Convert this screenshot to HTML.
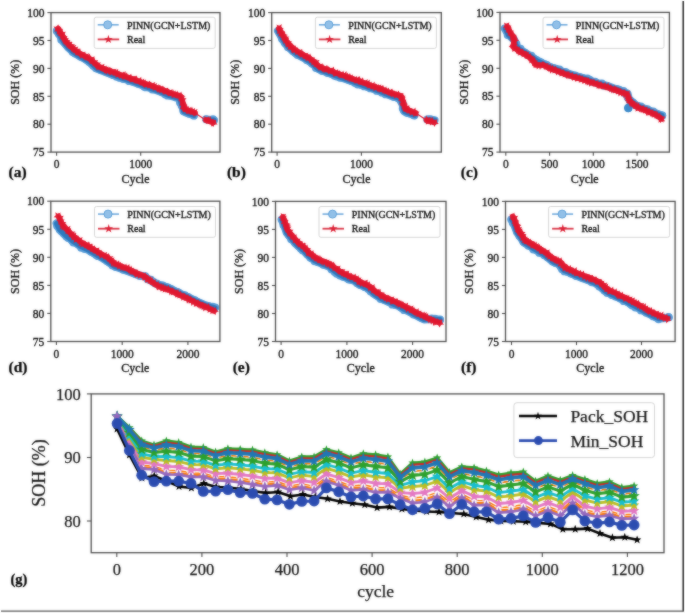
<!DOCTYPE html>
<html><head><meta charset="utf-8"><style>
html,body{margin:0;padding:0;background:#fff;}
svg{display:block;font-family:"Liberation Serif", serif;}
</style></head><body>
<svg width="685" height="613" viewBox="0 0 685 613">
<defs><filter id="soft" x="0" y="0" width="685" height="613" filterUnits="userSpaceOnUse" color-interpolation-filters="sRGB"><feGaussianBlur in="SourceGraphic" stdDeviation="0.8" result="b"/><feComposite in="SourceGraphic" in2="b" operator="arithmetic" k1="0" k2="0.5" k3="0.5" k4="0"/></filter></defs>
<g filter="url(#soft)">
<rect width="685" height="613" fill="#fff"/>
<path d="M57.2,30.9L61.2,37.7L64.5,43.2L68.6,48.1L73.5,52.2L78.4,55.5L84.1,58.7L89.8,62.0L97.8,69.2L109.4,73.6L119.7,77.2L129.9,80.9L140.1,84.5L150.3,88.2L160.5,91.8L169.3,95.5L179.5,98.4L182.2,105.8L183.7,111.6L189.6,113.8L194.0,115.3" fill="none" stroke="#5a9dd8" stroke-width="7.8" stroke-linejoin="round" stroke-linecap="round"/>
<path d="M206.5,119.5L214.0,120.2" fill="none" stroke="#5a9dd8" stroke-width="7.8" stroke-linejoin="round" stroke-linecap="round"/>
<circle cx="56.7" cy="31.0" r="3.9" fill="#5a9dd8"/>
<circle cx="58.6" cy="33.8" r="3.9" fill="#5a9dd8"/>
<circle cx="60.7" cy="35.6" r="3.9" fill="#5a9dd8"/>
<circle cx="61.2" cy="39.8" r="3.9" fill="#5a9dd8"/>
<circle cx="63.3" cy="41.4" r="3.9" fill="#5a9dd8"/>
<circle cx="66.5" cy="44.4" r="3.9" fill="#5a9dd8"/>
<circle cx="68.2" cy="46.9" r="3.9" fill="#5a9dd8"/>
<circle cx="70.2" cy="48.6" r="3.9" fill="#5a9dd8"/>
<circle cx="72.6" cy="51.9" r="3.9" fill="#5a9dd8"/>
<circle cx="75.0" cy="53.6" r="3.9" fill="#5a9dd8"/>
<circle cx="77.9" cy="54.2" r="3.9" fill="#5a9dd8"/>
<circle cx="80.8" cy="56.7" r="3.9" fill="#5a9dd8"/>
<circle cx="82.8" cy="57.3" r="3.9" fill="#5a9dd8"/>
<circle cx="86.6" cy="59.7" r="3.9" fill="#5a9dd8"/>
<circle cx="89.1" cy="62.0" r="3.9" fill="#5a9dd8"/>
<circle cx="91.6" cy="64.0" r="3.9" fill="#5a9dd8"/>
<circle cx="93.4" cy="65.9" r="3.9" fill="#5a9dd8"/>
<circle cx="95.9" cy="68.3" r="3.9" fill="#5a9dd8"/>
<circle cx="99.2" cy="68.7" r="3.9" fill="#5a9dd8"/>
<circle cx="100.8" cy="70.1" r="3.9" fill="#5a9dd8"/>
<circle cx="105.3" cy="71.6" r="3.9" fill="#5a9dd8"/>
<circle cx="107.7" cy="72.5" r="3.9" fill="#5a9dd8"/>
<circle cx="110.5" cy="73.8" r="3.9" fill="#5a9dd8"/>
<circle cx="113.2" cy="75.2" r="3.9" fill="#5a9dd8"/>
<circle cx="116.6" cy="76.8" r="3.9" fill="#5a9dd8"/>
<circle cx="119.8" cy="77.9" r="3.9" fill="#5a9dd8"/>
<circle cx="123.2" cy="79.1" r="3.9" fill="#5a9dd8"/>
<circle cx="125.8" cy="78.7" r="3.9" fill="#5a9dd8"/>
<circle cx="129.2" cy="81.2" r="3.9" fill="#5a9dd8"/>
<circle cx="132.3" cy="81.6" r="3.9" fill="#5a9dd8"/>
<circle cx="135.0" cy="82.0" r="3.9" fill="#5a9dd8"/>
<circle cx="138.2" cy="83.7" r="3.9" fill="#5a9dd8"/>
<circle cx="140.2" cy="83.9" r="3.9" fill="#5a9dd8"/>
<circle cx="144.3" cy="86.7" r="3.9" fill="#5a9dd8"/>
<circle cx="145.9" cy="87.4" r="3.9" fill="#5a9dd8"/>
<circle cx="149.5" cy="87.3" r="3.9" fill="#5a9dd8"/>
<circle cx="152.3" cy="89.5" r="3.9" fill="#5a9dd8"/>
<circle cx="156.3" cy="89.3" r="3.9" fill="#5a9dd8"/>
<circle cx="158.9" cy="90.3" r="3.9" fill="#5a9dd8"/>
<circle cx="162.1" cy="92.0" r="3.9" fill="#5a9dd8"/>
<circle cx="165.3" cy="94.4" r="3.9" fill="#5a9dd8"/>
<circle cx="167.6" cy="95.7" r="3.9" fill="#5a9dd8"/>
<circle cx="170.2" cy="95.1" r="3.9" fill="#5a9dd8"/>
<circle cx="173.8" cy="95.9" r="3.9" fill="#5a9dd8"/>
<circle cx="176.2" cy="97.4" r="3.9" fill="#5a9dd8"/>
<circle cx="179.8" cy="98.1" r="3.9" fill="#5a9dd8"/>
<circle cx="179.9" cy="102.4" r="3.9" fill="#5a9dd8"/>
<circle cx="181.5" cy="105.5" r="3.9" fill="#5a9dd8"/>
<circle cx="183.4" cy="107.6" r="3.9" fill="#5a9dd8"/>
<circle cx="183.4" cy="110.9" r="3.9" fill="#5a9dd8"/>
<circle cx="186.3" cy="112.6" r="3.9" fill="#5a9dd8"/>
<circle cx="189.1" cy="113.8" r="3.9" fill="#5a9dd8"/>
<circle cx="192.8" cy="114.6" r="3.9" fill="#5a9dd8"/>
<circle cx="193.9" cy="115.7" r="3.9" fill="#5a9dd8"/>
<circle cx="206.0" cy="119.1" r="3.9" fill="#5a9dd8"/>
<circle cx="210.5" cy="119.8" r="3.9" fill="#5a9dd8"/>
<circle cx="213.0" cy="119.2" r="3.9" fill="#5a9dd8"/>
<circle cx="213.8" cy="120.3" r="3.9" fill="#5a9dd8"/>
<path d="M57.2,30.9L61.2,37.7L64.5,43.2L68.6,48.1L73.5,52.2L78.4,55.5L84.1,58.7L89.8,62.0L97.8,69.2L109.4,73.6L119.7,77.2L129.9,80.9L140.1,84.5L150.3,88.2L160.5,91.8L169.3,95.5L179.5,98.4L182.2,105.8L183.7,111.6L189.6,113.8L194.0,115.3" fill="none" stroke="#2a7abf" stroke-width="5.2" stroke-linejoin="round" stroke-linecap="round"/>
<path d="M206.5,119.5L214.0,120.2" fill="none" stroke="#2a7abf" stroke-width="5.2" stroke-linejoin="round" stroke-linecap="round"/>
<path d="M58.2,28.5L62.2,35.3L65.5,40.8L69.6,45.7L74.5,49.8L79.4,53.1L85.1,56.3L90.8,59.6L98.8,66.8L110.4,71.2L120.7,74.8L130.9,78.5L141.1,82.1L151.3,85.8L161.5,89.4L170.3,93.1L180.5,96.0L183.2,103.4L184.7,109.2L190.6,111.4L195.0,112.9" fill="none" stroke="#e0162e" stroke-width="5.6" stroke-linejoin="round" stroke-linecap="round"/>
<path d="M206.0,120.2L213.3,122.4" fill="none" stroke="#e0162e" stroke-width="5.6" stroke-linejoin="round" stroke-linecap="round"/>
<path d="M58.2,24.2L59.0,27.2L62.0,28.0L59.3,29.6L59.6,32.7L57.2,30.7L54.3,31.8L55.5,29.0L53.5,26.6L56.6,26.9ZM58.8,26.5L60.1,29.3L63.2,29.4L60.9,31.6L61.7,34.5L59.0,33.0L56.5,34.8L57.1,31.7L54.6,29.8L57.7,29.4ZM62.3,28.6L62.7,31.7L65.7,32.7L62.9,34.0L62.9,37.1L60.7,34.9L57.7,35.8L59.2,33.1L57.4,30.5L60.4,31.1ZM60.4,30.9L62.8,32.8L65.6,31.5L64.6,34.4L66.8,36.6L63.7,36.6L62.2,39.3L61.3,36.3L58.2,35.8L60.8,34.0ZM62.6,34.1L64.6,36.5L67.6,35.9L66.0,38.5L67.5,41.1L64.5,40.4L62.5,42.7L62.3,39.6L59.4,38.4L62.3,37.2ZM64.1,35.8L65.8,38.4L68.9,38.0L67.0,40.4L68.4,43.2L65.5,42.2L63.2,44.4L63.3,41.3L60.5,39.8L63.5,38.9ZM65.8,37.5L67.4,40.2L70.5,39.9L68.5,42.3L69.7,45.2L66.8,44.0L64.5,46.0L64.7,42.9L62.1,41.3L65.1,40.6ZM67.9,39.6L69.5,42.3L72.6,42.0L70.6,44.4L71.7,47.3L68.9,46.0L66.5,48.0L66.8,44.9L64.1,43.3L67.2,42.6ZM71.1,41.1L72.0,44.1L75.1,44.6L72.5,46.4L73.0,49.5L70.5,47.6L67.7,49.0L68.7,46.1L66.5,43.9L69.6,43.9ZM71.2,43.5L73.3,45.8L76.3,45.0L74.7,47.7L76.4,50.3L73.4,49.7L71.4,52.1L71.1,49.0L68.2,47.8L71.0,46.6ZM73.2,45.2L75.4,47.4L78.3,46.5L76.9,49.3L78.7,51.8L75.6,51.3L73.7,53.7L73.3,50.7L70.4,49.7L73.2,48.3ZM74.5,47.5L76.9,49.5L79.7,48.3L78.6,51.2L80.6,53.6L77.5,53.3L75.9,56.0L75.2,53.0L72.1,52.3L74.8,50.6ZM80.4,48.4L80.4,51.5L83.1,52.9L80.2,53.9L79.7,56.9L77.9,54.4L74.8,54.9L76.6,52.4L75.3,49.6L78.2,50.6ZM79.4,50.5L81.6,52.7L84.6,51.7L83.2,54.5L85.0,57.0L81.9,56.5L80.1,59.0L79.6,56.0L76.7,55.0L79.4,53.6ZM85.4,51.6L85.2,54.7L87.8,56.3L84.8,57.1L84.1,60.1L82.5,57.5L79.4,57.7L81.4,55.4L80.2,52.5L83.0,53.7ZM83.9,52.4L86.2,54.4L89.1,53.3L87.9,56.1L89.9,58.5L86.8,58.2L85.1,60.8L84.4,57.8L81.4,57.0L84.1,55.5ZM89.9,53.5L90.0,56.6L92.8,58.0L89.9,59.0L89.5,62.1L87.6,59.6L84.5,60.2L86.3,57.6L84.8,54.9L87.8,55.8ZM89.9,54.7L91.8,57.2L94.9,56.6L93.1,59.1L94.6,61.9L91.6,61.0L89.5,63.3L89.4,60.2L86.6,58.8L89.5,57.8ZM94.7,57.3L94.8,60.4L97.6,61.7L94.7,62.7L94.2,65.8L92.4,63.4L89.3,63.9L91.1,61.4L89.6,58.6L92.6,59.5ZM93.3,58.2L95.2,60.7L98.2,60.1L96.5,62.7L97.9,65.4L94.9,64.5L92.8,66.7L92.7,63.6L89.9,62.3L92.9,61.3ZM96.2,60.1L97.9,62.7L101.0,62.4L99.1,64.8L100.3,67.7L97.4,66.5L95.1,68.6L95.3,65.5L92.6,64.0L95.6,63.2ZM98.1,62.1L99.6,64.8L102.7,64.7L100.5,67.0L101.6,69.9L98.8,68.6L96.3,70.5L96.7,67.4L94.1,65.7L97.2,65.1ZM99.2,63.5L101.8,65.2L104.5,63.7L103.7,66.7L106.0,68.7L102.9,68.9L101.6,71.7L100.5,68.8L97.4,68.5L99.8,66.5ZM106.8,65.4L106.2,68.5L108.6,70.4L105.6,70.8L104.5,73.7L103.2,70.9L100.1,70.8L102.4,68.6L101.5,65.7L104.2,67.2ZM108.3,66.3L108.0,69.4L110.5,71.1L107.5,71.7L106.6,74.7L105.1,72.0L102.0,72.1L104.1,69.8L103.1,66.9L105.9,68.2ZM110.1,66.8L110.1,69.9L112.8,71.3L109.9,72.2L109.3,75.3L107.5,72.8L104.5,73.2L106.3,70.7L105.0,68.0L107.9,68.9ZM110.4,67.2L112.2,69.6L115.3,69.1L113.5,71.7L115.0,74.4L112.0,73.5L109.8,75.7L109.8,72.6L107.0,71.3L109.9,70.2ZM111.4,68.1L113.8,70.0L116.6,68.7L115.6,71.6L117.7,73.9L114.6,73.8L113.1,76.5L112.2,73.5L109.2,72.9L111.7,71.2ZM118.1,68.8L118.2,71.9L121.0,73.2L118.1,74.3L117.6,77.3L115.8,74.9L112.7,75.4L114.5,72.9L113.0,70.1L116.0,71.0ZM119.3,70.4L119.8,73.4L122.8,74.4L120.0,75.8L120.0,78.9L117.8,76.7L114.9,77.7L116.3,74.9L114.4,72.4L117.5,72.9ZM124.1,71.6L123.9,74.7L126.5,76.4L123.5,77.1L122.7,80.1L121.1,77.4L118.0,77.6L120.1,75.3L118.9,72.4L121.8,73.6ZM125.4,71.0L125.7,74.1L128.6,75.2L125.8,76.5L125.6,79.6L123.5,77.3L120.5,78.0L122.1,75.4L120.4,72.7L123.4,73.4ZM127.0,72.2L127.6,75.3L130.5,76.1L127.8,77.6L128.0,80.7L125.7,78.6L122.8,79.7L124.1,76.9L122.1,74.4L125.2,74.8ZM131.4,73.8L131.0,76.9L133.5,78.7L130.5,79.2L129.6,82.2L128.1,79.5L125.0,79.5L127.1,77.3L126.1,74.4L128.9,75.7ZM130.5,74.2L132.4,76.6L135.5,75.9L133.8,78.6L135.4,81.2L132.4,80.5L130.3,82.8L130.1,79.7L127.3,78.5L130.2,77.3ZM136.2,75.4L136.3,78.5L139.2,79.7L136.3,80.8L136.0,83.9L134.0,81.5L131.0,82.2L132.6,79.6L131.1,76.9L134.1,77.7ZM136.7,75.6L137.8,78.5L140.8,78.9L138.4,80.8L139.0,83.9L136.4,82.1L133.7,83.7L134.5,80.7L132.3,78.6L135.4,78.4ZM141.2,76.8L141.4,79.9L144.2,81.1L141.3,82.2L140.9,85.3L139.0,82.9L136.0,83.5L137.7,80.9L136.2,78.2L139.1,79.0ZM144.1,78.6L144.1,81.7L146.9,83.1L143.9,84.1L143.5,87.2L141.6,84.7L138.6,85.1L140.4,82.6L139.0,79.9L141.9,80.8ZM145.5,79.4L145.4,82.5L148.1,84.0L145.1,84.8L144.5,87.9L142.8,85.3L139.7,85.6L141.6,83.2L140.3,80.4L143.3,81.5ZM145.0,79.5L146.9,82.0L150.0,81.4L148.3,83.9L149.8,86.6L146.8,85.8L144.7,88.1L144.6,85.0L141.7,83.7L144.6,82.6ZM149.3,80.5L150.6,83.3L153.7,83.5L151.4,85.6L152.2,88.6L149.5,87.0L146.9,88.7L147.5,85.7L145.1,83.8L148.2,83.4ZM150.0,81.5L152.5,83.3L155.3,82.0L154.3,84.9L156.5,87.1L153.4,87.1L151.9,89.8L151.0,86.9L147.9,86.3L150.5,84.5ZM151.7,82.5L154.2,84.4L157.0,83.1L156.0,86.0L158.1,88.3L155.0,88.2L153.5,90.9L152.6,87.9L149.6,87.3L152.1,85.6ZM155.6,84.4L158.0,86.3L160.8,85.1L159.7,88.0L161.8,90.3L158.7,90.1L157.1,92.8L156.3,89.8L153.3,89.1L155.9,87.4ZM158.6,84.1L160.4,86.6L163.5,86.2L161.6,88.7L163.0,91.4L160.0,90.4L157.8,92.6L157.9,89.5L155.1,88.1L158.1,87.1ZM162.4,85.4L163.3,88.4L166.3,88.9L163.8,90.7L164.2,93.8L161.7,91.9L158.9,93.2L159.9,90.3L157.8,88.0L160.9,88.1ZM163.5,85.9L165.2,88.4L168.3,88.0L166.4,90.5L167.7,93.3L164.8,92.3L162.6,94.4L162.7,91.3L159.9,89.8L162.9,88.9ZM167.7,87.5L168.1,90.6L171.1,91.6L168.3,92.9L168.2,96.0L166.1,93.8L163.1,94.7L164.6,91.9L162.8,89.4L165.8,89.9ZM167.7,88.0L169.9,90.2L172.9,89.3L171.4,92.1L173.2,94.6L170.2,94.1L168.3,96.6L167.9,93.5L164.9,92.5L167.7,91.1ZM173.5,89.5L173.6,92.6L176.5,93.9L173.6,95.0L173.3,98.1L171.3,95.7L168.3,96.3L170.0,93.7L168.4,91.0L171.4,91.8ZM175.2,90.3L176.0,93.3L179.0,94.0L176.4,95.7L176.7,98.8L174.3,96.8L171.4,98.0L172.6,95.1L170.6,92.8L173.6,93.0ZM177.2,90.4L178.4,93.3L181.5,93.5L179.2,95.5L179.9,98.6L177.3,97.0L174.6,98.6L175.3,95.6L173.0,93.6L176.1,93.3ZM181.3,91.4L181.8,94.4L184.7,95.4L182.0,96.8L182.0,99.9L179.8,97.7L176.8,98.7L178.2,95.9L176.4,93.4L179.4,93.9ZM181.4,93.1L182.4,96.1L185.5,96.4L183.1,98.3L183.7,101.4L181.1,99.7L178.4,101.2L179.2,98.2L177.0,96.1L180.1,95.9ZM182.0,95.4L183.5,98.2L186.6,98.2L184.4,100.4L185.4,103.3L182.6,101.9L180.1,103.8L180.6,100.7L178.0,98.9L181.1,98.4ZM185.2,99.7L184.8,102.8L187.4,104.5L184.3,105.1L183.4,108.1L182.0,105.4L178.9,105.4L181.0,103.2L180.0,100.3L182.8,101.6ZM185.2,102.0L185.3,105.1L188.1,106.4L185.2,107.5L184.9,110.6L182.9,108.1L179.9,108.7L181.6,106.2L180.1,103.5L183.1,104.3ZM182.2,104.2L184.5,106.2L187.4,105.1L186.1,108.0L188.1,110.4L185.0,110.1L183.3,112.7L182.7,109.6L179.7,108.9L182.3,107.3ZM188.8,106.0L188.6,109.1L191.2,110.7L188.2,111.5L187.5,114.5L185.9,111.9L182.8,112.1L184.8,109.7L183.6,106.9L186.5,108.0ZM190.5,106.7L190.9,109.7L193.8,110.8L191.0,112.1L190.8,115.2L188.7,112.9L185.7,113.8L187.3,111.1L185.6,108.5L188.6,109.1ZM192.0,106.6L192.9,109.6L195.9,110.2L193.4,111.9L193.7,115.0L191.3,113.1L188.5,114.5L189.5,111.5L187.4,109.3L190.5,109.4ZM194.7,107.8L194.9,110.9L197.8,112.1L194.9,113.3L194.6,116.3L192.6,114.0L189.6,114.6L191.2,112.0L189.7,109.3L192.7,110.1ZM192.3,108.3L194.7,110.3L197.5,109.1L196.4,112.0L198.4,114.3L195.3,114.1L193.7,116.8L192.9,113.8L189.9,113.1L192.5,111.4ZM204.1,116.0L206.6,117.7L209.4,116.3L208.5,119.2L210.7,121.4L207.6,121.5L206.3,124.2L205.3,121.3L202.2,120.9L204.6,119.0ZM210.9,116.3L210.8,119.4L213.5,120.9L210.6,121.8L210.0,124.8L208.3,122.3L205.2,122.7L207.0,120.2L205.7,117.5L208.6,118.5ZM213.7,118.4L213.3,121.4L215.8,123.2L212.7,123.8L211.8,126.7L210.4,124.0L207.3,124.0L209.4,121.8L208.5,118.8L211.2,120.2ZM211.0,119.0L213.6,120.8L216.3,119.4L215.4,122.3L217.6,124.5L214.5,124.5L213.1,127.3L212.1,124.4L209.0,123.9L211.5,122.1Z" fill="#e0162e"/>
<path d="M195.0,112.9L206.0,120.2" fill="none" stroke="#e0172e" stroke-width="1.2"/>
<rect x="51" y="12.6" width="169.0" height="139.5" fill="none" stroke="#4d4d4d" stroke-width="1.3"/>
<line x1="47.4" y1="12.6" x2="51" y2="12.6" stroke="#4d4d4d" stroke-width="1.1"/>
<text x="44.5" y="16.8" font-size="11.5" text-anchor="end" font-weight="normal" fill="#141414" stroke="#141414" stroke-width="0.35" >100</text>
<line x1="47.4" y1="40.5" x2="51" y2="40.5" stroke="#4d4d4d" stroke-width="1.1"/>
<text x="44.5" y="44.7" font-size="11.5" text-anchor="end" font-weight="normal" fill="#141414" stroke="#141414" stroke-width="0.35" >95</text>
<line x1="47.4" y1="68.4" x2="51" y2="68.4" stroke="#4d4d4d" stroke-width="1.1"/>
<text x="44.5" y="72.6" font-size="11.5" text-anchor="end" font-weight="normal" fill="#141414" stroke="#141414" stroke-width="0.35" >90</text>
<line x1="47.4" y1="96.3" x2="51" y2="96.3" stroke="#4d4d4d" stroke-width="1.1"/>
<text x="44.5" y="100.5" font-size="11.5" text-anchor="end" font-weight="normal" fill="#141414" stroke="#141414" stroke-width="0.35" >85</text>
<line x1="47.4" y1="124.2" x2="51" y2="124.2" stroke="#4d4d4d" stroke-width="1.1"/>
<text x="44.5" y="128.4" font-size="11.5" text-anchor="end" font-weight="normal" fill="#141414" stroke="#141414" stroke-width="0.35" >80</text>
<line x1="47.4" y1="152.1" x2="51" y2="152.1" stroke="#4d4d4d" stroke-width="1.1"/>
<text x="44.5" y="156.3" font-size="11.5" text-anchor="end" font-weight="normal" fill="#141414" stroke="#141414" stroke-width="0.35" >75</text>
<line x1="56.6" y1="152.1" x2="56.6" y2="155.7" stroke="#4d4d4d" stroke-width="1.1"/>
<text x="56.6" y="168.1" font-size="11.5" text-anchor="middle" font-weight="normal" fill="#141414" stroke="#141414" stroke-width="0.35" >0</text>
<line x1="140.7" y1="152.1" x2="140.7" y2="155.7" stroke="#4d4d4d" stroke-width="1.1"/>
<text x="140.7" y="168.1" font-size="11.5" text-anchor="middle" font-weight="normal" fill="#141414" stroke="#141414" stroke-width="0.35" >1000</text>
<text x="135.5" y="182.6" font-size="12" text-anchor="middle" font-weight="normal" fill="#141414" stroke="#141414" stroke-width="0.35" >Cycle</text>
<text x="0" y="0" font-size="12" text-anchor="middle" fill="#141414" stroke="#141414" stroke-width="0.35" transform="translate(18.7,82.3) rotate(-90)">SOH (%)</text>
<text x="8.5" y="176.6" font-size="15.5" text-anchor="start" font-weight="bold" fill="#000" stroke="#000" stroke-width="0.25" >(a)</text>
<rect x="94.2" y="17.2" width="121" height="31.2" rx="2" fill="#fff" fill-opacity="0.85" stroke="#d4d4d4" stroke-width="1"/>
<line x1="97.7" y1="24.799999999999997" x2="118.7" y2="24.799999999999997" stroke="#6fa9dc" stroke-width="1.6"/>
<circle cx="107.7" cy="24.799999999999997" r="4" fill="#92c0e8" stroke="#5b9fd8" stroke-width="1"/>
<line x1="97.7" y1="39.4" x2="119.2" y2="39.4" stroke="#d93344" stroke-width="1.8"/>
<path d="M108.4,34.8L109.4,38.0L112.8,38.0L110.1,39.9L111.1,43.1L108.4,41.2L105.7,43.1L106.7,39.9L104.0,38.0L107.4,38.0Z" fill="#dc1f34"/>
<text x="127.0" y="28.8" font-size="10" text-anchor="start" font-weight="normal" fill="#141414" stroke="#141414" stroke-width="0.35" >PINN(GCN+LSTM)</text>
<text x="127.0" y="43.4" font-size="10" text-anchor="start" font-weight="normal" fill="#141414" stroke="#141414" stroke-width="0.35" >Real</text>
<path d="M277.9,30.9L281.9,37.7L285.2,43.2L289.3,48.1L294.2,52.2L299.1,55.5L304.8,58.7L310.5,62.0L318.5,69.2L330.1,73.6L340.4,77.2L350.6,80.9L360.8,84.5L371.0,88.2L381.2,91.8L390.0,95.5L400.2,98.4L402.9,105.8L404.4,111.6L410.3,113.8L414.7,115.3" fill="none" stroke="#5a9dd8" stroke-width="7.8" stroke-linejoin="round" stroke-linecap="round"/>
<path d="M427.2,119.5L434.7,120.2" fill="none" stroke="#5a9dd8" stroke-width="7.8" stroke-linejoin="round" stroke-linecap="round"/>
<circle cx="278.4" cy="30.9" r="3.9" fill="#5a9dd8"/>
<circle cx="279.9" cy="33.0" r="3.9" fill="#5a9dd8"/>
<circle cx="281.6" cy="37.2" r="3.9" fill="#5a9dd8"/>
<circle cx="282.0" cy="38.9" r="3.9" fill="#5a9dd8"/>
<circle cx="284.5" cy="42.5" r="3.9" fill="#5a9dd8"/>
<circle cx="285.8" cy="43.9" r="3.9" fill="#5a9dd8"/>
<circle cx="287.9" cy="47.2" r="3.9" fill="#5a9dd8"/>
<circle cx="291.1" cy="49.0" r="3.9" fill="#5a9dd8"/>
<circle cx="292.8" cy="51.1" r="3.9" fill="#5a9dd8"/>
<circle cx="295.4" cy="53.0" r="3.9" fill="#5a9dd8"/>
<circle cx="297.5" cy="54.9" r="3.9" fill="#5a9dd8"/>
<circle cx="301.9" cy="56.4" r="3.9" fill="#5a9dd8"/>
<circle cx="304.3" cy="57.5" r="3.9" fill="#5a9dd8"/>
<circle cx="306.9" cy="60.2" r="3.9" fill="#5a9dd8"/>
<circle cx="309.7" cy="61.4" r="3.9" fill="#5a9dd8"/>
<circle cx="311.9" cy="63.5" r="3.9" fill="#5a9dd8"/>
<circle cx="315.0" cy="64.8" r="3.9" fill="#5a9dd8"/>
<circle cx="315.9" cy="68.0" r="3.9" fill="#5a9dd8"/>
<circle cx="319.9" cy="69.5" r="3.9" fill="#5a9dd8"/>
<circle cx="322.1" cy="71.0" r="3.9" fill="#5a9dd8"/>
<circle cx="324.6" cy="71.3" r="3.9" fill="#5a9dd8"/>
<circle cx="327.6" cy="73.0" r="3.9" fill="#5a9dd8"/>
<circle cx="330.8" cy="73.5" r="3.9" fill="#5a9dd8"/>
<circle cx="334.5" cy="75.8" r="3.9" fill="#5a9dd8"/>
<circle cx="336.8" cy="76.5" r="3.9" fill="#5a9dd8"/>
<circle cx="340.1" cy="77.8" r="3.9" fill="#5a9dd8"/>
<circle cx="343.4" cy="77.8" r="3.9" fill="#5a9dd8"/>
<circle cx="345.7" cy="78.5" r="3.9" fill="#5a9dd8"/>
<circle cx="349.2" cy="80.2" r="3.9" fill="#5a9dd8"/>
<circle cx="351.7" cy="81.2" r="3.9" fill="#5a9dd8"/>
<circle cx="355.0" cy="83.0" r="3.9" fill="#5a9dd8"/>
<circle cx="357.7" cy="84.5" r="3.9" fill="#5a9dd8"/>
<circle cx="361.3" cy="84.9" r="3.9" fill="#5a9dd8"/>
<circle cx="364.3" cy="86.4" r="3.9" fill="#5a9dd8"/>
<circle cx="367.9" cy="87.0" r="3.9" fill="#5a9dd8"/>
<circle cx="370.3" cy="88.4" r="3.9" fill="#5a9dd8"/>
<circle cx="374.0" cy="88.8" r="3.9" fill="#5a9dd8"/>
<circle cx="376.8" cy="90.9" r="3.9" fill="#5a9dd8"/>
<circle cx="379.3" cy="90.7" r="3.9" fill="#5a9dd8"/>
<circle cx="381.9" cy="92.7" r="3.9" fill="#5a9dd8"/>
<circle cx="385.6" cy="94.4" r="3.9" fill="#5a9dd8"/>
<circle cx="388.9" cy="94.3" r="3.9" fill="#5a9dd8"/>
<circle cx="390.7" cy="95.4" r="3.9" fill="#5a9dd8"/>
<circle cx="393.8" cy="97.1" r="3.9" fill="#5a9dd8"/>
<circle cx="398.1" cy="98.3" r="3.9" fill="#5a9dd8"/>
<circle cx="399.9" cy="99.4" r="3.9" fill="#5a9dd8"/>
<circle cx="401.1" cy="101.6" r="3.9" fill="#5a9dd8"/>
<circle cx="402.9" cy="104.0" r="3.9" fill="#5a9dd8"/>
<circle cx="402.7" cy="108.4" r="3.9" fill="#5a9dd8"/>
<circle cx="403.8" cy="110.6" r="3.9" fill="#5a9dd8"/>
<circle cx="406.8" cy="112.8" r="3.9" fill="#5a9dd8"/>
<circle cx="408.8" cy="113.3" r="3.9" fill="#5a9dd8"/>
<circle cx="412.6" cy="114.6" r="3.9" fill="#5a9dd8"/>
<circle cx="414.2" cy="115.5" r="3.9" fill="#5a9dd8"/>
<circle cx="428.0" cy="119.3" r="3.9" fill="#5a9dd8"/>
<circle cx="430.5" cy="119.1" r="3.9" fill="#5a9dd8"/>
<circle cx="433.2" cy="120.4" r="3.9" fill="#5a9dd8"/>
<circle cx="434.0" cy="120.9" r="3.9" fill="#5a9dd8"/>
<path d="M277.9,30.9L281.9,37.7L285.2,43.2L289.3,48.1L294.2,52.2L299.1,55.5L304.8,58.7L310.5,62.0L318.5,69.2L330.1,73.6L340.4,77.2L350.6,80.9L360.8,84.5L371.0,88.2L381.2,91.8L390.0,95.5L400.2,98.4L402.9,105.8L404.4,111.6L410.3,113.8L414.7,115.3" fill="none" stroke="#2a7abf" stroke-width="5.2" stroke-linejoin="round" stroke-linecap="round"/>
<path d="M427.2,119.5L434.7,120.2" fill="none" stroke="#2a7abf" stroke-width="5.2" stroke-linejoin="round" stroke-linecap="round"/>
<path d="M278.9,28.5L282.9,35.3L286.2,40.8L290.3,45.7L295.2,49.8L300.1,53.1L305.8,56.3L311.5,59.6L319.5,66.8L331.1,71.2L341.4,74.8L351.6,78.5L361.8,82.1L372.0,85.8L382.2,89.4L391.0,93.1L401.2,96.0L403.9,103.4L405.4,109.2L411.3,111.4L415.7,112.9" fill="none" stroke="#e0162e" stroke-width="5.6" stroke-linejoin="round" stroke-linecap="round"/>
<path d="M426.7,120.2L434.0,122.4" fill="none" stroke="#e0162e" stroke-width="5.6" stroke-linejoin="round" stroke-linecap="round"/>
<path d="M281.7,24.1L281.3,27.1L283.9,28.9L280.8,29.4L279.9,32.4L278.4,29.7L275.4,29.7L277.5,27.5L276.5,24.6L279.3,25.9ZM281.5,26.9L281.7,30.0L284.6,31.2L281.7,32.4L281.5,35.5L279.5,33.1L276.5,33.9L278.1,31.2L276.4,28.6L279.5,29.3ZM282.2,29.0L282.8,32.0L285.8,32.8L283.1,34.4L283.3,37.5L281.0,35.4L278.1,36.5L279.3,33.7L277.4,31.2L280.5,31.6ZM284.8,30.9L285.1,33.9L287.9,35.1L285.1,36.3L284.9,39.4L282.8,37.1L279.8,37.8L281.4,35.2L279.8,32.5L282.8,33.2ZM285.2,33.5L286.3,36.5L289.4,36.8L286.9,38.7L287.5,41.8L285.0,40.1L282.2,41.6L283.1,38.6L280.8,36.5L283.9,36.3ZM284.5,35.7L286.1,38.3L289.2,38.0L287.3,40.4L288.5,43.2L285.6,42.1L283.3,44.2L283.5,41.1L280.8,39.5L283.8,38.7ZM288.1,38.0L289.0,41.0L292.1,41.5L289.6,43.3L290.1,46.3L287.6,44.5L284.8,45.9L285.8,43.0L283.6,40.8L286.7,40.8ZM289.4,40.1L290.1,43.1L293.1,43.8L290.5,45.4L290.7,48.5L288.4,46.5L285.5,47.7L286.7,44.8L284.7,42.5L287.8,42.7ZM291.4,42.4L292.0,45.4L295.0,46.3L292.3,47.8L292.5,50.9L290.2,48.8L287.3,49.9L288.5,47.1L286.6,44.7L289.7,45.0ZM290.7,44.5L292.9,46.6L295.8,45.6L294.6,48.4L296.5,50.8L293.4,50.5L291.7,53.0L291.0,50.0L288.1,49.1L290.8,47.6ZM295.4,45.6L296.3,48.6L299.3,49.2L296.7,50.9L297.1,54.0L294.7,52.1L291.9,53.4L292.9,50.5L290.8,48.2L293.9,48.3ZM297.2,47.0L298.6,49.8L301.7,49.9L299.4,52.0L300.3,55.0L297.6,53.5L295.0,55.2L295.6,52.2L293.1,50.3L296.2,49.9ZM297.1,48.4L299.6,50.3L302.4,49.0L301.3,51.9L303.4,54.2L300.4,54.1L298.9,56.8L298.0,53.8L294.9,53.2L297.5,51.5ZM302.5,50.0L303.5,52.9L306.6,53.3L304.1,55.2L304.7,58.3L302.1,56.5L299.4,58.0L300.3,55.0L298.0,52.9L301.1,52.8ZM303.4,50.9L305.3,53.4L308.4,52.7L306.7,55.3L308.2,58.0L305.2,57.2L303.1,59.5L303.0,56.4L300.1,55.1L303.0,54.0ZM304.1,53.5L306.6,55.3L309.4,53.9L308.4,56.8L310.6,59.0L307.5,59.0L306.1,61.8L305.2,58.8L302.1,58.4L304.6,56.5ZM310.4,53.5L310.6,56.6L313.5,57.8L310.6,59.0L310.3,62.1L308.3,59.7L305.3,60.4L307.0,57.8L305.4,55.1L308.4,55.9ZM310.6,54.8L312.1,57.5L315.2,57.4L313.1,59.7L314.2,62.6L311.3,61.3L308.9,63.2L309.3,60.1L306.7,58.4L309.7,57.8ZM312.6,57.2L314.3,59.8L317.4,59.5L315.4,61.9L316.7,64.8L313.8,63.6L311.4,65.7L311.6,62.6L308.9,61.0L311.9,60.2ZM314.6,58.2L316.5,60.6L319.6,60.0L317.9,62.6L319.4,65.3L316.4,64.5L314.3,66.8L314.2,63.7L311.3,62.4L314.3,61.3ZM318.3,60.1L318.5,63.2L321.3,64.4L318.4,65.6L318.1,68.6L316.1,66.2L313.1,66.9L314.8,64.3L313.2,61.6L316.2,62.4ZM318.0,62.1L320.2,64.3L323.2,63.4L321.7,66.1L323.5,68.7L320.4,68.1L318.6,70.6L318.1,67.5L315.2,66.5L318.0,65.1ZM323.4,63.9L323.5,67.0L326.2,68.3L323.3,69.3L322.9,72.4L321.0,69.9L317.9,70.4L319.7,67.9L318.3,65.2L321.2,66.1ZM322.9,64.7L325.1,66.8L328.1,65.8L326.7,68.6L328.6,71.0L325.6,70.6L323.8,73.2L323.2,70.1L320.3,69.3L323.0,67.8ZM326.9,64.7L328.0,67.6L331.1,67.9L328.7,69.9L329.3,72.9L326.7,71.2L324.0,72.7L324.8,69.7L322.5,67.7L325.6,67.5ZM328.2,65.9L330.2,68.2L333.2,67.6L331.6,70.2L333.1,72.8L330.1,72.1L328.1,74.4L327.9,71.3L325.0,70.1L327.9,68.9ZM334.0,66.6L334.1,69.7L336.9,71.1L333.9,72.1L333.5,75.2L331.6,72.7L328.6,73.3L330.3,70.7L328.9,68.0L331.8,68.9ZM334.4,68.6L336.0,71.2L339.1,71.0L337.1,73.4L338.2,76.3L335.3,75.0L333.0,77.0L333.2,73.9L330.6,72.2L333.7,71.6ZM337.9,69.0L338.6,72.0L341.6,72.7L338.9,74.3L339.2,77.4L336.8,75.4L333.9,76.6L335.1,73.7L333.1,71.3L336.2,71.6ZM339.2,70.1L341.0,72.6L344.1,72.1L342.3,74.6L343.7,77.3L340.8,76.4L338.6,78.6L338.6,75.5L335.8,74.1L338.7,73.1ZM343.2,70.6L344.0,73.6L347.1,74.2L344.5,75.9L344.8,79.0L342.4,77.1L339.6,78.3L340.7,75.4L338.6,73.2L341.7,73.3ZM346.4,71.0L346.7,74.1L349.5,75.3L346.6,76.5L346.4,79.6L344.4,77.2L341.3,77.9L343.0,75.3L341.4,72.6L344.4,73.4ZM347.6,72.4L348.7,75.3L351.8,75.6L349.4,77.6L350.0,80.6L347.4,78.9L344.7,80.5L345.5,77.5L343.2,75.4L346.3,75.2ZM349.9,72.9L351.0,75.8L354.0,76.2L351.6,78.1L352.2,81.1L349.6,79.4L346.9,81.0L347.8,78.0L345.5,75.9L348.6,75.7ZM352.4,74.3L353.1,77.3L356.1,78.1L353.5,79.7L353.6,82.8L351.3,80.7L348.4,81.9L349.7,79.0L347.7,76.6L350.8,76.9ZM357.1,75.9L356.7,79.0L359.2,80.8L356.1,81.3L355.1,84.2L353.7,81.5L350.6,81.5L352.8,79.3L351.9,76.3L354.6,77.7ZM359.5,75.8L359.6,78.9L362.5,80.2L359.5,81.3L359.2,84.4L357.3,81.9L354.2,82.5L355.9,80.0L354.4,77.3L357.4,78.1ZM359.4,76.4L361.0,79.0L364.1,78.7L362.1,81.1L363.3,84.0L360.5,82.8L358.1,84.9L358.3,81.8L355.7,80.2L358.7,79.4ZM362.3,77.3L363.4,80.2L366.5,80.6L364.0,82.5L364.6,85.5L362.0,83.8L359.3,85.3L360.2,82.3L357.9,80.2L361.0,80.1ZM367.6,79.0L367.4,82.1L370.1,83.6L367.1,84.4L366.5,87.4L364.8,84.9L361.7,85.2L363.6,82.8L362.4,79.9L365.3,81.0ZM369.7,79.6L369.6,82.7L372.3,84.2L369.3,85.1L368.7,88.1L367.0,85.5L363.9,85.9L365.8,83.4L364.5,80.6L367.4,81.7ZM371.4,81.4L371.8,84.4L374.7,85.5L372.0,86.8L371.9,89.9L369.7,87.7L366.8,88.6L368.2,85.8L366.5,83.3L369.5,83.8ZM374.6,81.6L374.7,84.7L377.5,86.1L374.6,87.1L374.1,90.2L372.3,87.7L369.2,88.3L371.0,85.7L369.5,83.0L372.5,83.9ZM375.5,82.9L376.9,85.7L380.0,85.7L377.8,87.9L378.7,90.9L376.0,89.5L373.4,91.3L373.9,88.2L371.4,86.4L374.5,85.9ZM376.1,83.8L378.4,85.8L381.3,84.6L380.1,87.5L382.1,89.9L379.0,89.6L377.4,92.2L376.7,89.2L373.7,88.5L376.3,86.9ZM378.1,83.9L380.2,86.2L383.2,85.3L381.7,88.0L383.4,90.6L380.4,90.0L378.5,92.5L378.1,89.4L375.2,88.3L378.0,87.0ZM383.4,85.3L383.9,88.3L386.8,89.3L384.1,90.7L384.1,93.8L381.9,91.6L378.9,92.6L380.3,89.8L378.5,87.3L381.6,87.8ZM386.2,86.2L386.8,89.2L389.8,90.0L387.1,91.6L387.3,94.7L385.0,92.6L382.1,93.7L383.4,90.9L381.4,88.5L384.5,88.8ZM388.9,87.4L389.2,90.5L392.0,91.7L389.2,92.9L388.9,96.0L386.9,93.6L383.9,94.4L385.5,91.7L383.9,89.1L386.9,89.8ZM392.2,88.4L392.0,91.4L394.6,93.1L391.6,93.8L390.8,96.8L389.2,94.2L386.1,94.4L388.2,92.0L387.0,89.1L389.8,90.4ZM392.5,89.0L394.1,91.6L397.2,91.4L395.2,93.8L396.3,96.6L393.5,95.4L391.1,97.4L391.4,94.4L388.7,92.7L391.7,92.0ZM394.0,90.2L396.1,92.6L399.1,91.8L397.5,94.5L399.2,97.1L396.2,96.4L394.2,98.8L393.9,95.7L391.0,94.6L393.8,93.3ZM398.9,90.5L399.0,93.5L401.9,94.8L399.0,95.9L398.6,99.0L396.7,96.6L393.6,97.2L395.3,94.6L393.8,92.0L396.8,92.8ZM398.5,91.6L400.7,93.8L403.6,93.0L402.2,95.7L403.9,98.2L400.9,97.7L399.0,100.1L398.6,97.1L395.7,96.0L398.4,94.7ZM401.0,93.1L402.5,95.8L405.6,95.7L403.5,97.9L404.6,100.8L401.8,99.5L399.3,101.5L399.7,98.4L397.1,96.6L400.1,96.0ZM400.4,95.9L402.7,97.9L405.6,96.7L404.4,99.6L406.4,101.9L403.3,101.7L401.7,104.3L401.0,101.3L397.9,100.6L400.6,98.9ZM401.0,99.2L403.5,101.0L406.3,99.7L405.3,102.6L407.4,104.9L404.3,104.8L402.9,107.5L402.0,104.6L398.9,104.0L401.5,102.2ZM403.3,101.1L404.8,103.8L407.9,103.7L405.8,106.0L406.8,108.9L404.0,107.6L401.6,109.5L402.0,106.4L399.4,104.7L402.5,104.1ZM404.9,103.2L406.4,105.9L409.5,105.8L407.4,108.1L408.5,111.0L405.7,109.7L403.2,111.6L403.6,108.5L401.0,106.8L404.1,106.2ZM409.3,105.3L408.8,108.4L411.3,110.2L408.2,110.7L407.2,113.6L405.8,110.9L402.7,110.8L404.9,108.7L404.0,105.7L406.8,107.1ZM409.0,105.7L410.3,108.5L413.4,108.7L411.1,110.8L411.9,113.7L409.2,112.2L406.6,113.9L407.3,110.9L404.9,108.9L407.9,108.6ZM410.8,107.4L412.5,110.0L415.6,109.7L413.7,112.1L414.9,114.9L412.0,113.8L409.7,115.9L409.9,112.8L407.2,111.3L410.2,110.5ZM415.4,107.6L415.7,110.7L418.6,111.7L415.8,113.0L415.7,116.1L413.6,113.9L410.6,114.7L412.1,112.0L410.4,109.4L413.4,110.0ZM415.2,108.8L416.5,111.6L419.6,111.7L417.3,113.8L418.2,116.8L415.5,115.3L412.9,117.1L413.5,114.0L411.1,112.1L414.1,111.7ZM426.0,115.6L428.0,118.0L431.0,117.3L429.3,119.9L430.9,122.6L427.9,121.9L425.9,124.2L425.7,121.1L422.8,119.9L425.7,118.7ZM429.7,117.0L430.4,120.0L433.4,120.7L430.8,122.3L431.0,125.4L428.6,123.4L425.8,124.6L427.0,121.7L424.9,119.4L428.0,119.6ZM432.6,116.8L433.2,119.8L436.1,120.8L433.4,122.2L433.4,125.3L431.2,123.2L428.3,124.2L429.6,121.4L427.8,118.9L430.8,119.3ZM432.1,118.8L434.7,120.5L437.4,119.0L436.6,122.0L438.9,124.1L435.8,124.2L434.5,127.0L433.4,124.1L430.3,123.8L432.8,121.8Z" fill="#e0162e"/>
<path d="M415.7,112.9L426.7,120.2" fill="none" stroke="#e0172e" stroke-width="1.2"/>
<rect x="271.7" y="12.6" width="169.6" height="139.5" fill="none" stroke="#4d4d4d" stroke-width="1.3"/>
<line x1="268.1" y1="12.6" x2="271.7" y2="12.6" stroke="#4d4d4d" stroke-width="1.1"/>
<text x="265.2" y="16.8" font-size="11.5" text-anchor="end" font-weight="normal" fill="#141414" stroke="#141414" stroke-width="0.35" >100</text>
<line x1="268.1" y1="40.5" x2="271.7" y2="40.5" stroke="#4d4d4d" stroke-width="1.1"/>
<text x="265.2" y="44.7" font-size="11.5" text-anchor="end" font-weight="normal" fill="#141414" stroke="#141414" stroke-width="0.35" >95</text>
<line x1="268.1" y1="68.4" x2="271.7" y2="68.4" stroke="#4d4d4d" stroke-width="1.1"/>
<text x="265.2" y="72.6" font-size="11.5" text-anchor="end" font-weight="normal" fill="#141414" stroke="#141414" stroke-width="0.35" >90</text>
<line x1="268.1" y1="96.3" x2="271.7" y2="96.3" stroke="#4d4d4d" stroke-width="1.1"/>
<text x="265.2" y="100.5" font-size="11.5" text-anchor="end" font-weight="normal" fill="#141414" stroke="#141414" stroke-width="0.35" >85</text>
<line x1="268.1" y1="124.2" x2="271.7" y2="124.2" stroke="#4d4d4d" stroke-width="1.1"/>
<text x="265.2" y="128.4" font-size="11.5" text-anchor="end" font-weight="normal" fill="#141414" stroke="#141414" stroke-width="0.35" >80</text>
<line x1="268.1" y1="152.1" x2="271.7" y2="152.1" stroke="#4d4d4d" stroke-width="1.1"/>
<text x="265.2" y="156.3" font-size="11.5" text-anchor="end" font-weight="normal" fill="#141414" stroke="#141414" stroke-width="0.35" >75</text>
<line x1="277.1" y1="152.1" x2="277.1" y2="155.7" stroke="#4d4d4d" stroke-width="1.1"/>
<text x="277.1" y="168.1" font-size="11.5" text-anchor="middle" font-weight="normal" fill="#141414" stroke="#141414" stroke-width="0.35" >0</text>
<line x1="361.4" y1="152.1" x2="361.4" y2="155.7" stroke="#4d4d4d" stroke-width="1.1"/>
<text x="361.4" y="168.1" font-size="11.5" text-anchor="middle" font-weight="normal" fill="#141414" stroke="#141414" stroke-width="0.35" >1000</text>
<text x="356.5" y="182.6" font-size="12" text-anchor="middle" font-weight="normal" fill="#141414" stroke="#141414" stroke-width="0.35" >Cycle</text>
<text x="0" y="0" font-size="12" text-anchor="middle" fill="#141414" stroke="#141414" stroke-width="0.35" transform="translate(239.4,82.3) rotate(-90)">SOH (%)</text>
<text x="226.9" y="176.6" font-size="15.5" text-anchor="start" font-weight="bold" fill="#000" stroke="#000" stroke-width="0.25" >(b)</text>
<rect x="315.4" y="17.2" width="121" height="31.2" rx="2" fill="#fff" fill-opacity="0.85" stroke="#d4d4d4" stroke-width="1"/>
<line x1="318.9" y1="24.799999999999997" x2="339.9" y2="24.799999999999997" stroke="#6fa9dc" stroke-width="1.6"/>
<circle cx="328.9" cy="24.799999999999997" r="4" fill="#92c0e8" stroke="#5b9fd8" stroke-width="1"/>
<line x1="318.9" y1="39.4" x2="340.4" y2="39.4" stroke="#d93344" stroke-width="1.8"/>
<path d="M329.6,34.8L330.6,38.0L334.0,38.0L331.3,39.9L332.3,43.1L329.6,41.2L326.9,43.1L327.9,39.9L325.2,38.0L328.6,38.0Z" fill="#dc1f34"/>
<text x="348.2" y="28.8" font-size="10" text-anchor="start" font-weight="normal" fill="#141414" stroke="#141414" stroke-width="0.35" >PINN(GCN+LSTM)</text>
<text x="348.2" y="43.4" font-size="10" text-anchor="start" font-weight="normal" fill="#141414" stroke="#141414" stroke-width="0.35" >Real</text>
<path d="M505.5,29.0L508.5,35.0L514.5,40.5L516.0,45.5L519.0,49.0L526.0,53.2L532.5,57.5L538.0,61.5L544.0,64.0L550.0,67.0L558.0,70.0L566.0,72.8L573.5,75.3L584.5,78.5L595.5,82.5L607.0,85.7L618.0,89.8L627.5,93.3L629.0,99.0L636.0,105.2L645.5,109.0L655.0,113.0L662.0,115.5" fill="none" stroke="#5a9dd8" stroke-width="7.8" stroke-linejoin="round" stroke-linecap="round"/>
<circle cx="504.7" cy="28.3" r="3.9" fill="#5a9dd8"/>
<circle cx="506.3" cy="31.0" r="3.9" fill="#5a9dd8"/>
<circle cx="507.6" cy="35.0" r="3.9" fill="#5a9dd8"/>
<circle cx="511.4" cy="36.4" r="3.9" fill="#5a9dd8"/>
<circle cx="513.8" cy="39.1" r="3.9" fill="#5a9dd8"/>
<circle cx="515.4" cy="42.4" r="3.9" fill="#5a9dd8"/>
<circle cx="516.5" cy="43.8" r="3.9" fill="#5a9dd8"/>
<circle cx="517.2" cy="47.5" r="3.9" fill="#5a9dd8"/>
<circle cx="520.6" cy="48.7" r="3.9" fill="#5a9dd8"/>
<circle cx="522.2" cy="51.8" r="3.9" fill="#5a9dd8"/>
<circle cx="524.6" cy="52.6" r="3.9" fill="#5a9dd8"/>
<circle cx="527.7" cy="54.8" r="3.9" fill="#5a9dd8"/>
<circle cx="531.4" cy="55.7" r="3.9" fill="#5a9dd8"/>
<circle cx="533.7" cy="58.5" r="3.9" fill="#5a9dd8"/>
<circle cx="536.5" cy="60.0" r="3.9" fill="#5a9dd8"/>
<circle cx="539.3" cy="61.5" r="3.9" fill="#5a9dd8"/>
<circle cx="541.3" cy="62.5" r="3.9" fill="#5a9dd8"/>
<circle cx="544.9" cy="64.2" r="3.9" fill="#5a9dd8"/>
<circle cx="546.9" cy="65.0" r="3.9" fill="#5a9dd8"/>
<circle cx="550.5" cy="67.2" r="3.9" fill="#5a9dd8"/>
<circle cx="553.5" cy="68.0" r="3.9" fill="#5a9dd8"/>
<circle cx="556.1" cy="68.7" r="3.9" fill="#5a9dd8"/>
<circle cx="559.5" cy="69.5" r="3.9" fill="#5a9dd8"/>
<circle cx="562.1" cy="71.9" r="3.9" fill="#5a9dd8"/>
<circle cx="565.5" cy="71.8" r="3.9" fill="#5a9dd8"/>
<circle cx="567.7" cy="74.2" r="3.9" fill="#5a9dd8"/>
<circle cx="571.5" cy="75.2" r="3.9" fill="#5a9dd8"/>
<circle cx="575.0" cy="75.4" r="3.9" fill="#5a9dd8"/>
<circle cx="578.1" cy="76.8" r="3.9" fill="#5a9dd8"/>
<circle cx="580.1" cy="77.1" r="3.9" fill="#5a9dd8"/>
<circle cx="582.7" cy="78.0" r="3.9" fill="#5a9dd8"/>
<circle cx="587.4" cy="78.5" r="3.9" fill="#5a9dd8"/>
<circle cx="589.7" cy="79.6" r="3.9" fill="#5a9dd8"/>
<circle cx="591.8" cy="81.7" r="3.9" fill="#5a9dd8"/>
<circle cx="595.1" cy="81.7" r="3.9" fill="#5a9dd8"/>
<circle cx="598.0" cy="83.6" r="3.9" fill="#5a9dd8"/>
<circle cx="601.9" cy="83.4" r="3.9" fill="#5a9dd8"/>
<circle cx="604.3" cy="85.9" r="3.9" fill="#5a9dd8"/>
<circle cx="607.4" cy="86.1" r="3.9" fill="#5a9dd8"/>
<circle cx="610.7" cy="87.6" r="3.9" fill="#5a9dd8"/>
<circle cx="614.1" cy="88.8" r="3.9" fill="#5a9dd8"/>
<circle cx="616.9" cy="88.8" r="3.9" fill="#5a9dd8"/>
<circle cx="619.3" cy="89.7" r="3.9" fill="#5a9dd8"/>
<circle cx="623.5" cy="90.9" r="3.9" fill="#5a9dd8"/>
<circle cx="625.0" cy="93.5" r="3.9" fill="#5a9dd8"/>
<circle cx="627.3" cy="95.4" r="3.9" fill="#5a9dd8"/>
<circle cx="627.9" cy="97.8" r="3.9" fill="#5a9dd8"/>
<circle cx="630.0" cy="100.9" r="3.9" fill="#5a9dd8"/>
<circle cx="633.1" cy="102.7" r="3.9" fill="#5a9dd8"/>
<circle cx="635.7" cy="105.2" r="3.9" fill="#5a9dd8"/>
<circle cx="637.8" cy="106.2" r="3.9" fill="#5a9dd8"/>
<circle cx="640.9" cy="106.5" r="3.9" fill="#5a9dd8"/>
<circle cx="644.6" cy="108.6" r="3.9" fill="#5a9dd8"/>
<circle cx="647.5" cy="109.1" r="3.9" fill="#5a9dd8"/>
<circle cx="650.0" cy="110.8" r="3.9" fill="#5a9dd8"/>
<circle cx="653.3" cy="111.3" r="3.9" fill="#5a9dd8"/>
<circle cx="655.6" cy="113.3" r="3.9" fill="#5a9dd8"/>
<circle cx="658.1" cy="114.5" r="3.9" fill="#5a9dd8"/>
<circle cx="662.3" cy="115.3" r="3.9" fill="#5a9dd8"/>
<circle cx="662.3" cy="115.7" r="3.9" fill="#5a9dd8"/>
<path d="M505.5,29.0L508.5,35.0L514.5,40.5L516.0,45.5L519.0,49.0L526.0,53.2L532.5,57.5L538.0,61.5L544.0,64.0L550.0,67.0L558.0,70.0L566.0,72.8L573.5,75.3L584.5,78.5L595.5,82.5L607.0,85.7L618.0,89.8L627.5,93.3L629.0,99.0L636.0,105.2L645.5,109.0L655.0,113.0L662.0,115.5" fill="none" stroke="#2a7abf" stroke-width="5.2" stroke-linejoin="round" stroke-linecap="round"/>
<circle cx="628.3" cy="108.0" r="3.9" fill="#3d8bcb" stroke="#2f80c4" stroke-width="0.9"/>
<path d="M507.2,26.2L510.2,32.3L514.3,38.4L513.3,46.6L518.4,50.7L525.5,54.8L531.7,58.9L535.8,65.0L542.9,65.0L549.0,68.1L557.2,71.1L565.4,74.2L572.8,76.7L584.1,79.9L595.3,83.9L606.6,87.1L617.8,91.1L627.4,94.3L629.0,100.0L635.5,106.4L645.1,110.4L654.7,114.4L661.2,118.4" fill="none" stroke="#e0162e" stroke-width="5.6" stroke-linejoin="round" stroke-linecap="round"/>
<path d="M509.3,22.3L508.7,25.3L511.1,27.2L508.0,27.6L507.0,30.5L505.7,27.7L502.6,27.5L504.9,25.4L504.0,22.4L506.7,24.0ZM506.0,24.6L508.4,26.5L511.3,25.3L510.2,28.2L512.2,30.5L509.1,30.3L507.6,33.0L506.8,30.0L503.7,29.4L506.3,27.7ZM511.4,26.7L511.0,29.7L513.6,31.5L510.6,32.1L509.7,35.0L508.2,32.3L505.1,32.4L507.2,30.2L506.2,27.3L509.0,28.6ZM513.7,30.2L513.1,33.2L515.6,35.1L512.5,35.5L511.4,38.4L510.1,35.6L507.0,35.5L509.3,33.4L508.4,30.4L511.2,31.9ZM512.8,31.7L513.8,34.6L516.9,35.0L514.5,36.9L515.1,40.0L512.5,38.2L509.8,39.7L510.6,36.8L508.4,34.7L511.5,34.5ZM515.9,34.5L515.6,37.6L518.3,39.2L515.2,39.9L514.5,42.9L512.9,40.3L509.8,40.5L511.8,38.1L510.7,35.3L513.5,36.5ZM516.1,36.2L516.3,39.2L519.2,40.5L516.3,41.6L516.0,44.7L514.0,42.3L511.0,43.0L512.7,40.4L511.1,37.7L514.1,38.5ZM515.8,39.9L515.4,43.0L518.0,44.7L515.0,45.3L514.2,48.3L512.6,45.6L509.5,45.7L511.6,43.4L510.5,40.5L513.3,41.8ZM511.4,42.2L513.6,44.4L516.6,43.5L515.1,46.3L516.9,48.8L513.9,48.3L512.0,50.8L511.5,47.7L508.6,46.7L511.4,45.3ZM513.1,43.7L515.0,46.2L518.0,45.7L516.2,48.2L517.7,51.0L514.7,50.1L512.5,52.3L512.5,49.2L509.7,47.8L512.7,46.8ZM514.5,45.8L517.1,47.7L519.8,46.2L518.9,49.2L521.1,51.4L518.0,51.4L516.6,54.2L515.6,51.2L512.5,50.7L515.0,48.9ZM519.0,46.3L520.4,49.0L523.5,49.0L521.4,51.2L522.3,54.2L519.6,52.8L517.0,54.6L517.5,51.5L515.0,49.7L518.1,49.2ZM522.5,48.5L522.8,51.5L525.7,52.7L522.8,53.9L522.6,57.0L520.6,54.7L517.6,55.5L519.1,52.8L517.5,50.2L520.5,50.8ZM522.4,48.8L524.2,51.3L527.3,50.8L525.4,53.4L526.9,56.1L523.9,55.2L521.7,57.4L521.7,54.3L518.9,52.9L521.9,51.9ZM524.1,50.5L526.3,52.6L529.3,51.6L527.9,54.4L529.8,56.8L526.7,56.4L525.0,59.0L524.4,55.9L521.4,55.0L524.2,53.5ZM531.1,53.1L530.5,56.2L533.0,58.1L529.9,58.5L528.9,61.4L527.6,58.6L524.5,58.6L526.7,56.4L525.8,53.4L528.5,54.9ZM530.5,54.2L532.1,56.9L535.2,56.6L533.2,59.0L534.4,61.9L531.5,60.7L529.2,62.7L529.4,59.6L526.8,57.9L529.8,57.2ZM531.8,55.2L533.1,58.0L536.2,58.2L533.9,60.3L534.8,63.2L532.0,61.8L529.5,63.5L530.1,60.4L527.6,58.5L530.7,58.1ZM533.2,57.9L534.9,60.5L538.0,60.2L536.0,62.6L537.2,65.4L534.3,64.3L532.0,66.3L532.2,63.2L529.5,61.6L532.5,60.9ZM535.7,59.7L537.1,62.5L540.2,62.6L537.9,64.7L538.7,67.7L536.0,66.2L533.5,67.9L534.0,64.9L531.6,63.0L534.7,62.6ZM537.3,61.1L539.2,63.6L542.2,63.1L540.4,65.6L541.9,68.3L538.9,67.4L536.7,69.6L536.7,66.5L533.9,65.1L536.9,64.1ZM537.7,61.7L540.3,63.4L543.0,61.9L542.2,64.9L544.4,67.0L541.3,67.1L540.0,69.9L539.0,67.0L535.9,66.6L538.3,64.7ZM542.9,60.7L544.0,63.6L547.0,64.0L544.6,65.9L545.2,69.0L542.6,67.2L539.9,68.7L540.8,65.8L538.5,63.6L541.6,63.5ZM543.6,61.5L545.7,63.8L548.7,63.0L547.2,65.7L548.9,68.3L545.9,67.7L544.0,70.1L543.6,67.0L540.7,65.9L543.5,64.6ZM550.9,63.8L550.3,66.8L552.8,68.7L549.7,69.1L548.7,72.1L547.3,69.3L544.2,69.2L546.5,67.0L545.6,64.1L548.3,65.5ZM548.5,65.5L551.1,67.3L553.8,65.9L552.9,68.8L555.1,71.0L552.0,71.0L550.6,73.8L549.6,70.9L546.6,70.4L549.0,68.6ZM552.3,64.4L553.7,67.2L556.8,67.2L554.6,69.4L555.6,72.3L552.8,70.9L550.3,72.7L550.8,69.7L548.2,67.9L551.3,67.4ZM555.6,65.4L556.6,68.3L559.7,68.7L557.3,70.6L557.8,73.7L555.3,71.9L552.5,73.4L553.4,70.4L551.2,68.3L554.3,68.2ZM556.2,66.9L558.2,69.3L561.2,68.6L559.6,71.2L561.2,73.9L558.2,73.1L556.1,75.5L555.9,72.4L553.1,71.1L555.9,70.0ZM559.8,68.0L561.8,70.4L564.8,69.7L563.1,72.3L564.6,75.0L561.7,74.2L559.6,76.5L559.4,73.4L556.6,72.2L559.5,71.1ZM563.2,68.8L564.0,71.8L567.0,72.5L564.3,74.2L564.6,77.3L562.2,75.3L559.4,76.5L560.5,73.6L558.5,71.2L561.6,71.5ZM567.6,70.7L567.7,73.8L570.4,75.1L567.5,76.2L567.1,79.2L565.2,76.8L562.2,77.3L563.9,74.8L562.5,72.0L565.4,72.9ZM569.3,70.4L569.5,73.5L572.4,74.6L569.6,75.8L569.3,78.9L567.3,76.6L564.3,77.3L565.9,74.7L564.3,72.0L567.3,72.7ZM573.0,71.9L573.0,75.0L575.7,76.4L572.8,77.4L572.3,80.4L570.4,77.9L567.4,78.4L569.2,75.9L567.8,73.1L570.8,74.1ZM571.7,72.4L573.9,74.6L576.9,73.6L575.5,76.4L577.3,78.9L574.2,78.4L572.4,80.9L571.9,77.9L569.0,76.9L571.7,75.5ZM577.4,73.8L577.1,76.9L579.8,78.5L576.7,79.2L576.0,82.3L574.4,79.6L571.3,79.8L573.3,77.5L572.1,74.6L575.0,75.8ZM580.0,73.9L580.6,76.9L583.6,77.8L580.9,79.3L581.0,82.4L578.8,80.3L575.8,81.3L577.1,78.5L575.2,76.1L578.3,76.5ZM582.3,75.0L583.2,78.0L586.2,78.7L583.6,80.4L584.0,83.5L581.5,81.5L578.7,82.8L579.8,79.9L577.7,77.6L580.8,77.7ZM581.9,75.7L584.1,77.9L587.1,76.9L585.7,79.7L587.5,82.2L584.4,81.7L582.6,84.2L582.1,81.2L579.2,80.2L581.9,78.8ZM588.4,77.2L587.8,80.3L590.2,82.2L587.1,82.5L586.1,85.5L584.8,82.6L581.7,82.5L583.9,80.4L583.1,77.4L585.8,78.9ZM588.1,77.0L589.8,79.7L592.9,79.4L590.9,81.8L592.2,84.6L589.3,83.5L587.0,85.5L587.2,82.4L584.5,80.9L587.5,80.1ZM591.1,78.4L592.4,81.2L595.5,81.3L593.3,83.5L594.2,86.4L591.5,85.0L588.9,86.7L589.5,83.7L587.0,81.8L590.1,81.4ZM593.6,78.5L595.4,81.1L598.5,80.6L596.6,83.1L598.0,85.9L595.0,84.9L592.8,87.1L592.9,84.0L590.1,82.5L593.1,81.6ZM598.4,80.0L598.3,83.1L601.0,84.6L598.1,85.5L597.5,88.5L595.7,86.0L592.7,86.4L594.5,83.9L593.2,81.1L596.1,82.1ZM600.2,81.1L601.0,84.1L604.0,84.8L601.4,86.5L601.7,89.6L599.3,87.6L596.5,88.8L597.6,85.9L595.5,83.6L598.6,83.8ZM601.3,81.3L602.4,84.3L605.4,84.7L603.0,86.6L603.5,89.6L600.9,87.8L598.2,89.3L599.1,86.3L596.9,84.2L600.0,84.1ZM605.4,81.8L605.9,84.9L608.8,85.9L606.0,87.2L606.0,90.3L603.8,88.1L600.8,89.0L602.3,86.3L600.5,83.7L603.6,84.3ZM608.4,82.2L609.0,85.3L612.0,86.2L609.3,87.7L609.3,90.8L607.1,88.6L604.2,89.7L605.5,86.9L603.6,84.4L606.7,84.8ZM611.3,84.1L611.1,87.2L613.7,88.9L610.7,89.6L610.0,92.6L608.4,89.9L605.3,90.2L607.3,87.8L606.1,84.9L609.0,86.1ZM611.0,85.0L613.2,87.3L616.1,86.4L614.7,89.1L616.4,91.7L613.4,91.1L611.5,93.6L611.1,90.5L608.1,89.5L610.9,88.1ZM614.5,85.0L616.1,87.7L619.2,87.5L617.1,89.8L618.3,92.7L615.4,91.5L613.0,93.5L613.3,90.4L610.7,88.7L613.7,88.0ZM616.3,86.3L618.2,88.7L621.3,88.1L619.6,90.7L621.1,93.4L618.1,92.5L616.0,94.8L615.9,91.7L613.0,90.4L616.0,89.3ZM619.3,87.9L621.1,90.5L624.1,90.0L622.3,92.5L623.6,95.3L620.7,94.3L618.5,96.5L618.5,93.4L615.8,91.9L618.8,91.0ZM620.1,88.2L622.4,90.3L625.3,89.2L624.1,92.0L626.0,94.4L622.9,94.1L621.2,96.7L620.6,93.7L617.6,92.8L620.3,91.3ZM622.2,90.2L624.7,92.1L627.5,90.8L626.4,93.7L628.5,96.0L625.4,95.9L623.9,98.6L623.0,95.6L620.0,94.9L622.6,93.2ZM624.8,89.9L627.2,91.8L630.0,90.6L628.9,93.5L631.0,95.8L627.9,95.6L626.4,98.3L625.6,95.3L622.5,94.7L625.1,93.0ZM629.9,93.0L629.9,96.1L632.6,97.6L629.7,98.5L629.1,101.6L627.3,99.0L624.3,99.5L626.1,97.0L624.8,94.2L627.7,95.2ZM626.5,96.1L629.1,97.8L631.8,96.3L631.0,99.3L633.3,101.4L630.2,101.5L628.9,104.4L627.8,101.5L624.7,101.1L627.1,99.2ZM628.0,98.2L630.4,100.1L633.2,98.8L632.2,101.7L634.3,104.0L631.2,103.9L629.7,106.6L628.8,103.6L625.8,103.0L628.3,101.3ZM630.9,99.0L632.8,101.4L635.8,100.8L634.1,103.4L635.6,106.1L632.7,105.3L630.6,107.6L630.4,104.5L627.6,103.2L630.5,102.1ZM633.0,100.4L635.0,102.7L638.0,102.0L636.4,104.6L638.1,107.3L635.0,106.6L633.0,108.9L632.8,105.8L629.9,104.6L632.8,103.4ZM639.2,102.3L639.0,105.4L641.6,107.1L638.5,107.8L637.8,110.8L636.2,108.1L633.1,108.3L635.1,106.0L634.0,103.1L636.9,104.3ZM639.5,104.1L640.0,107.2L643.0,108.1L640.3,109.6L640.4,112.7L638.1,110.5L635.2,111.6L636.5,108.8L634.6,106.3L637.7,106.7ZM639.4,104.5L641.9,106.4L644.7,105.0L643.7,107.9L645.8,110.2L642.7,110.1L641.3,112.9L640.3,109.9L637.3,109.4L639.8,107.6ZM642.7,105.3L644.8,107.5L647.8,106.6L646.4,109.4L648.1,111.9L645.1,111.4L643.2,113.8L642.8,110.8L639.8,109.7L642.6,108.4ZM644.6,107.6L647.1,109.5L649.9,108.1L648.9,111.0L651.1,113.3L648.0,113.2L646.5,116.0L645.6,113.0L642.5,112.5L645.1,110.7ZM649.0,107.6L650.6,110.3L653.6,110.1L651.6,112.4L652.7,115.3L649.9,114.1L647.5,116.0L647.8,112.9L645.2,111.3L648.2,110.6ZM653.4,109.1L652.8,112.2L655.2,114.1L652.2,114.5L651.1,117.4L649.8,114.6L646.7,114.5L648.9,112.3L648.1,109.4L650.8,110.9ZM651.8,109.5L654.0,111.6L657.0,110.5L655.6,113.3L657.5,115.8L654.5,115.4L652.7,118.0L652.1,114.9L649.2,114.1L651.9,112.6ZM657.9,111.2L657.6,114.3L660.2,116.0L657.2,116.6L656.4,119.6L654.8,117.0L651.7,117.1L653.8,114.8L652.7,111.9L655.5,113.2ZM660.3,112.5L659.9,115.6L662.4,117.3L659.4,117.9L658.5,120.8L657.0,118.1L653.9,118.2L656.0,115.9L655.0,113.0L657.8,114.4ZM660.2,114.6L662.2,117.0L665.3,116.3L663.6,118.9L665.2,121.6L662.2,120.8L660.2,123.2L659.9,120.1L657.1,118.8L660.0,117.7ZM660.9,114.5L662.2,117.4L665.3,117.6L662.9,119.6L663.7,122.6L661.0,121.1L658.4,122.7L659.1,119.7L656.7,117.7L659.8,117.4Z" fill="#e0162e"/>
<rect x="500" y="12.4" width="169.4" height="139.7" fill="none" stroke="#4d4d4d" stroke-width="1.3"/>
<line x1="496.4" y1="12.4" x2="500" y2="12.4" stroke="#4d4d4d" stroke-width="1.1"/>
<text x="493.5" y="16.6" font-size="11.5" text-anchor="end" font-weight="normal" fill="#141414" stroke="#141414" stroke-width="0.35" >100</text>
<line x1="496.4" y1="40.3" x2="500" y2="40.3" stroke="#4d4d4d" stroke-width="1.1"/>
<text x="493.5" y="44.5" font-size="11.5" text-anchor="end" font-weight="normal" fill="#141414" stroke="#141414" stroke-width="0.35" >95</text>
<line x1="496.4" y1="68.3" x2="500" y2="68.3" stroke="#4d4d4d" stroke-width="1.1"/>
<text x="493.5" y="72.5" font-size="11.5" text-anchor="end" font-weight="normal" fill="#141414" stroke="#141414" stroke-width="0.35" >90</text>
<line x1="496.4" y1="96.2" x2="500" y2="96.2" stroke="#4d4d4d" stroke-width="1.1"/>
<text x="493.5" y="100.4" font-size="11.5" text-anchor="end" font-weight="normal" fill="#141414" stroke="#141414" stroke-width="0.35" >85</text>
<line x1="496.4" y1="124.2" x2="500" y2="124.2" stroke="#4d4d4d" stroke-width="1.1"/>
<text x="493.5" y="128.4" font-size="11.5" text-anchor="end" font-weight="normal" fill="#141414" stroke="#141414" stroke-width="0.35" >80</text>
<line x1="496.4" y1="152.1" x2="500" y2="152.1" stroke="#4d4d4d" stroke-width="1.1"/>
<text x="493.5" y="156.3" font-size="11.5" text-anchor="end" font-weight="normal" fill="#141414" stroke="#141414" stroke-width="0.35" >75</text>
<line x1="505.8" y1="152.1" x2="505.8" y2="155.7" stroke="#4d4d4d" stroke-width="1.1"/>
<text x="505.8" y="168.1" font-size="11.5" text-anchor="middle" font-weight="normal" fill="#141414" stroke="#141414" stroke-width="0.35" >0</text>
<line x1="549.6" y1="152.1" x2="549.6" y2="155.7" stroke="#4d4d4d" stroke-width="1.1"/>
<text x="549.6" y="168.1" font-size="11.5" text-anchor="middle" font-weight="normal" fill="#141414" stroke="#141414" stroke-width="0.35" >500</text>
<line x1="593.3" y1="152.1" x2="593.3" y2="155.7" stroke="#4d4d4d" stroke-width="1.1"/>
<text x="593.3" y="168.1" font-size="11.5" text-anchor="middle" font-weight="normal" fill="#141414" stroke="#141414" stroke-width="0.35" >1000</text>
<line x1="637.1" y1="152.1" x2="637.1" y2="155.7" stroke="#4d4d4d" stroke-width="1.1"/>
<text x="637.1" y="168.1" font-size="11.5" text-anchor="middle" font-weight="normal" fill="#141414" stroke="#141414" stroke-width="0.35" >1500</text>
<text x="584.7" y="182.6" font-size="12" text-anchor="middle" font-weight="normal" fill="#141414" stroke="#141414" stroke-width="0.35" >Cycle</text>
<text x="0" y="0" font-size="12" text-anchor="middle" fill="#141414" stroke="#141414" stroke-width="0.35" transform="translate(467.7,82.2) rotate(-90)">SOH (%)</text>
<text x="460.8" y="176.6" font-size="15.5" text-anchor="start" font-weight="bold" fill="#000" stroke="#000" stroke-width="0.25" >(c)</text>
<rect x="543" y="17.2" width="121" height="31.2" rx="2" fill="#fff" fill-opacity="0.85" stroke="#d4d4d4" stroke-width="1"/>
<line x1="546.5" y1="24.799999999999997" x2="567.5" y2="24.799999999999997" stroke="#6fa9dc" stroke-width="1.6"/>
<circle cx="556.5" cy="24.799999999999997" r="4" fill="#92c0e8" stroke="#5b9fd8" stroke-width="1"/>
<line x1="546.5" y1="39.4" x2="568" y2="39.4" stroke="#d93344" stroke-width="1.8"/>
<path d="M557.2,34.8L558.2,38.0L561.6,38.0L558.9,39.9L559.9,43.1L557.2,41.2L554.5,43.1L555.5,39.9L552.8,38.0L556.2,38.0Z" fill="#dc1f34"/>
<text x="575.8" y="28.8" font-size="10" text-anchor="start" font-weight="normal" fill="#141414" stroke="#141414" stroke-width="0.35" >PINN(GCN+LSTM)</text>
<text x="575.8" y="43.4" font-size="10" text-anchor="start" font-weight="normal" fill="#141414" stroke="#141414" stroke-width="0.35" >Real</text>
<path d="M56.5,223.5L59.5,229.5L65.0,235.0L72.0,240.5L81.0,246.5L89.0,250.5L97.0,255.0L106.0,260.5L115.0,266.5L126.0,270.5L136.6,274.5L144.5,276.5L155.0,283.5L162.0,285.5L170.0,288.5L179.0,293.0L188.0,297.0L197.0,301.5L205.0,305.0L215.0,308.0" fill="none" stroke="#5a9dd8" stroke-width="7.8" stroke-linejoin="round" stroke-linecap="round"/>
<circle cx="56.9" cy="223.2" r="3.9" fill="#5a9dd8"/>
<circle cx="57.1" cy="226.1" r="3.9" fill="#5a9dd8"/>
<circle cx="59.8" cy="229.7" r="3.9" fill="#5a9dd8"/>
<circle cx="61.7" cy="231.5" r="3.9" fill="#5a9dd8"/>
<circle cx="63.9" cy="233.7" r="3.9" fill="#5a9dd8"/>
<circle cx="66.3" cy="236.5" r="3.9" fill="#5a9dd8"/>
<circle cx="68.2" cy="238.1" r="3.9" fill="#5a9dd8"/>
<circle cx="72.0" cy="240.5" r="3.9" fill="#5a9dd8"/>
<circle cx="73.3" cy="242.6" r="3.9" fill="#5a9dd8"/>
<circle cx="77.1" cy="242.9" r="3.9" fill="#5a9dd8"/>
<circle cx="78.7" cy="244.7" r="3.9" fill="#5a9dd8"/>
<circle cx="81.1" cy="247.8" r="3.9" fill="#5a9dd8"/>
<circle cx="84.6" cy="249.0" r="3.9" fill="#5a9dd8"/>
<circle cx="86.9" cy="248.9" r="3.9" fill="#5a9dd8"/>
<circle cx="91.1" cy="251.8" r="3.9" fill="#5a9dd8"/>
<circle cx="94.1" cy="253.2" r="3.9" fill="#5a9dd8"/>
<circle cx="96.1" cy="254.9" r="3.9" fill="#5a9dd8"/>
<circle cx="98.0" cy="256.2" r="3.9" fill="#5a9dd8"/>
<circle cx="101.4" cy="257.1" r="3.9" fill="#5a9dd8"/>
<circle cx="104.4" cy="259.1" r="3.9" fill="#5a9dd8"/>
<circle cx="106.9" cy="260.9" r="3.9" fill="#5a9dd8"/>
<circle cx="109.3" cy="262.6" r="3.9" fill="#5a9dd8"/>
<circle cx="112.4" cy="265.5" r="3.9" fill="#5a9dd8"/>
<circle cx="115.7" cy="267.1" r="3.9" fill="#5a9dd8"/>
<circle cx="118.5" cy="267.2" r="3.9" fill="#5a9dd8"/>
<circle cx="121.8" cy="268.2" r="3.9" fill="#5a9dd8"/>
<circle cx="123.3" cy="269.8" r="3.9" fill="#5a9dd8"/>
<circle cx="127.4" cy="270.6" r="3.9" fill="#5a9dd8"/>
<circle cx="130.2" cy="271.6" r="3.9" fill="#5a9dd8"/>
<circle cx="133.8" cy="273.0" r="3.9" fill="#5a9dd8"/>
<circle cx="135.9" cy="274.3" r="3.9" fill="#5a9dd8"/>
<circle cx="139.7" cy="276.0" r="3.9" fill="#5a9dd8"/>
<circle cx="142.2" cy="275.8" r="3.9" fill="#5a9dd8"/>
<circle cx="145.3" cy="276.1" r="3.9" fill="#5a9dd8"/>
<circle cx="147.6" cy="279.3" r="3.9" fill="#5a9dd8"/>
<circle cx="150.9" cy="279.7" r="3.9" fill="#5a9dd8"/>
<circle cx="153.7" cy="282.0" r="3.9" fill="#5a9dd8"/>
<circle cx="156.7" cy="283.5" r="3.9" fill="#5a9dd8"/>
<circle cx="158.4" cy="284.7" r="3.9" fill="#5a9dd8"/>
<circle cx="162.7" cy="285.4" r="3.9" fill="#5a9dd8"/>
<circle cx="165.7" cy="287.0" r="3.9" fill="#5a9dd8"/>
<circle cx="167.8" cy="287.4" r="3.9" fill="#5a9dd8"/>
<circle cx="171.0" cy="288.8" r="3.9" fill="#5a9dd8"/>
<circle cx="173.6" cy="290.7" r="3.9" fill="#5a9dd8"/>
<circle cx="177.4" cy="292.0" r="3.9" fill="#5a9dd8"/>
<circle cx="178.9" cy="292.7" r="3.9" fill="#5a9dd8"/>
<circle cx="182.3" cy="294.8" r="3.9" fill="#5a9dd8"/>
<circle cx="184.8" cy="295.1" r="3.9" fill="#5a9dd8"/>
<circle cx="188.0" cy="296.8" r="3.9" fill="#5a9dd8"/>
<circle cx="190.3" cy="298.7" r="3.9" fill="#5a9dd8"/>
<circle cx="194.8" cy="300.1" r="3.9" fill="#5a9dd8"/>
<circle cx="197.3" cy="302.0" r="3.9" fill="#5a9dd8"/>
<circle cx="200.5" cy="303.5" r="3.9" fill="#5a9dd8"/>
<circle cx="202.7" cy="304.4" r="3.9" fill="#5a9dd8"/>
<circle cx="205.1" cy="305.9" r="3.9" fill="#5a9dd8"/>
<circle cx="208.6" cy="306.1" r="3.9" fill="#5a9dd8"/>
<circle cx="212.6" cy="306.7" r="3.9" fill="#5a9dd8"/>
<circle cx="214.4" cy="308.6" r="3.9" fill="#5a9dd8"/>
<circle cx="215.2" cy="307.3" r="3.9" fill="#5a9dd8"/>
<path d="M56.5,223.5L59.5,229.5L65.0,235.0L72.0,240.5L81.0,246.5L89.0,250.5L97.0,255.0L106.0,260.5L115.0,266.5L126.0,270.5L136.6,274.5L144.5,276.5L155.0,283.5L162.0,285.5L170.0,288.5L179.0,293.0L188.0,297.0L197.0,301.5L205.0,305.0L215.0,308.0" fill="none" stroke="#2a7abf" stroke-width="5.2" stroke-linejoin="round" stroke-linecap="round"/>
<path d="M58.5,216.2L61.8,223.4L67.1,230.0L73.7,236.5L81.5,242.4L89.4,247.0L97.3,251.6L106.5,256.9L115.7,264.1L126.2,268.1L136.6,273.0L144.5,276.3L155.0,284.2L161.5,287.5L169.4,290.1L178.6,294.7L187.8,298.6L197.0,303.2L204.9,306.5L214.1,311.1" fill="none" stroke="#e0162e" stroke-width="5.6" stroke-linejoin="round" stroke-linecap="round"/>
<path d="M55.3,212.3L57.9,214.0L60.6,212.5L59.8,215.4L62.1,217.5L59.0,217.7L57.7,220.5L56.6,217.6L53.5,217.2L55.9,215.3ZM58.9,213.9L60.8,216.3L63.8,215.7L62.1,218.3L63.6,221.0L60.6,220.2L58.5,222.4L58.4,219.3L55.6,218.0L58.5,217.0ZM60.2,216.6L61.6,219.4L64.7,219.4L62.6,221.6L63.5,224.5L60.8,223.1L58.3,225.0L58.7,221.9L56.2,220.1L59.3,219.6ZM61.7,219.3L63.2,222.0L66.3,222.1L64.1,224.2L65.0,227.2L62.2,225.8L59.7,227.6L60.2,224.5L57.7,222.7L60.8,222.2ZM64.1,221.9L64.6,225.0L67.5,225.9L64.8,227.4L64.8,230.5L62.6,228.3L59.6,229.3L61.0,226.5L59.2,224.0L62.3,224.5ZM66.1,223.4L66.3,226.5L69.2,227.6L66.4,228.8L66.1,231.9L64.1,229.6L61.1,230.3L62.7,227.7L61.0,225.1L64.1,225.7ZM65.2,225.5L67.8,227.2L70.5,225.7L69.6,228.7L71.9,230.8L68.8,230.9L67.5,233.7L66.4,230.8L63.3,230.5L65.8,228.5ZM70.9,227.7L70.7,230.7L73.3,232.4L70.3,233.1L69.6,236.1L67.9,233.5L64.9,233.7L66.9,231.3L65.7,228.5L68.6,229.7ZM70.8,228.9L72.3,231.7L75.4,231.6L73.3,233.9L74.3,236.8L71.5,235.4L69.0,237.3L69.4,234.2L66.9,232.5L69.9,231.9ZM71.3,231.9L73.4,234.1L76.4,233.3L74.9,236.0L76.6,238.6L73.6,238.0L71.7,240.4L71.3,237.4L68.4,236.3L71.2,235.0ZM75.4,232.3L76.1,235.3L79.1,236.1L76.4,237.7L76.6,240.8L74.3,238.7L71.4,239.9L72.6,237.0L70.6,234.6L73.7,234.9ZM76.4,235.1L77.5,237.9L80.6,238.3L78.2,240.2L78.8,243.3L76.2,241.6L73.5,243.1L74.3,240.1L72.0,238.0L75.1,237.9ZM77.8,235.7L79.8,238.1L82.8,237.3L81.2,240.0L82.8,242.6L79.8,241.9L77.8,244.3L77.6,241.2L74.7,240.0L77.5,238.8ZM81.4,238.2L82.5,241.1L85.5,241.5L83.1,243.4L83.7,246.5L81.1,244.7L78.4,246.2L79.2,243.2L77.0,241.1L80.1,241.0ZM84.1,239.9L84.7,242.9L87.7,243.7L85.0,245.3L85.1,248.4L82.9,246.3L80.0,247.3L81.2,244.5L79.3,242.1L82.4,242.4ZM84.8,240.2L86.7,242.7L89.7,242.2L87.9,244.7L89.4,247.4L86.4,246.5L84.2,248.7L84.2,245.6L81.4,244.2L84.4,243.2ZM88.9,241.3L90.0,244.2L93.1,244.6L90.7,246.5L91.3,249.5L88.7,247.8L86.0,249.3L86.8,246.3L84.6,244.2L87.6,244.1ZM92.1,243.2L92.4,246.3L95.2,247.5L92.3,248.7L92.1,251.8L90.1,249.4L87.1,250.1L88.7,247.4L87.1,244.8L90.1,245.5ZM94.7,245.2L95.1,248.3L98.0,249.4L95.1,250.7L95.0,253.8L92.9,251.5L89.9,252.3L91.4,249.6L89.7,247.0L92.8,247.6ZM94.4,245.3L95.9,248.0L99.0,248.0L96.8,250.2L97.7,253.2L95.0,251.8L92.5,253.6L92.9,250.5L90.4,248.7L93.5,248.2ZM99.2,247.3L99.1,250.4L101.7,251.9L98.8,252.7L98.1,255.7L96.4,253.1L93.3,253.5L95.3,251.0L94.0,248.2L96.9,249.3ZM101.7,249.7L101.3,252.7L103.9,254.5L100.8,255.1L100.0,258.0L98.5,255.3L95.4,255.4L97.5,253.1L96.5,250.2L99.3,251.5ZM101.1,250.6L102.7,253.2L105.8,253.1L103.7,255.4L104.8,258.3L101.9,257.0L99.5,259.0L99.9,255.9L97.3,254.2L100.3,253.5ZM101.8,251.5L104.3,253.3L107.1,251.9L106.1,254.9L108.3,257.0L105.2,257.1L103.8,259.8L102.9,256.9L99.8,256.4L102.3,254.6ZM108.7,252.9L108.6,256.0L111.3,257.5L108.4,258.4L107.8,261.4L106.0,258.9L103.0,259.3L104.9,256.8L103.5,254.0L106.5,255.0ZM108.9,253.8L110.5,256.5L113.5,256.3L111.4,258.6L112.5,261.5L109.7,260.2L107.3,262.2L107.6,259.1L105.0,257.4L108.1,256.7ZM109.6,255.8L111.6,258.2L114.6,257.5L113.0,260.1L114.6,262.8L111.6,262.0L109.5,264.3L109.3,261.2L106.5,260.0L109.3,258.9ZM112.1,258.0L113.8,260.6L116.9,260.3L114.9,262.7L116.2,265.5L113.3,264.4L111.0,266.5L111.1,263.4L108.5,261.9L111.4,261.1ZM114.5,259.0L115.9,261.7L119.0,261.8L116.8,263.9L117.7,266.9L115.0,265.5L112.4,267.3L113.0,264.2L110.5,262.4L113.5,261.9ZM119.0,260.2L119.5,263.2L122.4,264.2L119.7,265.6L119.6,268.7L117.4,266.5L114.5,267.5L115.9,264.7L114.1,262.2L117.2,262.7ZM120.6,261.7L121.4,264.6L124.4,265.3L121.8,267.0L122.1,270.1L119.7,268.1L116.9,269.4L118.0,266.5L115.9,264.2L119.0,264.3ZM121.9,262.7L123.4,265.4L126.5,265.3L124.4,267.6L125.5,270.5L122.7,269.2L120.3,271.1L120.6,268.1L118.0,266.4L121.0,265.7ZM126.2,263.5L126.9,266.5L129.9,267.2L127.3,268.8L127.5,271.9L125.2,269.9L122.3,271.1L123.5,268.3L121.4,265.9L124.5,266.1ZM129.3,264.0L129.5,267.1L132.3,268.4L129.4,269.5L129.1,272.6L127.1,270.2L124.1,270.8L125.8,268.2L124.2,265.5L127.2,266.3ZM131.2,265.5L132.2,268.5L135.2,269.0L132.7,270.8L133.1,273.9L130.6,272.0L127.8,273.4L128.8,270.5L126.7,268.2L129.8,268.3ZM133.4,267.4L134.0,270.4L136.9,271.3L134.2,272.8L134.2,275.9L132.0,273.7L129.1,274.7L130.4,271.9L128.6,269.4L131.6,269.9ZM137.3,269.0L136.7,272.1L139.2,274.0L136.1,274.4L135.0,277.3L133.7,274.5L130.6,274.4L132.9,272.2L132.0,269.3L134.7,270.8ZM137.4,269.6L138.6,272.5L141.7,272.7L139.4,274.7L140.2,277.7L137.5,276.2L134.9,277.8L135.5,274.8L133.1,272.8L136.2,272.5ZM138.8,270.4L140.6,273.0L143.6,272.6L141.7,275.0L143.0,277.9L140.1,276.8L137.8,278.9L137.9,275.8L135.2,274.2L138.2,273.4ZM140.9,271.6L143.3,273.6L146.2,272.5L145.0,275.3L147.0,277.7L143.9,277.4L142.3,280.1L141.5,277.1L138.5,276.3L141.2,274.7ZM145.0,272.7L146.2,275.5L149.3,275.7L147.0,277.8L147.8,280.8L145.1,279.2L142.5,280.9L143.2,277.9L140.8,275.9L143.9,275.6ZM147.0,274.4L148.4,277.1L151.4,277.2L149.2,279.4L150.1,282.3L147.4,280.9L144.9,282.7L145.4,279.6L142.9,277.7L146.0,277.3ZM151.1,275.9L151.1,279.0L153.8,280.4L150.9,281.4L150.4,284.5L148.6,282.0L145.5,282.4L147.3,279.9L145.9,277.2L148.9,278.1ZM152.5,276.7L152.7,279.8L155.6,281.0L152.8,282.2L152.5,285.3L150.5,282.9L147.5,283.7L149.1,281.0L147.5,278.4L150.5,279.1ZM155.8,278.9L155.6,282.0L158.2,283.6L155.2,284.4L154.5,287.4L152.8,284.7L149.8,285.0L151.8,282.6L150.6,279.8L153.4,280.9ZM159.0,281.0L158.4,284.0L160.8,285.9L157.7,286.3L156.7,289.2L155.4,286.4L152.3,286.3L154.5,284.2L153.7,281.2L156.4,282.7ZM157.7,281.9L159.6,284.4L162.6,283.8L160.8,286.4L162.3,289.1L159.3,288.2L157.2,290.4L157.1,287.3L154.3,286.0L157.3,285.0ZM161.3,283.0L161.7,286.1L164.6,287.2L161.7,288.5L161.6,291.6L159.5,289.3L156.5,290.1L158.0,287.4L156.3,284.8L159.4,285.5ZM163.4,283.6L164.4,286.5L167.4,287.0L164.9,288.8L165.4,291.9L162.9,290.1L160.1,291.5L161.1,288.5L158.9,286.3L162.0,286.3ZM165.8,284.7L166.8,287.7L169.9,288.1L167.4,290.0L167.9,293.0L165.3,291.2L162.6,292.6L163.5,289.7L161.3,287.5L164.4,287.5ZM168.5,284.7L169.5,287.7L172.6,288.1L170.1,290.0L170.6,293.0L168.1,291.2L165.4,292.7L166.3,289.7L164.1,287.6L167.2,287.5ZM168.9,287.0L171.1,289.2L174.0,288.2L172.6,291.0L174.5,293.5L171.4,293.0L169.6,295.5L169.1,292.5L166.1,291.5L168.9,290.1ZM172.6,287.1L174.1,289.9L177.2,289.8L175.1,292.0L176.2,294.9L173.4,293.6L170.9,295.5L171.3,292.5L168.7,290.7L171.8,290.1ZM173.5,288.8L176.0,290.7L178.8,289.3L177.8,292.3L179.9,294.5L176.8,294.4L175.4,297.2L174.5,294.2L171.4,293.7L174.0,291.9ZM178.1,289.5L179.3,292.4L182.4,292.7L180.0,294.7L180.7,297.7L178.1,296.1L175.4,297.7L176.2,294.7L173.8,292.6L176.9,292.4ZM180.3,290.5L181.4,293.4L184.5,293.8L182.0,295.7L182.6,298.7L180.0,297.0L177.3,298.5L178.2,295.5L175.9,293.4L179.0,293.3ZM183.8,292.6L184.9,295.5L188.0,295.8L185.6,297.8L186.2,300.8L183.6,299.1L181.0,300.7L181.7,297.7L179.4,295.6L182.5,295.5ZM184.2,292.7L186.1,295.1L189.2,294.6L187.4,297.1L188.9,299.9L186.0,299.0L183.8,301.3L183.7,298.2L180.9,296.8L183.8,295.8ZM185.8,295.3L188.1,297.3L191.0,296.2L189.8,299.0L191.8,301.4L188.7,301.2L187.0,303.8L186.3,300.8L183.3,300.0L186.0,298.4ZM190.7,295.4L192.1,298.2L195.2,298.2L193.1,300.4L194.0,303.3L191.2,301.9L188.7,303.7L189.2,300.7L186.7,298.8L189.8,298.4ZM190.9,297.6L193.0,299.8L196.0,298.9L194.6,301.7L196.3,304.2L193.3,303.7L191.4,306.1L191.0,303.1L188.0,302.1L190.8,300.7ZM193.8,298.1L195.9,300.4L198.9,299.5L197.4,302.3L199.1,304.8L196.1,304.3L194.2,306.7L193.8,303.6L190.9,302.6L193.7,301.2ZM198.9,300.0L199.0,303.0L201.8,304.3L198.9,305.4L198.6,308.5L196.6,306.1L193.6,306.7L195.3,304.1L193.8,301.4L196.8,302.2ZM198.5,301.1L200.8,303.1L203.7,301.9L202.5,304.8L204.6,307.1L201.5,306.9L199.9,309.6L199.1,306.6L196.1,305.9L198.7,304.2ZM201.5,301.7L203.6,304.0L206.6,303.2L205.0,305.9L206.7,308.5L203.6,307.9L201.7,310.2L201.4,307.1L198.5,306.0L201.3,304.8ZM204.2,302.9L206.0,305.5L209.0,305.1L207.1,307.5L208.5,310.3L205.5,309.3L203.3,311.4L203.4,308.3L200.7,306.8L203.6,306.0ZM208.9,303.0L209.5,306.0L212.4,306.9L209.7,308.4L209.8,311.5L207.6,309.4L204.7,310.4L206.0,307.6L204.1,305.2L207.1,305.5ZM209.0,304.6L210.6,307.3L213.7,307.0L211.7,309.4L212.9,312.3L210.0,311.1L207.6,313.1L207.9,310.0L205.3,308.3L208.3,307.6ZM213.0,306.1L214.1,309.0L217.2,309.2L214.9,311.2L215.6,314.3L212.9,312.6L210.3,314.2L211.0,311.2L208.7,309.2L211.8,309.0ZM216.0,306.8L216.1,309.9L218.9,311.2L215.9,312.3L215.5,315.3L213.6,312.9L210.6,313.5L212.3,310.9L210.9,308.2L213.8,309.0Z" fill="#e0162e"/>
<rect x="50.8" y="201.2" width="169.1" height="140.3" fill="none" stroke="#4d4d4d" stroke-width="1.3"/>
<line x1="47.2" y1="201.2" x2="50.8" y2="201.2" stroke="#4d4d4d" stroke-width="1.1"/>
<text x="44.3" y="205.4" font-size="11.5" text-anchor="end" font-weight="normal" fill="#141414" stroke="#141414" stroke-width="0.35" >100</text>
<line x1="47.2" y1="229.3" x2="50.8" y2="229.3" stroke="#4d4d4d" stroke-width="1.1"/>
<text x="44.3" y="233.5" font-size="11.5" text-anchor="end" font-weight="normal" fill="#141414" stroke="#141414" stroke-width="0.35" >95</text>
<line x1="47.2" y1="257.3" x2="50.8" y2="257.3" stroke="#4d4d4d" stroke-width="1.1"/>
<text x="44.3" y="261.5" font-size="11.5" text-anchor="end" font-weight="normal" fill="#141414" stroke="#141414" stroke-width="0.35" >90</text>
<line x1="47.2" y1="285.4" x2="50.8" y2="285.4" stroke="#4d4d4d" stroke-width="1.1"/>
<text x="44.3" y="289.6" font-size="11.5" text-anchor="end" font-weight="normal" fill="#141414" stroke="#141414" stroke-width="0.35" >85</text>
<line x1="47.2" y1="313.4" x2="50.8" y2="313.4" stroke="#4d4d4d" stroke-width="1.1"/>
<text x="44.3" y="317.6" font-size="11.5" text-anchor="end" font-weight="normal" fill="#141414" stroke="#141414" stroke-width="0.35" >80</text>
<line x1="47.2" y1="341.5" x2="50.8" y2="341.5" stroke="#4d4d4d" stroke-width="1.1"/>
<text x="44.3" y="345.7" font-size="11.5" text-anchor="end" font-weight="normal" fill="#141414" stroke="#141414" stroke-width="0.35" >75</text>
<line x1="56.4" y1="341.5" x2="56.4" y2="345.1" stroke="#4d4d4d" stroke-width="1.1"/>
<text x="56.4" y="357.5" font-size="11.5" text-anchor="middle" font-weight="normal" fill="#141414" stroke="#141414" stroke-width="0.35" >0</text>
<line x1="122.2" y1="341.5" x2="122.2" y2="345.1" stroke="#4d4d4d" stroke-width="1.1"/>
<text x="122.2" y="357.5" font-size="11.5" text-anchor="middle" font-weight="normal" fill="#141414" stroke="#141414" stroke-width="0.35" >1000</text>
<line x1="187.9" y1="341.5" x2="187.9" y2="345.1" stroke="#4d4d4d" stroke-width="1.1"/>
<text x="187.9" y="357.5" font-size="11.5" text-anchor="middle" font-weight="normal" fill="#141414" stroke="#141414" stroke-width="0.35" >2000</text>
<text x="135.3" y="372.0" font-size="12" text-anchor="middle" font-weight="normal" fill="#141414" stroke="#141414" stroke-width="0.35" >Cycle</text>
<text x="0" y="0" font-size="12" text-anchor="middle" fill="#141414" stroke="#141414" stroke-width="0.35" transform="translate(18.5,271.4) rotate(-90)">SOH (%)</text>
<text x="8.5" y="372.2" font-size="15.5" text-anchor="start" font-weight="bold" fill="#000" stroke="#000" stroke-width="0.25" >(d)</text>
<rect x="94.5" y="206.5" width="121" height="30.8" rx="2" fill="#fff" fill-opacity="0.85" stroke="#d4d4d4" stroke-width="1"/>
<line x1="98.0" y1="214.1" x2="119.0" y2="214.1" stroke="#6fa9dc" stroke-width="1.6"/>
<circle cx="108.0" cy="214.1" r="4" fill="#92c0e8" stroke="#5b9fd8" stroke-width="1"/>
<line x1="98.0" y1="228.7" x2="119.5" y2="228.7" stroke="#d93344" stroke-width="1.8"/>
<path d="M108.7,224.1L109.7,227.3L113.1,227.3L110.4,229.2L111.4,232.4L108.7,230.5L106.0,232.4L107.0,229.2L104.3,227.3L107.7,227.3Z" fill="#dc1f34"/>
<text x="127.3" y="217.5" font-size="10" text-anchor="start" font-weight="normal" fill="#141414" stroke="#141414" stroke-width="0.35" >PINN(GCN+LSTM)</text>
<text x="127.3" y="232.1" font-size="10" text-anchor="start" font-weight="normal" fill="#141414" stroke="#141414" stroke-width="0.35" >Real</text>
<path d="M281.9,219.5L284.4,226.1L286.6,232.7L291.9,239.2L297.8,245.8L300.3,247.7L304.0,250.9L309.0,256.2L314.0,260.1L319.0,262.7L324.0,264.5L329.0,266.7L334.0,270.6L339.0,274.4L344.0,277.0L349.0,279.2L354.0,280.9L357.0,282.7L359.0,284.5L364.0,286.6L369.0,289.1L374.0,294.0L379.0,297.2L384.0,300.2L389.0,302.0L394.0,304.3L399.0,306.5L404.0,309.2L409.0,311.7L414.0,314.4L419.0,317.0L424.0,319.5L433.0,319.0L437.5,319.5L440.0,319.5" fill="none" stroke="#5a9dd8" stroke-width="7.8" stroke-linejoin="round" stroke-linecap="round"/>
<circle cx="281.5" cy="219.6" r="3.9" fill="#5a9dd8"/>
<circle cx="283.2" cy="222.3" r="3.9" fill="#5a9dd8"/>
<circle cx="283.4" cy="224.9" r="3.9" fill="#5a9dd8"/>
<circle cx="285.5" cy="228.0" r="3.9" fill="#5a9dd8"/>
<circle cx="286.7" cy="231.6" r="3.9" fill="#5a9dd8"/>
<circle cx="288.7" cy="234.9" r="3.9" fill="#5a9dd8"/>
<circle cx="290.3" cy="236.5" r="3.9" fill="#5a9dd8"/>
<circle cx="291.1" cy="239.3" r="3.9" fill="#5a9dd8"/>
<circle cx="294.5" cy="242.3" r="3.9" fill="#5a9dd8"/>
<circle cx="295.6" cy="243.4" r="3.9" fill="#5a9dd8"/>
<circle cx="299.3" cy="246.7" r="3.9" fill="#5a9dd8"/>
<circle cx="300.9" cy="248.7" r="3.9" fill="#5a9dd8"/>
<circle cx="302.7" cy="250.4" r="3.9" fill="#5a9dd8"/>
<circle cx="305.9" cy="252.8" r="3.9" fill="#5a9dd8"/>
<circle cx="307.2" cy="254.3" r="3.9" fill="#5a9dd8"/>
<circle cx="310.4" cy="257.8" r="3.9" fill="#5a9dd8"/>
<circle cx="312.0" cy="258.2" r="3.9" fill="#5a9dd8"/>
<circle cx="314.6" cy="261.3" r="3.9" fill="#5a9dd8"/>
<circle cx="318.0" cy="262.2" r="3.9" fill="#5a9dd8"/>
<circle cx="322.0" cy="263.7" r="3.9" fill="#5a9dd8"/>
<circle cx="323.7" cy="264.9" r="3.9" fill="#5a9dd8"/>
<circle cx="326.2" cy="265.5" r="3.9" fill="#5a9dd8"/>
<circle cx="330.2" cy="266.8" r="3.9" fill="#5a9dd8"/>
<circle cx="331.5" cy="269.4" r="3.9" fill="#5a9dd8"/>
<circle cx="334.6" cy="272.1" r="3.9" fill="#5a9dd8"/>
<circle cx="336.7" cy="273.8" r="3.9" fill="#5a9dd8"/>
<circle cx="339.9" cy="275.5" r="3.9" fill="#5a9dd8"/>
<circle cx="342.9" cy="276.8" r="3.9" fill="#5a9dd8"/>
<circle cx="345.5" cy="277.3" r="3.9" fill="#5a9dd8"/>
<circle cx="348.7" cy="279.6" r="3.9" fill="#5a9dd8"/>
<circle cx="351.5" cy="279.7" r="3.9" fill="#5a9dd8"/>
<circle cx="354.6" cy="280.6" r="3.9" fill="#5a9dd8"/>
<circle cx="357.1" cy="283.2" r="3.9" fill="#5a9dd8"/>
<circle cx="360.1" cy="285.1" r="3.9" fill="#5a9dd8"/>
<circle cx="362.6" cy="285.3" r="3.9" fill="#5a9dd8"/>
<circle cx="365.0" cy="287.2" r="3.9" fill="#5a9dd8"/>
<circle cx="368.2" cy="289.1" r="3.9" fill="#5a9dd8"/>
<circle cx="370.6" cy="291.6" r="3.9" fill="#5a9dd8"/>
<circle cx="373.5" cy="293.6" r="3.9" fill="#5a9dd8"/>
<circle cx="376.3" cy="295.3" r="3.9" fill="#5a9dd8"/>
<circle cx="378.5" cy="296.6" r="3.9" fill="#5a9dd8"/>
<circle cx="380.6" cy="299.1" r="3.9" fill="#5a9dd8"/>
<circle cx="384.1" cy="299.5" r="3.9" fill="#5a9dd8"/>
<circle cx="387.9" cy="301.5" r="3.9" fill="#5a9dd8"/>
<circle cx="390.3" cy="302.4" r="3.9" fill="#5a9dd8"/>
<circle cx="392.3" cy="304.7" r="3.9" fill="#5a9dd8"/>
<circle cx="395.3" cy="304.9" r="3.9" fill="#5a9dd8"/>
<circle cx="399.7" cy="305.7" r="3.9" fill="#5a9dd8"/>
<circle cx="401.7" cy="307.9" r="3.9" fill="#5a9dd8"/>
<circle cx="404.0" cy="310.2" r="3.9" fill="#5a9dd8"/>
<circle cx="407.2" cy="310.0" r="3.9" fill="#5a9dd8"/>
<circle cx="410.1" cy="311.4" r="3.9" fill="#5a9dd8"/>
<circle cx="413.4" cy="314.5" r="3.9" fill="#5a9dd8"/>
<circle cx="416.6" cy="314.5" r="3.9" fill="#5a9dd8"/>
<circle cx="419.0" cy="316.5" r="3.9" fill="#5a9dd8"/>
<circle cx="421.5" cy="317.9" r="3.9" fill="#5a9dd8"/>
<circle cx="424.1" cy="318.8" r="3.9" fill="#5a9dd8"/>
<circle cx="427.9" cy="318.6" r="3.9" fill="#5a9dd8"/>
<circle cx="431.7" cy="318.3" r="3.9" fill="#5a9dd8"/>
<circle cx="434.9" cy="318.6" r="3.9" fill="#5a9dd8"/>
<circle cx="436.5" cy="319.9" r="3.9" fill="#5a9dd8"/>
<circle cx="440.1" cy="320.0" r="3.9" fill="#5a9dd8"/>
<path d="M281.9,219.5L284.4,226.1L286.6,232.7L291.9,239.2L297.8,245.8L300.3,247.7L304.0,250.9L309.0,256.2L314.0,260.1L319.0,262.7L324.0,264.5L329.0,266.7L334.0,270.6L339.0,274.4L344.0,277.0L349.0,279.2L354.0,280.9L357.0,282.7L359.0,284.5L364.0,286.6L369.0,289.1L374.0,294.0L379.0,297.2L384.0,300.2L389.0,302.0L394.0,304.3L399.0,306.5L404.0,309.2L409.0,311.7L414.0,314.4L419.0,317.0L424.0,319.5L433.0,319.0L437.5,319.5L440.0,319.5" fill="none" stroke="#2a7abf" stroke-width="5.2" stroke-linejoin="round" stroke-linecap="round"/>
<path d="M282.9,216.8L285.4,223.4L287.6,230.0L292.9,236.5L298.8,243.1L301.3,245.0L305.0,248.2L310.0,253.5L315.0,257.4L320.0,260.0L325.0,261.8L330.0,264.0L335.0,267.9L340.0,271.7L345.0,274.3L350.0,276.5L355.0,278.2L358.0,280.0L360.0,281.8L365.0,283.9L370.0,286.4L375.0,291.3L380.0,294.5L385.0,297.5L390.0,299.3L395.0,301.6L400.0,303.8L405.0,306.5L410.0,309.0L415.0,311.7L420.0,314.3L425.0,316.8L430.0,319.2L435.0,321.2L439.5,322.7" fill="none" stroke="#e0162e" stroke-width="5.6" stroke-linejoin="round" stroke-linecap="round"/>
<path d="M280.8,213.0L283.2,215.0L286.0,213.7L284.9,216.6L287.0,218.9L283.9,218.8L282.3,221.4L281.5,218.5L278.5,217.8L281.1,216.1ZM286.5,215.5L286.0,218.6L288.5,220.4L285.4,220.9L284.4,223.8L283.0,221.1L279.9,221.0L282.1,218.9L281.2,215.9L284.0,217.3ZM285.1,216.8L285.6,219.9L288.6,220.8L285.9,222.3L285.9,225.4L283.7,223.2L280.8,224.2L282.1,221.5L280.2,219.0L283.3,219.4ZM287.5,219.9L287.9,223.0L290.8,224.0L288.0,225.4L288.0,228.5L285.8,226.2L282.9,227.1L284.3,224.4L282.5,221.9L285.6,222.4ZM286.5,222.3L287.8,225.1L290.9,225.2L288.6,227.3L289.5,230.3L286.8,228.8L284.2,230.5L284.8,227.5L282.3,225.6L285.4,225.2ZM286.5,224.5L288.4,227.0L291.4,226.5L289.6,229.0L291.0,231.8L288.0,230.8L285.8,233.0L285.9,229.9L283.1,228.5L286.0,227.5ZM289.2,226.9L290.5,229.7L293.5,229.8L291.3,231.9L292.1,234.9L289.4,233.4L286.8,235.1L287.4,232.0L285.0,230.1L288.1,229.8ZM291.2,229.2L291.8,232.2L294.8,233.0L292.1,234.5L292.3,237.6L290.0,235.6L287.1,236.7L288.3,233.9L286.4,231.5L289.5,231.8ZM292.6,232.0L293.9,234.8L297.0,235.0L294.7,237.1L295.5,240.1L292.8,238.5L290.2,240.2L290.8,237.2L288.4,235.2L291.5,234.9ZM291.5,233.8L293.9,235.7L296.7,234.3L295.7,237.3L297.9,239.5L294.8,239.4L293.3,242.2L292.4,239.2L289.4,238.6L291.9,236.9ZM296.2,235.6L297.0,238.6L300.0,239.2L297.4,240.9L297.7,244.0L295.3,242.1L292.5,243.3L293.6,240.4L291.5,238.1L294.6,238.3ZM295.3,237.5L297.7,239.5L300.5,238.3L299.4,241.2L301.4,243.5L298.3,243.3L296.7,245.9L296.0,242.9L293.0,242.2L295.6,240.6ZM298.0,239.5L299.9,241.9L303.0,241.2L301.3,243.8L302.8,246.5L299.8,245.7L297.8,248.0L297.6,245.0L294.8,243.7L297.6,242.6ZM301.5,241.1L303.2,243.7L306.3,243.4L304.4,245.8L305.7,248.6L302.8,247.5L300.5,249.6L300.6,246.5L297.9,245.0L300.9,244.2ZM305.0,242.3L305.4,245.3L308.3,246.4L305.5,247.7L305.3,250.8L303.2,248.5L300.2,249.4L301.8,246.7L300.0,244.1L303.1,244.7ZM307.4,244.6L307.8,247.6L310.7,248.7L307.9,250.0L307.8,253.1L305.6,250.8L302.7,251.7L304.2,249.0L302.4,246.4L305.5,247.0ZM305.9,246.4L308.0,248.7L311.0,248.0L309.4,250.6L311.0,253.3L308.0,252.6L306.0,255.0L305.7,251.9L302.9,250.7L305.7,249.5ZM309.9,248.7L310.6,251.7L313.6,252.5L310.9,254.1L311.1,257.2L308.8,255.2L305.9,256.3L307.1,253.4L305.1,251.1L308.2,251.3ZM313.3,249.9L313.6,253.0L316.4,254.2L313.5,255.4L313.3,258.5L311.3,256.1L308.3,256.8L309.9,254.2L308.3,251.5L311.3,252.3ZM313.7,251.7L314.9,254.6L318.0,254.9L315.6,256.9L316.3,259.9L313.7,258.3L311.0,259.9L311.8,256.9L309.4,254.8L312.5,254.6ZM315.3,253.0L316.8,255.7L319.9,255.6L317.9,257.9L319.0,260.8L316.1,259.5L313.7,261.4L314.0,258.3L311.4,256.6L314.5,256.0ZM320.7,255.5L320.4,258.6L323.0,260.3L320.0,260.9L319.1,263.9L317.6,261.2L314.5,261.4L316.6,259.1L315.5,256.2L318.3,257.4ZM322.0,256.6L322.1,259.7L324.9,261.0L322.0,262.1L321.6,265.2L319.7,262.7L316.6,263.3L318.3,260.7L316.9,258.0L319.8,258.9ZM321.7,257.8L324.0,259.9L326.9,258.8L325.6,261.6L327.6,264.1L324.5,263.7L322.8,266.3L322.2,263.3L319.2,262.4L321.9,260.9ZM324.3,258.7L326.6,260.7L329.5,259.6L328.3,262.5L330.2,264.8L327.1,264.6L325.5,267.2L324.8,264.1L321.8,263.4L324.5,261.8ZM327.4,259.5L329.2,262.0L332.3,261.5L330.5,264.0L331.9,266.8L329.0,265.9L326.8,268.1L326.7,265.0L324.0,263.6L326.9,262.6ZM330.8,260.6L332.2,263.4L335.3,263.4L333.2,265.6L334.1,268.5L331.3,267.1L328.8,268.9L329.3,265.9L326.8,264.1L329.9,263.6ZM334.1,261.6L334.1,264.7L336.8,266.2L333.9,267.1L333.4,270.2L331.5,267.7L328.5,268.1L330.3,265.6L328.9,262.9L331.9,263.8ZM334.5,263.1L335.9,265.9L339.0,265.9L336.8,268.1L337.7,271.1L335.0,269.6L332.4,271.4L333.0,268.4L330.5,266.5L333.5,266.0ZM335.2,265.4L337.8,267.1L340.5,265.6L339.7,268.6L341.9,270.8L338.8,270.8L337.5,273.6L336.4,270.7L333.4,270.3L335.8,268.4ZM339.3,266.4L340.8,269.1L343.9,268.9L341.9,271.2L343.0,274.1L340.2,272.9L337.8,274.8L338.1,271.8L335.4,270.1L338.5,269.4ZM340.1,268.2L342.5,270.2L345.3,268.9L344.2,271.8L346.3,274.1L343.2,274.0L341.6,276.7L340.8,273.7L337.8,273.0L340.4,271.3ZM343.0,269.1L345.1,271.5L348.1,270.7L346.5,273.4L348.2,276.0L345.2,275.3L343.2,277.7L342.9,274.6L340.0,273.5L342.8,272.2ZM349.1,270.5L348.8,273.6L351.4,275.3L348.4,276.0L347.7,279.0L346.1,276.3L343.0,276.5L345.0,274.2L343.9,271.3L346.7,272.5ZM347.1,271.5L349.2,273.8L352.2,273.0L350.7,275.7L352.3,278.3L349.3,277.6L347.4,280.0L347.0,277.0L344.1,275.8L347.0,274.6ZM350.9,272.6L352.4,275.3L355.5,275.2L353.4,277.4L354.5,280.3L351.7,279.1L349.3,281.0L349.6,277.9L347.0,276.2L350.1,275.6ZM355.7,273.4L355.7,276.5L358.4,278.0L355.5,278.9L354.9,281.9L353.1,279.4L350.1,279.9L351.9,277.4L350.6,274.6L353.5,275.6ZM358.6,275.2L358.7,278.3L361.4,279.7L358.5,280.7L358.0,283.7L356.2,281.2L353.1,281.7L354.9,279.2L353.5,276.5L356.5,277.4ZM356.4,276.0L358.5,278.2L361.5,277.4L360.0,280.1L361.7,282.7L358.7,282.1L356.8,284.5L356.4,281.4L353.5,280.4L356.3,279.0ZM362.3,278.8L362.1,281.9L364.7,283.5L361.6,284.2L360.9,287.2L359.3,284.5L356.2,284.7L358.2,282.4L357.1,279.5L360.0,280.8ZM361.8,279.2L364.1,281.2L367.0,280.1L365.8,282.9L367.8,285.3L364.7,285.0L363.0,287.7L362.3,284.6L359.3,283.9L362.0,282.3ZM367.7,279.6L367.4,282.7L370.0,284.4L367.0,285.1L366.2,288.1L364.6,285.4L361.5,285.6L363.6,283.3L362.4,280.4L365.3,281.6ZM370.1,281.3L369.6,284.3L372.2,286.1L369.1,286.7L368.2,289.6L366.7,286.9L363.6,286.9L365.8,284.7L364.8,281.8L367.6,283.1ZM369.0,283.0L370.8,285.5L373.8,285.1L372.0,287.6L373.4,290.3L370.4,289.4L368.2,291.5L368.3,288.4L365.5,287.0L368.5,286.1ZM374.6,284.1L374.4,287.2L377.0,288.9L374.0,289.6L373.2,292.6L371.6,289.9L368.5,290.2L370.6,287.8L369.4,284.9L372.3,286.1ZM375.0,285.9L375.6,289.0L378.6,289.8L375.9,291.3L376.1,294.4L373.7,292.4L370.9,293.5L372.1,290.6L370.2,288.2L373.3,288.5ZM374.6,287.8L376.9,289.9L379.8,288.7L378.5,291.6L380.5,294.0L377.4,293.7L375.7,296.3L375.1,293.3L372.1,292.5L374.8,290.9ZM380.7,288.9L380.6,292.0L383.2,293.6L380.3,294.4L379.6,297.4L377.9,294.8L374.8,295.1L376.8,292.7L375.5,289.9L378.4,291.0ZM379.8,290.2L381.6,292.8L384.7,292.4L382.8,294.8L384.1,297.6L381.2,296.6L378.9,298.7L379.0,295.6L376.3,294.1L379.3,293.3ZM383.0,291.7L384.0,294.6L387.1,295.0L384.6,296.9L385.2,300.0L382.6,298.2L379.9,299.7L380.8,296.7L378.5,294.6L381.6,294.5ZM384.4,293.1L386.3,295.6L389.3,295.1L387.6,297.6L389.0,300.4L386.0,299.5L383.9,301.7L383.8,298.6L381.0,297.2L384.0,296.2ZM387.8,294.6L389.2,297.3L392.3,297.3L390.2,299.5L391.1,302.5L388.3,301.1L385.8,302.9L386.3,299.8L383.8,298.0L386.9,297.5ZM389.1,295.6L391.4,297.6L394.3,296.5L393.1,299.3L395.1,301.7L392.0,301.4L390.3,304.0L389.6,301.0L386.6,300.2L389.3,298.7ZM392.6,296.7L393.9,299.6L397.0,299.7L394.6,301.8L395.4,304.8L392.8,303.3L390.2,304.9L390.8,301.9L388.4,300.0L391.5,299.6ZM397.3,297.8L397.2,300.9L399.9,302.4L397.0,303.2L396.4,306.3L394.6,303.8L391.6,304.2L393.4,301.7L392.1,298.9L395.0,299.9ZM397.2,298.3L398.8,301.0L401.9,300.7L399.9,303.1L401.1,305.9L398.2,304.8L395.9,306.8L396.1,303.7L393.5,302.1L396.5,301.3ZM399.8,299.7L401.0,302.5L404.1,302.7L401.8,304.7L402.6,307.7L399.9,306.2L397.3,307.9L398.0,304.8L395.5,302.9L398.6,302.6ZM402.8,300.8L404.1,303.6L407.1,303.8L404.9,305.9L405.7,308.9L403.0,307.3L400.4,309.0L401.0,306.0L398.6,304.1L401.7,303.7ZM408.1,302.4L407.5,305.5L410.0,307.4L406.9,307.8L405.8,310.7L404.5,307.9L401.4,307.8L403.7,305.7L402.8,302.7L405.5,304.2ZM405.5,304.2L407.7,306.4L410.6,305.5L409.2,308.2L411.0,310.7L407.9,310.2L406.1,312.7L405.6,309.7L402.7,308.7L405.5,307.3ZM408.4,304.8L410.8,306.7L413.6,305.4L412.5,308.3L414.6,310.6L411.5,310.5L410.0,313.2L409.2,310.2L406.1,309.6L408.7,307.9ZM414.4,306.7L414.3,309.8L417.0,311.3L414.1,312.2L413.5,315.2L411.7,312.7L408.7,313.1L410.5,310.6L409.2,307.8L412.1,308.8ZM413.1,308.4L415.6,310.3L418.4,308.9L417.4,311.9L419.5,314.1L416.4,314.0L415.0,316.8L414.1,313.8L411.0,313.3L413.6,311.5ZM418.5,308.0L418.7,311.1L421.6,312.3L418.8,313.5L418.5,316.6L416.5,314.3L413.5,315.0L415.1,312.4L413.4,309.7L416.5,310.4ZM421.2,310.3L421.3,313.3L424.1,314.7L421.2,315.7L420.8,318.8L418.9,316.4L415.9,317.0L417.6,314.4L416.1,311.7L419.1,312.5ZM424.7,311.5L424.6,314.6L427.2,316.2L424.2,317.0L423.6,320.0L421.9,317.4L418.8,317.7L420.8,315.3L419.5,312.5L422.4,313.6ZM426.6,311.9L426.4,315.0L429.0,316.7L426.0,317.4L425.3,320.4L423.7,317.8L420.6,318.0L422.6,315.7L421.4,312.8L424.2,314.0ZM428.1,313.0L428.1,316.1L430.8,317.5L427.9,318.5L427.4,321.5L425.6,319.0L422.5,319.5L424.3,317.0L422.9,314.2L425.9,315.2ZM426.6,315.3L429.2,317.1L431.9,315.7L431.0,318.6L433.2,320.8L430.1,320.8L428.8,323.6L427.8,320.7L424.7,320.2L427.2,318.4ZM429.1,316.4L431.6,318.2L434.4,316.8L433.4,319.8L435.6,321.9L432.5,322.0L431.1,324.7L430.1,321.8L427.1,321.3L429.6,319.5ZM432.9,317.3L434.9,319.6L437.9,318.8L436.4,321.5L438.1,324.1L435.1,323.5L433.1,325.9L432.8,322.8L429.9,321.7L432.7,320.4ZM437.8,317.7L438.6,320.7L441.6,321.4L439.0,323.1L439.3,326.2L436.9,324.2L434.1,325.4L435.2,322.5L433.2,320.2L436.3,320.4ZM437.4,319.2L439.9,320.9L442.6,319.5L441.8,322.4L444.1,324.6L441.0,324.7L439.6,327.5L438.6,324.5L435.5,324.2L437.9,322.3ZM441.5,318.9L441.0,322.0L443.4,323.9L440.4,324.3L439.4,327.2L438.0,324.5L434.9,324.4L437.1,322.3L436.2,319.3L438.9,320.7Z" fill="#e0162e"/>
<rect x="275.5" y="201.4" width="170.5" height="140.1" fill="none" stroke="#4d4d4d" stroke-width="1.3"/>
<line x1="271.9" y1="201.4" x2="275.5" y2="201.4" stroke="#4d4d4d" stroke-width="1.1"/>
<text x="269.0" y="205.6" font-size="11.5" text-anchor="end" font-weight="normal" fill="#141414" stroke="#141414" stroke-width="0.35" >100</text>
<line x1="271.9" y1="229.4" x2="275.5" y2="229.4" stroke="#4d4d4d" stroke-width="1.1"/>
<text x="269.0" y="233.6" font-size="11.5" text-anchor="end" font-weight="normal" fill="#141414" stroke="#141414" stroke-width="0.35" >95</text>
<line x1="271.9" y1="257.4" x2="275.5" y2="257.4" stroke="#4d4d4d" stroke-width="1.1"/>
<text x="269.0" y="261.6" font-size="11.5" text-anchor="end" font-weight="normal" fill="#141414" stroke="#141414" stroke-width="0.35" >90</text>
<line x1="271.9" y1="285.5" x2="275.5" y2="285.5" stroke="#4d4d4d" stroke-width="1.1"/>
<text x="269.0" y="289.7" font-size="11.5" text-anchor="end" font-weight="normal" fill="#141414" stroke="#141414" stroke-width="0.35" >85</text>
<line x1="271.9" y1="313.5" x2="275.5" y2="313.5" stroke="#4d4d4d" stroke-width="1.1"/>
<text x="269.0" y="317.7" font-size="11.5" text-anchor="end" font-weight="normal" fill="#141414" stroke="#141414" stroke-width="0.35" >80</text>
<line x1="271.9" y1="341.5" x2="275.5" y2="341.5" stroke="#4d4d4d" stroke-width="1.1"/>
<text x="269.0" y="345.7" font-size="11.5" text-anchor="end" font-weight="normal" fill="#141414" stroke="#141414" stroke-width="0.35" >75</text>
<line x1="281.1" y1="341.5" x2="281.1" y2="345.1" stroke="#4d4d4d" stroke-width="1.1"/>
<text x="281.1" y="357.5" font-size="11.5" text-anchor="middle" font-weight="normal" fill="#141414" stroke="#141414" stroke-width="0.35" >0</text>
<line x1="346.9" y1="341.5" x2="346.9" y2="345.1" stroke="#4d4d4d" stroke-width="1.1"/>
<text x="346.9" y="357.5" font-size="11.5" text-anchor="middle" font-weight="normal" fill="#141414" stroke="#141414" stroke-width="0.35" >1000</text>
<line x1="412.6" y1="341.5" x2="412.6" y2="345.1" stroke="#4d4d4d" stroke-width="1.1"/>
<text x="412.6" y="357.5" font-size="11.5" text-anchor="middle" font-weight="normal" fill="#141414" stroke="#141414" stroke-width="0.35" >2000</text>
<text x="360.8" y="372.0" font-size="12" text-anchor="middle" font-weight="normal" fill="#141414" stroke="#141414" stroke-width="0.35" >Cycle</text>
<text x="0" y="0" font-size="12" text-anchor="middle" fill="#141414" stroke="#141414" stroke-width="0.35" transform="translate(243.2,271.4) rotate(-90)">SOH (%)</text>
<text x="232.7" y="372.2" font-size="15.5" text-anchor="start" font-weight="bold" fill="#000" stroke="#000" stroke-width="0.25" >(e)</text>
<rect x="319" y="206.5" width="121" height="30.8" rx="2" fill="#fff" fill-opacity="0.85" stroke="#d4d4d4" stroke-width="1"/>
<line x1="322.5" y1="214.1" x2="343.5" y2="214.1" stroke="#6fa9dc" stroke-width="1.6"/>
<circle cx="332.5" cy="214.1" r="4" fill="#92c0e8" stroke="#5b9fd8" stroke-width="1"/>
<line x1="322.5" y1="228.7" x2="344" y2="228.7" stroke="#d93344" stroke-width="1.8"/>
<path d="M333.2,224.1L334.2,227.3L337.6,227.3L334.9,229.2L335.9,232.4L333.2,230.5L330.5,232.4L331.5,229.2L328.8,227.3L332.2,227.3Z" fill="#dc1f34"/>
<text x="351.8" y="217.5" font-size="10" text-anchor="start" font-weight="normal" fill="#141414" stroke="#141414" stroke-width="0.35" >PINN(GCN+LSTM)</text>
<text x="351.8" y="232.1" font-size="10" text-anchor="start" font-weight="normal" fill="#141414" stroke="#141414" stroke-width="0.35" >Real</text>
<path d="M511.7,219.3L513.7,222.8L515.3,227.8L517.2,232.8L520.8,237.8L524.2,242.8L529.0,245.5L534.0,248.8L539.0,251.8L544.0,254.7L549.0,258.7L554.0,262.4L559.0,264.2L561.5,267.3L564.0,270.4L569.0,272.3L574.0,274.8L579.0,276.8L584.0,278.8L589.0,280.6L594.0,282.8L599.0,285.0L602.0,288.1L604.0,290.3L609.0,293.3L614.0,295.6L619.0,298.1L624.0,300.3L629.0,303.2L634.0,305.6L639.0,308.4L644.0,311.2L649.0,314.1L654.0,316.5L659.0,318.7L666.0,318.0L668.5,317.5" fill="none" stroke="#5a9dd8" stroke-width="7.8" stroke-linejoin="round" stroke-linecap="round"/>
<circle cx="511.2" cy="219.5" r="3.9" fill="#5a9dd8"/>
<circle cx="512.6" cy="222.7" r="3.9" fill="#5a9dd8"/>
<circle cx="514.3" cy="225.1" r="3.9" fill="#5a9dd8"/>
<circle cx="515.7" cy="227.4" r="3.9" fill="#5a9dd8"/>
<circle cx="517.0" cy="231.6" r="3.9" fill="#5a9dd8"/>
<circle cx="518.6" cy="233.5" r="3.9" fill="#5a9dd8"/>
<circle cx="519.4" cy="235.9" r="3.9" fill="#5a9dd8"/>
<circle cx="522.4" cy="239.0" r="3.9" fill="#5a9dd8"/>
<circle cx="523.3" cy="241.8" r="3.9" fill="#5a9dd8"/>
<circle cx="526.3" cy="243.4" r="3.9" fill="#5a9dd8"/>
<circle cx="528.4" cy="245.8" r="3.9" fill="#5a9dd8"/>
<circle cx="531.9" cy="246.7" r="3.9" fill="#5a9dd8"/>
<circle cx="533.3" cy="249.6" r="3.9" fill="#5a9dd8"/>
<circle cx="537.2" cy="250.6" r="3.9" fill="#5a9dd8"/>
<circle cx="539.4" cy="252.9" r="3.9" fill="#5a9dd8"/>
<circle cx="542.2" cy="253.2" r="3.9" fill="#5a9dd8"/>
<circle cx="544.3" cy="255.2" r="3.9" fill="#5a9dd8"/>
<circle cx="547.7" cy="257.2" r="3.9" fill="#5a9dd8"/>
<circle cx="550.8" cy="259.7" r="3.9" fill="#5a9dd8"/>
<circle cx="552.5" cy="261.6" r="3.9" fill="#5a9dd8"/>
<circle cx="555.5" cy="263.1" r="3.9" fill="#5a9dd8"/>
<circle cx="558.3" cy="264.0" r="3.9" fill="#5a9dd8"/>
<circle cx="560.6" cy="266.8" r="3.9" fill="#5a9dd8"/>
<circle cx="562.0" cy="269.2" r="3.9" fill="#5a9dd8"/>
<circle cx="564.5" cy="271.4" r="3.9" fill="#5a9dd8"/>
<circle cx="567.1" cy="271.8" r="3.9" fill="#5a9dd8"/>
<circle cx="570.7" cy="273.6" r="3.9" fill="#5a9dd8"/>
<circle cx="573.1" cy="274.2" r="3.9" fill="#5a9dd8"/>
<circle cx="576.0" cy="276.0" r="3.9" fill="#5a9dd8"/>
<circle cx="579.7" cy="276.1" r="3.9" fill="#5a9dd8"/>
<circle cx="582.0" cy="277.7" r="3.9" fill="#5a9dd8"/>
<circle cx="586.4" cy="279.3" r="3.9" fill="#5a9dd8"/>
<circle cx="588.7" cy="280.1" r="3.9" fill="#5a9dd8"/>
<circle cx="591.8" cy="282.3" r="3.9" fill="#5a9dd8"/>
<circle cx="594.7" cy="282.1" r="3.9" fill="#5a9dd8"/>
<circle cx="597.2" cy="284.3" r="3.9" fill="#5a9dd8"/>
<circle cx="599.2" cy="286.5" r="3.9" fill="#5a9dd8"/>
<circle cx="601.9" cy="287.9" r="3.9" fill="#5a9dd8"/>
<circle cx="604.7" cy="290.7" r="3.9" fill="#5a9dd8"/>
<circle cx="607.2" cy="292.9" r="3.9" fill="#5a9dd8"/>
<circle cx="610.0" cy="293.5" r="3.9" fill="#5a9dd8"/>
<circle cx="612.1" cy="295.2" r="3.9" fill="#5a9dd8"/>
<circle cx="615.5" cy="296.6" r="3.9" fill="#5a9dd8"/>
<circle cx="618.4" cy="297.0" r="3.9" fill="#5a9dd8"/>
<circle cx="620.7" cy="298.6" r="3.9" fill="#5a9dd8"/>
<circle cx="623.7" cy="301.2" r="3.9" fill="#5a9dd8"/>
<circle cx="627.4" cy="301.7" r="3.9" fill="#5a9dd8"/>
<circle cx="630.4" cy="303.9" r="3.9" fill="#5a9dd8"/>
<circle cx="632.1" cy="305.5" r="3.9" fill="#5a9dd8"/>
<circle cx="635.3" cy="307.5" r="3.9" fill="#5a9dd8"/>
<circle cx="637.9" cy="307.8" r="3.9" fill="#5a9dd8"/>
<circle cx="640.9" cy="310.4" r="3.9" fill="#5a9dd8"/>
<circle cx="644.7" cy="311.4" r="3.9" fill="#5a9dd8"/>
<circle cx="646.3" cy="312.7" r="3.9" fill="#5a9dd8"/>
<circle cx="650.0" cy="313.6" r="3.9" fill="#5a9dd8"/>
<circle cx="653.3" cy="316.4" r="3.9" fill="#5a9dd8"/>
<circle cx="656.3" cy="317.5" r="3.9" fill="#5a9dd8"/>
<circle cx="658.6" cy="319.3" r="3.9" fill="#5a9dd8"/>
<circle cx="661.1" cy="318.1" r="3.9" fill="#5a9dd8"/>
<circle cx="664.0" cy="317.6" r="3.9" fill="#5a9dd8"/>
<circle cx="668.4" cy="316.9" r="3.9" fill="#5a9dd8"/>
<circle cx="668.9" cy="317.3" r="3.9" fill="#5a9dd8"/>
<path d="M511.7,219.3L513.7,222.8L515.3,227.8L517.2,232.8L520.8,237.8L524.2,242.8L529.0,245.5L534.0,248.8L539.0,251.8L544.0,254.7L549.0,258.7L554.0,262.4L559.0,264.2L561.5,267.3L564.0,270.4L569.0,272.3L574.0,274.8L579.0,276.8L584.0,278.8L589.0,280.6L594.0,282.8L599.0,285.0L602.0,288.1L604.0,290.3L609.0,293.3L614.0,295.6L619.0,298.1L624.0,300.3L629.0,303.2L634.0,305.6L639.0,308.4L644.0,311.2L649.0,314.1L654.0,316.5L659.0,318.7L666.0,318.0L668.5,317.5" fill="none" stroke="#2a7abf" stroke-width="5.2" stroke-linejoin="round" stroke-linecap="round"/>
<path d="M512.7,216.5L514.7,220.0L516.3,225.0L518.2,230.0L521.8,235.0L525.2,240.0L530.0,242.7L535.0,246.0L540.0,249.0L545.0,251.9L550.0,255.9L555.0,259.6L560.0,261.4L562.5,264.5L565.0,267.6L570.0,269.5L575.0,272.0L580.0,274.0L585.0,276.0L590.0,277.8L595.0,280.0L600.0,282.2L603.0,285.3L605.0,287.5L610.0,290.5L615.0,292.8L620.0,295.3L625.0,297.5L630.0,300.4L635.0,302.8L640.0,305.6L645.0,308.4L650.0,311.3L655.0,313.7L660.0,315.9L665.0,317.9L667.5,318.6" fill="none" stroke="#e0162e" stroke-width="5.6" stroke-linejoin="round" stroke-linecap="round"/>
<path d="M514.2,212.5L514.8,215.5L517.7,216.5L515.0,217.9L515.0,221.0L512.8,218.8L509.8,219.8L511.2,217.0L509.4,214.6L512.4,215.0ZM513.3,213.9L515.2,216.3L518.2,215.7L516.5,218.3L518.1,221.0L515.1,220.1L513.0,222.4L512.8,219.3L510.0,218.1L512.9,217.0ZM515.8,216.8L516.4,219.8L519.4,220.7L516.7,222.2L516.8,225.3L514.5,223.2L511.6,224.2L512.9,221.4L511.0,219.0L514.1,219.4ZM518.7,220.3L518.3,223.4L520.9,225.1L517.8,225.7L517.0,228.7L515.5,226.0L512.4,226.1L514.5,223.8L513.4,220.9L516.2,222.2ZM517.2,221.7L518.3,224.6L521.4,224.9L519.0,226.9L519.7,229.9L517.1,228.2L514.4,229.8L515.2,226.8L512.8,224.8L515.9,224.6ZM517.4,224.9L519.1,227.6L522.2,227.3L520.1,229.7L521.3,232.6L518.5,231.4L516.1,233.4L516.3,230.3L513.7,228.7L516.7,228.0ZM517.5,227.2L519.5,229.5L522.5,228.7L520.9,231.4L522.6,234.0L519.6,233.4L517.6,235.7L517.3,232.6L514.4,231.5L517.3,230.3ZM522.0,228.3L522.7,231.4L525.7,232.2L523.0,233.7L523.2,236.8L520.9,234.8L518.0,235.9L519.2,233.0L517.3,230.6L520.4,230.9ZM522.6,230.8L523.6,233.7L526.6,234.2L524.1,236.0L524.6,239.1L522.1,237.3L519.3,238.6L520.3,235.7L518.1,233.5L521.2,233.5ZM525.7,234.5L525.5,237.6L528.2,239.2L525.2,240.0L524.5,243.0L522.8,240.4L519.7,240.6L521.7,238.3L520.5,235.4L523.4,236.6ZM527.5,236.6L527.3,239.7L529.9,241.3L526.9,242.0L526.2,245.0L524.6,242.4L521.5,242.7L523.5,240.3L522.2,237.5L525.1,238.6ZM529.0,237.7L529.0,240.8L531.7,242.2L528.8,243.2L528.2,246.2L526.4,243.7L523.4,244.2L525.2,241.7L523.8,238.9L526.8,239.9ZM530.2,238.6L531.7,241.3L534.8,241.2L532.7,243.5L533.8,246.4L531.0,245.1L528.6,247.0L528.9,244.0L526.3,242.3L529.3,241.6ZM530.4,240.2L532.5,242.5L535.4,241.7L533.9,244.4L535.6,247.0L532.6,246.3L530.6,248.8L530.3,245.7L527.4,244.6L530.2,243.3ZM536.6,241.6L536.6,244.7L539.4,246.2L536.5,247.1L536.0,250.2L534.1,247.7L531.1,248.2L532.9,245.7L531.5,242.9L534.4,243.8ZM538.8,242.9L538.5,245.9L541.1,247.6L538.1,248.3L537.3,251.3L535.7,248.6L532.6,248.8L534.7,246.5L533.5,243.6L536.4,244.8ZM539.7,243.8L540.7,246.8L543.8,247.3L541.3,249.1L541.8,252.2L539.3,250.4L536.5,251.8L537.4,248.8L535.2,246.6L538.3,246.6ZM541.5,245.6L542.6,248.5L545.7,248.8L543.3,250.7L544.0,253.8L541.4,252.1L538.7,253.7L539.5,250.7L537.2,248.6L540.3,248.4ZM545.5,247.9L545.3,251.0L548.0,252.6L545.0,253.3L544.3,256.3L542.6,253.7L539.5,254.0L541.5,251.6L540.3,248.7L543.2,249.9ZM544.8,248.2L546.9,250.5L549.9,249.6L548.4,252.3L550.2,254.9L547.1,254.3L545.3,256.8L544.8,253.7L541.9,252.7L544.7,251.3ZM549.3,250.5L550.0,253.5L553.0,254.3L550.3,255.8L550.4,258.9L548.1,256.9L545.2,258.0L546.5,255.1L544.5,252.7L547.6,253.1ZM550.0,251.9L551.1,254.8L554.2,255.1L551.8,257.1L552.4,260.1L549.8,258.4L547.1,260.0L547.9,257.0L545.6,254.9L548.7,254.7ZM552.0,253.3L553.4,256.1L556.5,256.2L554.2,258.3L555.1,261.3L552.4,259.9L549.9,261.6L550.4,258.6L547.9,256.7L551.0,256.3ZM557.3,255.9L556.7,259.0L559.2,260.9L556.1,261.3L555.1,264.2L553.7,261.4L550.6,261.3L552.9,259.1L552.0,256.2L554.7,257.7ZM558.8,256.6L558.4,259.7L560.9,261.4L557.9,262.0L557.0,264.9L555.5,262.2L552.4,262.2L554.6,260.0L553.6,257.1L556.4,258.4ZM561.7,257.3L561.6,260.4L564.3,261.9L561.4,262.7L560.8,265.8L559.0,263.2L556.0,263.6L557.8,261.2L556.5,258.4L559.4,259.4ZM561.5,259.2L562.2,262.2L565.2,262.9L562.6,264.5L562.9,267.6L560.5,265.6L557.6,266.8L558.8,263.9L556.8,261.6L559.9,261.8ZM563.9,260.6L564.7,263.6L567.7,264.3L565.1,265.9L565.4,269.0L563.0,267.0L560.1,268.3L561.3,265.4L559.2,263.1L562.3,263.2ZM563.0,263.1L565.0,265.5L568.0,264.9L566.3,267.5L567.9,270.2L564.9,269.4L562.8,271.7L562.7,268.6L559.8,267.3L562.7,266.2ZM567.7,264.4L569.0,267.2L572.1,267.4L569.8,269.5L570.7,272.4L568.0,270.9L565.4,272.6L566.0,269.6L563.6,267.6L566.7,267.3ZM570.3,264.8L571.4,267.7L574.5,268.0L572.1,269.9L572.7,273.0L570.1,271.3L567.4,272.8L568.2,269.8L565.9,267.8L569.0,267.6ZM573.2,266.8L573.4,269.9L576.3,271.1L573.4,272.3L573.1,275.4L571.1,273.0L568.1,273.8L569.7,271.1L568.1,268.5L571.1,269.2ZM576.7,267.1L576.7,270.2L579.5,271.6L576.6,272.5L576.1,275.6L574.3,273.1L571.2,273.6L573.0,271.1L571.6,268.4L574.5,269.3ZM576.4,268.5L577.6,271.3L580.7,271.5L578.4,273.5L579.2,276.6L576.5,275.0L573.9,276.6L574.5,273.6L572.2,271.6L575.2,271.3ZM581.1,269.7L580.8,272.8L583.5,274.4L580.5,275.2L579.8,278.2L578.1,275.6L575.0,275.8L577.0,273.4L575.8,270.6L578.7,271.8ZM584.0,270.4L584.0,273.5L586.8,274.9L583.9,275.9L583.5,279.0L581.6,276.5L578.5,277.0L580.3,274.5L578.9,271.7L581.8,272.6ZM583.9,272.0L585.5,274.7L588.5,274.5L586.5,276.8L587.5,279.7L584.7,278.4L582.3,280.4L582.6,277.3L580.1,275.6L583.1,274.9ZM584.4,273.5L586.8,275.4L589.7,274.1L588.6,277.1L590.7,279.3L587.6,279.2L586.1,281.9L585.2,278.9L582.2,278.4L584.8,276.6ZM587.4,274.1L589.7,276.1L592.6,274.9L591.4,277.8L593.4,280.2L590.3,279.9L588.7,282.5L588.0,279.5L584.9,278.7L587.6,277.2ZM592.8,274.8L593.6,277.8L596.7,278.4L594.1,280.1L594.5,283.2L592.1,281.3L589.3,282.6L590.3,279.7L588.2,277.4L591.3,277.5ZM596.2,276.1L596.2,279.2L599.0,280.6L596.0,281.5L595.5,284.6L593.7,282.1L590.6,282.6L592.5,280.1L591.1,277.3L594.0,278.3ZM596.3,276.7L598.1,279.3L601.2,278.9L599.3,281.3L600.6,284.1L597.7,283.1L595.5,285.2L595.5,282.1L592.8,280.7L595.8,279.8ZM601.9,278.9L601.4,282.0L603.9,283.9L600.8,284.3L599.8,287.2L598.4,284.4L595.3,284.4L597.5,282.2L596.6,279.3L599.4,280.7ZM599.4,279.2L601.5,281.5L604.5,280.7L602.9,283.4L604.6,286.0L601.6,285.3L599.6,287.7L599.3,284.6L596.4,283.5L599.2,282.3ZM602.1,281.2L604.3,283.4L607.3,282.5L605.9,285.2L607.7,287.7L604.7,287.3L602.8,289.8L602.3,286.7L599.4,285.8L602.1,284.3ZM608.2,283.5L607.6,286.5L610.1,288.4L607.0,288.8L606.0,291.7L604.6,289.0L601.5,288.9L603.8,286.7L602.9,283.8L605.6,285.2ZM609.3,285.5L609.3,288.6L612.1,290.0L609.2,291.0L608.7,294.0L606.9,291.5L603.8,292.0L605.6,289.5L604.2,286.8L607.1,287.7ZM609.1,286.4L610.6,289.1L613.7,289.1L611.6,291.3L612.6,294.2L609.8,292.9L607.3,294.8L607.7,291.7L605.2,289.9L608.2,289.4ZM613.1,286.6L613.6,289.7L616.5,290.7L613.8,292.1L613.7,295.2L611.6,293.0L608.6,293.9L610.0,291.1L608.2,288.6L611.3,289.1ZM616.7,288.3L616.7,291.4L619.5,292.9L616.5,293.8L616.0,296.9L614.2,294.3L611.1,294.8L613.0,292.3L611.6,289.5L614.5,290.5ZM614.7,289.9L617.2,291.9L620.0,290.6L618.9,293.5L620.9,295.8L617.8,295.7L616.3,298.3L615.5,295.3L612.5,294.7L615.1,293.0ZM619.5,291.2L620.7,294.1L623.8,294.3L621.4,296.3L622.2,299.3L619.5,297.7L616.9,299.3L617.6,296.3L615.2,294.3L618.3,294.1ZM622.5,291.5L623.2,294.5L626.2,295.3L623.5,296.8L623.7,299.9L621.4,297.9L618.5,299.0L619.7,296.2L617.7,293.8L620.8,294.1ZM622.1,294.0L624.6,295.9L627.3,294.5L626.3,297.5L628.5,299.7L625.4,299.6L623.9,302.4L623.0,299.4L620.0,298.8L622.5,297.1ZM629.2,294.7L629.3,297.8L632.0,299.2L629.1,300.1L628.6,303.2L626.8,300.7L623.7,301.2L625.5,298.7L624.1,295.9L627.0,296.9ZM627.4,295.3L629.6,297.5L632.6,296.5L631.2,299.3L633.0,301.8L629.9,301.3L628.1,303.8L627.6,300.7L624.7,299.8L627.4,298.4ZM629.9,296.6L632.3,298.6L635.1,297.4L633.9,300.3L635.9,302.6L632.8,302.4L631.2,305.0L630.5,302.0L627.5,301.3L630.1,299.7ZM636.5,298.8L636.3,301.9L639.1,303.4L636.1,304.3L635.5,307.3L633.7,304.8L630.7,305.2L632.6,302.7L631.3,299.9L634.2,301.0ZM639.0,299.7L638.8,302.8L641.5,304.4L638.5,305.2L637.8,308.2L636.2,305.6L633.1,305.9L635.0,303.5L633.8,300.6L636.7,301.8ZM638.8,300.6L640.2,303.3L643.3,303.3L641.2,305.5L642.2,308.5L639.4,307.1L636.9,308.9L637.3,305.9L634.8,304.1L637.9,303.6ZM639.3,301.4L641.3,303.8L644.3,303.1L642.6,305.8L644.2,308.4L641.2,307.7L639.2,310.0L639.0,306.9L636.1,305.7L639.0,304.5ZM646.0,303.3L645.5,306.4L647.9,308.2L644.9,308.7L643.9,311.6L642.5,308.8L639.4,308.8L641.6,306.6L640.7,303.6L643.5,305.1ZM648.1,305.3L647.9,308.4L650.5,310.0L647.5,310.7L646.8,313.8L645.2,311.1L642.1,311.4L644.1,309.0L642.9,306.1L645.8,307.3ZM650.3,307.0L649.8,310.1L652.3,311.9L649.3,312.4L648.3,315.4L646.9,312.6L643.8,312.6L646.0,310.4L645.0,307.4L647.8,308.8ZM651.9,306.9L652.1,310.0L654.9,311.3L651.9,312.4L651.6,315.4L649.6,313.0L646.6,313.6L648.3,311.0L646.8,308.3L649.8,309.2ZM653.2,308.7L654.7,311.5L657.8,311.4L655.6,313.6L656.7,316.5L653.9,315.2L651.4,317.1L651.8,314.0L649.3,312.3L652.3,311.7ZM654.3,309.1L656.3,311.5L659.3,310.7L657.7,313.4L659.4,316.0L656.3,315.3L654.3,317.7L654.1,314.6L651.2,313.4L654.1,312.2ZM655.8,311.4L658.2,313.4L661.0,312.1L659.9,315.0L662.0,317.3L658.9,317.2L657.3,319.8L656.5,316.8L653.5,316.2L656.1,314.5ZM663.5,311.6L663.0,314.7L665.5,316.6L662.4,317.0L661.4,319.9L660.0,317.2L656.9,317.1L659.1,314.9L658.2,312.0L661.0,313.4ZM664.3,313.4L664.4,316.5L667.1,317.9L664.2,318.9L663.7,321.9L661.9,319.4L658.8,319.9L660.6,317.4L659.2,314.7L662.2,315.6ZM667.2,313.6L667.7,316.7L670.7,317.7L667.9,319.1L667.9,322.2L665.7,320.0L662.8,320.9L664.2,318.2L662.4,315.6L665.4,316.1ZM665.2,315.1L667.5,317.1L670.4,315.9L669.2,318.8L671.2,321.1L668.1,320.9L666.5,323.5L665.8,320.5L662.8,319.8L665.4,318.1Z" fill="#e0162e"/>
<rect x="505.5" y="201.4" width="169.6" height="140.1" fill="none" stroke="#4d4d4d" stroke-width="1.3"/>
<line x1="501.9" y1="201.4" x2="505.5" y2="201.4" stroke="#4d4d4d" stroke-width="1.1"/>
<text x="499.0" y="205.6" font-size="11.5" text-anchor="end" font-weight="normal" fill="#141414" stroke="#141414" stroke-width="0.35" >100</text>
<line x1="501.9" y1="229.4" x2="505.5" y2="229.4" stroke="#4d4d4d" stroke-width="1.1"/>
<text x="499.0" y="233.6" font-size="11.5" text-anchor="end" font-weight="normal" fill="#141414" stroke="#141414" stroke-width="0.35" >95</text>
<line x1="501.9" y1="257.4" x2="505.5" y2="257.4" stroke="#4d4d4d" stroke-width="1.1"/>
<text x="499.0" y="261.6" font-size="11.5" text-anchor="end" font-weight="normal" fill="#141414" stroke="#141414" stroke-width="0.35" >90</text>
<line x1="501.9" y1="285.5" x2="505.5" y2="285.5" stroke="#4d4d4d" stroke-width="1.1"/>
<text x="499.0" y="289.7" font-size="11.5" text-anchor="end" font-weight="normal" fill="#141414" stroke="#141414" stroke-width="0.35" >85</text>
<line x1="501.9" y1="313.5" x2="505.5" y2="313.5" stroke="#4d4d4d" stroke-width="1.1"/>
<text x="499.0" y="317.7" font-size="11.5" text-anchor="end" font-weight="normal" fill="#141414" stroke="#141414" stroke-width="0.35" >80</text>
<line x1="501.9" y1="341.5" x2="505.5" y2="341.5" stroke="#4d4d4d" stroke-width="1.1"/>
<text x="499.0" y="345.7" font-size="11.5" text-anchor="end" font-weight="normal" fill="#141414" stroke="#141414" stroke-width="0.35" >75</text>
<line x1="511.5" y1="341.5" x2="511.5" y2="345.1" stroke="#4d4d4d" stroke-width="1.1"/>
<text x="511.5" y="357.5" font-size="11.5" text-anchor="middle" font-weight="normal" fill="#141414" stroke="#141414" stroke-width="0.35" >0</text>
<line x1="576.5" y1="341.5" x2="576.5" y2="345.1" stroke="#4d4d4d" stroke-width="1.1"/>
<text x="576.5" y="357.5" font-size="11.5" text-anchor="middle" font-weight="normal" fill="#141414" stroke="#141414" stroke-width="0.35" >1000</text>
<line x1="641.5" y1="341.5" x2="641.5" y2="345.1" stroke="#4d4d4d" stroke-width="1.1"/>
<text x="641.5" y="357.5" font-size="11.5" text-anchor="middle" font-weight="normal" fill="#141414" stroke="#141414" stroke-width="0.35" >2000</text>
<text x="590.3" y="372.0" font-size="12" text-anchor="middle" font-weight="normal" fill="#141414" stroke="#141414" stroke-width="0.35" >Cycle</text>
<text x="0" y="0" font-size="12" text-anchor="middle" fill="#141414" stroke="#141414" stroke-width="0.35" transform="translate(473.2,271.4) rotate(-90)">SOH (%)</text>
<text x="461.0" y="372.2" font-size="15.5" text-anchor="start" font-weight="bold" fill="#000" stroke="#000" stroke-width="0.25" >(f)</text>
<rect x="548.6" y="206.5" width="121" height="30.8" rx="2" fill="#fff" fill-opacity="0.85" stroke="#d4d4d4" stroke-width="1"/>
<line x1="552.1" y1="214.1" x2="573.1" y2="214.1" stroke="#6fa9dc" stroke-width="1.6"/>
<circle cx="562.1" cy="214.1" r="4" fill="#92c0e8" stroke="#5b9fd8" stroke-width="1"/>
<line x1="552.1" y1="228.7" x2="573.6" y2="228.7" stroke="#d93344" stroke-width="1.8"/>
<path d="M562.8,224.1L563.8,227.3L567.2,227.3L564.5,229.2L565.5,232.4L562.8,230.5L560.1,232.4L561.1,229.2L558.4,227.3L561.8,227.3Z" fill="#dc1f34"/>
<text x="581.4" y="217.5" font-size="10" text-anchor="start" font-weight="normal" fill="#141414" stroke="#141414" stroke-width="0.35" >PINN(GCN+LSTM)</text>
<text x="581.4" y="232.1" font-size="10" text-anchor="start" font-weight="normal" fill="#141414" stroke="#141414" stroke-width="0.35" >Real</text>
<path d="M117.1,416.9L129.4,443.0L141.7,467.0L154.0,468.0L166.3,472.5L178.7,472.8L191.0,475.1L203.3,475.2L215.6,478.8L227.9,479.1L240.2,480.5L252.5,482.4L264.8,484.5L277.1,483.7L289.4,488.1L301.8,486.1L314.1,488.5L326.4,479.5L338.7,483.3L351.0,488.4L363.3,487.4L375.6,490.1L387.9,490.3L400.2,496.8L412.5,500.9L424.9,499.5L437.2,495.1L449.5,504.5L461.8,496.1L474.1,503.1L486.4,503.2L498.7,510.3L511.0,509.6L523.3,507.1L535.6,513.8L548.0,508.9L560.3,513.6L572.6,501.7L584.9,512.4L597.2,514.8L609.5,513.4L621.8,517.0L634.1,516.5" fill="none" stroke="#ff7f0e" stroke-width="2.2" stroke-linejoin="round"/>
<path d="M117.1,416.9L129.4,441.9L141.7,465.1L154.0,466.3L166.3,470.1L178.7,470.5L191.0,473.0L203.3,473.2L215.6,476.8L227.9,476.8L240.2,478.2L252.5,480.0L264.8,482.1L277.1,481.5L289.4,486.0L301.8,483.9L314.1,486.1L326.4,477.3L338.7,481.1L351.0,486.2L363.3,484.8L375.6,487.5L387.9,487.8L400.2,495.1L412.5,498.0L424.9,496.7L437.2,492.3L449.5,502.1L461.8,493.9L474.1,500.4L486.4,500.8L498.7,507.7L511.0,506.8L523.3,504.5L535.6,511.4L548.0,506.4L560.3,511.1L572.6,499.8L584.9,509.9L597.2,512.5L609.5,511.0L621.8,514.8L634.1,514.3" fill="none" stroke="#ff7f0e" stroke-width="1.4" stroke-linejoin="round"/>
<path d="M117.1,416.2L129.4,431.1L141.7,446.7L154.0,450.1L166.3,447.9L178.7,449.2L191.0,453.3L203.3,453.7L215.6,458.0L227.9,455.5L240.2,456.3L252.5,457.2L264.8,459.8L277.1,461.2L289.4,467.0L301.8,463.4L314.1,463.9L326.4,456.3L338.7,459.5L351.0,464.6L363.3,461.2L375.6,462.6L387.9,464.3L400.2,479.2L412.5,471.4L424.9,470.3L437.2,466.1L449.5,479.6L461.8,473.4L474.1,475.7L486.4,478.1L498.7,482.9L511.0,481.1L523.3,479.8L535.6,488.4L548.0,483.4L560.3,487.6L572.6,481.4L584.9,486.8L597.2,490.5L609.5,488.9L621.8,494.1L634.1,492.7" fill="none" stroke="#ff7f0e" stroke-width="1.6" stroke-linejoin="round"/>
<path d="M129.4,436.9L130.7,440.1L134.2,440.3L131.5,442.6L132.3,445.9L129.4,444.1L126.5,445.9L127.3,442.6L124.7,440.3L128.1,440.1ZM141.7,460.1L143.0,463.3L146.5,463.5L143.9,465.8L144.7,469.1L141.7,467.3L138.8,469.1L139.6,465.8L137.0,463.5L140.4,463.3ZM154.0,461.3L155.4,464.5L158.8,464.8L156.2,467.0L157.0,470.3L154.0,468.6L151.1,470.3L151.9,467.0L149.3,464.8L152.7,464.5ZM166.3,465.1L167.7,468.3L171.1,468.6L168.5,470.8L169.3,474.2L166.3,472.4L163.4,474.2L164.2,470.8L161.6,468.6L165.0,468.3ZM178.7,465.5L180.0,468.7L183.4,469.0L180.8,471.2L181.6,474.5L178.7,472.8L175.7,474.5L176.5,471.2L173.9,469.0L177.3,468.7ZM191.0,468.0L192.3,471.2L195.7,471.5L193.1,473.7L193.9,477.1L191.0,475.3L188.0,477.1L188.8,473.7L186.2,471.5L189.6,471.2ZM203.3,468.2L204.6,471.3L208.0,471.6L205.4,473.9L206.2,477.2L203.3,475.4L200.3,477.2L201.1,473.9L198.5,471.6L201.9,471.3ZM215.6,471.8L216.9,475.0L220.3,475.2L217.7,477.5L218.5,480.8L215.6,479.0L212.6,480.8L213.4,477.5L210.8,475.2L214.3,475.0ZM227.9,471.8L229.2,475.0L232.6,475.3L230.0,477.5L230.8,480.8L227.9,479.1L225.0,480.8L225.8,477.5L223.1,475.3L226.6,475.0ZM240.2,473.2L241.5,476.4L245.0,476.6L242.3,478.9L243.1,482.2L240.2,480.4L237.3,482.2L238.1,478.9L235.4,476.6L238.9,476.4ZM252.5,475.0L253.8,478.2L257.3,478.5L254.6,480.7L255.4,484.0L252.5,482.3L249.6,484.0L250.4,480.7L247.8,478.5L251.2,478.2ZM264.8,477.1L266.1,480.3L269.6,480.6L267.0,482.8L267.8,486.2L264.8,484.4L261.9,486.2L262.7,482.8L260.1,480.6L263.5,480.3ZM277.1,476.5L278.5,479.7L281.9,480.0L279.3,482.2L280.1,485.5L277.1,483.7L274.2,485.5L275.0,482.2L272.4,480.0L275.8,479.7ZM289.4,481.0L290.8,484.2L294.2,484.5L291.6,486.7L292.4,490.1L289.4,488.3L286.5,490.1L287.3,486.7L284.7,484.5L288.1,484.2ZM301.8,478.9L303.1,482.1L306.5,482.4L303.9,484.6L304.7,488.0L301.8,486.2L298.8,488.0L299.6,484.6L297.0,482.4L300.4,482.1ZM314.1,481.1L315.4,484.3L318.8,484.6L316.2,486.8L317.0,490.2L314.1,488.4L311.1,490.2L311.9,486.8L309.3,484.6L312.7,484.3ZM326.4,472.3L327.7,475.4L331.1,475.7L328.5,478.0L329.3,481.3L326.4,479.5L323.4,481.3L324.2,478.0L321.6,475.7L325.0,475.4ZM338.7,476.1L340.0,479.2L343.4,479.5L340.8,481.8L341.6,485.1L338.7,483.3L335.7,485.1L336.5,481.8L333.9,479.5L337.4,479.2ZM351.0,481.2L352.3,484.3L355.7,484.6L353.1,486.9L353.9,490.2L351.0,488.4L348.1,490.2L348.9,486.9L346.2,484.6L349.7,484.3ZM363.3,479.8L364.6,483.0L368.1,483.3L365.4,485.5L366.2,488.9L363.3,487.1L360.4,488.9L361.2,485.5L358.5,483.3L362.0,483.0ZM375.6,482.5L376.9,485.7L380.4,486.0L377.7,488.2L378.5,491.5L375.6,489.7L372.7,491.5L373.5,488.2L370.9,486.0L374.3,485.7ZM387.9,482.8L389.2,486.0L392.7,486.2L390.1,488.5L390.9,491.8L387.9,490.0L385.0,491.8L385.8,488.5L383.2,486.2L386.6,486.0ZM400.2,490.1L401.6,493.3L405.0,493.5L402.4,495.8L403.2,499.1L400.2,497.3L397.3,499.1L398.1,495.8L395.5,493.5L398.9,493.3ZM412.5,493.0L413.9,496.2L417.3,496.5L414.7,498.7L415.5,502.1L412.5,500.3L409.6,502.1L410.4,498.7L407.8,496.5L411.2,496.2ZM424.9,491.7L426.2,494.9L429.6,495.2L427.0,497.4L427.8,500.7L424.9,498.9L421.9,500.7L422.7,497.4L420.1,495.2L423.5,494.9ZM437.2,487.3L438.5,490.5L441.9,490.8L439.3,493.0L440.1,496.4L437.2,494.6L434.2,496.4L435.0,493.0L432.4,490.8L435.8,490.5ZM449.5,497.1L450.8,500.3L454.2,500.5L451.6,502.8L452.4,506.1L449.5,504.3L446.5,506.1L447.3,502.8L444.7,500.5L448.1,500.3ZM461.8,488.9L463.1,492.1L466.5,492.4L463.9,494.6L464.7,498.0L461.8,496.2L458.8,498.0L459.6,494.6L457.0,492.4L460.5,492.1ZM474.1,495.4L475.4,498.6L478.8,498.9L476.2,501.1L477.0,504.5L474.1,502.7L471.2,504.5L472.0,501.1L469.3,498.9L472.8,498.6ZM486.4,495.8L487.7,499.0L491.2,499.3L488.5,501.5L489.3,504.9L486.4,503.1L483.5,504.9L484.3,501.5L481.6,499.3L485.1,499.0ZM498.7,502.7L500.0,505.9L503.5,506.2L500.8,508.4L501.6,511.8L498.7,510.0L495.8,511.8L496.6,508.4L494.0,506.2L497.4,505.9ZM511.0,501.8L512.3,505.0L515.8,505.3L513.2,507.5L514.0,510.9L511.0,509.1L508.1,510.9L508.9,507.5L506.3,505.3L509.7,505.0ZM523.3,499.5L524.7,502.7L528.1,503.0L525.5,505.2L526.3,508.6L523.3,506.8L520.4,508.6L521.2,505.2L518.6,503.0L522.0,502.7ZM535.6,506.4L537.0,509.6L540.4,509.8L537.8,512.1L538.6,515.4L535.6,513.6L532.7,515.4L533.5,512.1L530.9,509.8L534.3,509.6ZM548.0,501.4L549.3,504.6L552.7,504.9L550.1,507.1L550.9,510.5L548.0,508.7L545.0,510.5L545.8,507.1L543.2,504.9L546.6,504.6ZM560.3,506.1L561.6,509.3L565.0,509.5L562.4,511.8L563.2,515.1L560.3,513.3L557.3,515.1L558.1,511.8L555.5,509.5L558.9,509.3ZM572.6,494.8L573.9,498.0L577.3,498.2L574.7,500.5L575.5,503.8L572.6,502.0L569.6,503.8L570.4,500.5L567.8,498.2L571.2,498.0ZM584.9,504.9L586.2,508.1L589.6,508.4L587.0,510.6L587.8,514.0L584.9,512.2L581.9,514.0L582.7,510.6L580.1,508.4L583.6,508.1ZM597.2,507.5L598.5,510.7L601.9,510.9L599.3,513.2L600.1,516.5L597.2,514.7L594.3,516.5L595.1,513.2L592.4,510.9L595.9,510.7ZM609.5,506.0L610.8,509.2L614.3,509.5L611.6,511.7L612.4,515.1L609.5,513.3L606.6,515.1L607.4,511.7L604.7,509.5L608.2,509.2ZM621.8,509.8L623.1,513.0L626.6,513.3L623.9,515.5L624.7,518.9L621.8,517.1L618.9,518.9L619.7,515.5L617.1,513.3L620.5,513.0ZM634.1,509.3L635.4,512.4L638.9,512.7L636.3,515.0L637.1,518.3L634.1,516.5L631.2,518.3L632.0,515.0L629.4,512.7L632.8,512.4Z" fill="#fff" stroke="#e6e6e6" stroke-width="0.6"/>
<path d="M129.4,426.1L130.7,429.3L134.2,429.6L131.5,431.8L132.3,435.2L129.4,433.4L126.5,435.2L127.3,431.8L124.7,429.6L128.1,429.3ZM141.7,441.7L143.0,444.8L146.5,445.1L143.9,447.4L144.7,450.7L141.7,448.9L138.8,450.7L139.6,447.4L137.0,445.1L140.4,444.8ZM154.0,445.1L155.4,448.2L158.8,448.5L156.2,450.8L157.0,454.1L154.0,452.3L151.1,454.1L151.9,450.8L149.3,448.5L152.7,448.2ZM166.3,442.9L167.7,446.1L171.1,446.3L168.5,448.6L169.3,451.9L166.3,450.1L163.4,451.9L164.2,448.6L161.6,446.3L165.0,446.1ZM178.7,444.2L180.0,447.4L183.4,447.6L180.8,449.9L181.6,453.2L178.7,451.4L175.7,453.2L176.5,449.9L173.9,447.6L177.3,447.4ZM191.0,448.3L192.3,451.5L195.7,451.7L193.1,454.0L193.9,457.3L191.0,455.5L188.0,457.3L188.8,454.0L186.2,451.7L189.6,451.5ZM203.3,448.7L204.6,451.9L208.0,452.1L205.4,454.4L206.2,457.7L203.3,455.9L200.3,457.7L201.1,454.4L198.5,452.1L201.9,451.9ZM215.6,453.0L216.9,456.2L220.3,456.4L217.7,458.7L218.5,462.0L215.6,460.2L212.6,462.0L213.4,458.7L210.8,456.4L214.3,456.2ZM227.9,450.5L229.2,453.7L232.6,453.9L230.0,456.2L230.8,459.5L227.9,457.7L225.0,459.5L225.8,456.2L223.1,453.9L226.6,453.7ZM240.2,451.3L241.5,454.5L245.0,454.7L242.3,457.0L243.1,460.3L240.2,458.5L237.3,460.3L238.1,457.0L235.4,454.7L238.9,454.5ZM252.5,452.2L253.8,455.3L257.3,455.6L254.6,457.9L255.4,461.2L252.5,459.4L249.6,461.2L250.4,457.9L247.8,455.6L251.2,455.3ZM264.8,454.8L266.1,458.0L269.6,458.3L267.0,460.5L267.8,463.8L264.8,462.0L261.9,463.8L262.7,460.5L260.1,458.3L263.5,458.0ZM277.1,456.2L278.5,459.3L281.9,459.6L279.3,461.9L280.1,465.2L277.1,463.4L274.2,465.2L275.0,461.9L272.4,459.6L275.8,459.3ZM289.4,462.0L290.8,465.1L294.2,465.4L291.6,467.7L292.4,471.0L289.4,469.2L286.5,471.0L287.3,467.7L284.7,465.4L288.1,465.1ZM301.8,458.4L303.1,461.5L306.5,461.8L303.9,464.0L304.7,467.4L301.8,465.6L298.8,467.4L299.6,464.0L297.0,461.8L300.4,461.5ZM314.1,458.9L315.4,462.1L318.8,462.3L316.2,464.6L317.0,467.9L314.1,466.1L311.1,467.9L311.9,464.6L309.3,462.3L312.7,462.1ZM326.4,451.3L327.7,454.5L331.1,454.7L328.5,457.0L329.3,460.3L326.4,458.5L323.4,460.3L324.2,457.0L321.6,454.7L325.0,454.5ZM338.7,454.5L340.0,457.7L343.4,458.0L340.8,460.2L341.6,463.6L338.7,461.8L335.7,463.6L336.5,460.2L333.9,458.0L337.4,457.7ZM351.0,459.6L352.3,462.8L355.7,463.1L353.1,465.3L353.9,468.7L351.0,466.9L348.1,468.7L348.9,465.3L346.2,463.1L349.7,462.8ZM363.3,456.2L364.6,459.4L368.1,459.7L365.4,461.9L366.2,465.3L363.3,463.5L360.4,465.3L361.2,461.9L358.5,459.7L362.0,459.4ZM375.6,457.6L376.9,460.8L380.4,461.1L377.7,463.3L378.5,466.7L375.6,464.9L372.7,466.7L373.5,463.3L370.9,461.1L374.3,460.8ZM387.9,459.3L389.2,462.5L392.7,462.7L390.1,465.0L390.9,468.3L387.9,466.5L385.0,468.3L385.8,465.0L383.2,462.7L386.6,462.5ZM400.2,474.2L401.6,477.4L405.0,477.7L402.4,479.9L403.2,483.3L400.2,481.5L397.3,483.3L398.1,479.9L395.5,477.7L398.9,477.4ZM412.5,466.4L413.9,469.6L417.3,469.8L414.7,472.1L415.5,475.4L412.5,473.6L409.6,475.4L410.4,472.1L407.8,469.8L411.2,469.6ZM424.9,465.3L426.2,468.5L429.6,468.8L427.0,471.0L427.8,474.3L424.9,472.5L421.9,474.3L422.7,471.0L420.1,468.8L423.5,468.5ZM437.2,461.1L438.5,464.3L441.9,464.6L439.3,466.8L440.1,470.2L437.2,468.4L434.2,470.2L435.0,466.8L432.4,464.6L435.8,464.3ZM449.5,474.6L450.8,477.8L454.2,478.1L451.6,480.3L452.4,483.7L449.5,481.9L446.5,483.7L447.3,480.3L444.7,478.1L448.1,477.8ZM461.8,468.4L463.1,471.5L466.5,471.8L463.9,474.0L464.7,477.4L461.8,475.6L458.8,477.4L459.6,474.0L457.0,471.8L460.5,471.5ZM474.1,470.7L475.4,473.9L478.8,474.1L476.2,476.4L477.0,479.7L474.1,477.9L471.2,479.7L472.0,476.4L469.3,474.1L472.8,473.9ZM486.4,473.1L487.7,476.3L491.2,476.6L488.5,478.8L489.3,482.2L486.4,480.4L483.5,482.2L484.3,478.8L481.6,476.6L485.1,476.3ZM498.7,477.9L500.0,481.1L503.5,481.4L500.8,483.6L501.6,486.9L498.7,485.1L495.8,486.9L496.6,483.6L494.0,481.4L497.4,481.1ZM511.0,476.1L512.3,479.3L515.8,479.5L513.2,481.8L514.0,485.1L511.0,483.3L508.1,485.1L508.9,481.8L506.3,479.5L509.7,479.3ZM523.3,474.8L524.7,478.0L528.1,478.2L525.5,480.5L526.3,483.8L523.3,482.0L520.4,483.8L521.2,480.5L518.6,478.2L522.0,478.0ZM535.6,483.4L537.0,486.6L540.4,486.9L537.8,489.1L538.6,492.5L535.6,490.7L532.7,492.5L533.5,489.1L530.9,486.9L534.3,486.6ZM548.0,478.4L549.3,481.5L552.7,481.8L550.1,484.0L550.9,487.4L548.0,485.6L545.0,487.4L545.8,484.0L543.2,481.8L546.6,481.5ZM560.3,482.6L561.6,485.8L565.0,486.0L562.4,488.3L563.2,491.6L560.3,489.8L557.3,491.6L558.1,488.3L555.5,486.0L558.9,485.8ZM572.6,476.4L573.9,479.5L577.3,479.8L574.7,482.1L575.5,485.4L572.6,483.6L569.6,485.4L570.4,482.1L567.8,479.8L571.2,479.5ZM584.9,481.8L586.2,485.0L589.6,485.2L587.0,487.5L587.8,490.8L584.9,489.0L581.9,490.8L582.7,487.5L580.1,485.2L583.6,485.0ZM597.2,485.5L598.5,488.7L601.9,488.9L599.3,491.2L600.1,494.5L597.2,492.7L594.3,494.5L595.1,491.2L592.4,488.9L595.9,488.7ZM609.5,483.9L610.8,487.0L614.3,487.3L611.6,489.6L612.4,492.9L609.5,491.1L606.6,492.9L607.4,489.6L604.7,487.3L608.2,487.0ZM621.8,489.1L623.1,492.3L626.6,492.5L623.9,494.8L624.7,498.1L621.8,496.3L618.9,498.1L619.7,494.8L617.1,492.5L620.5,492.3ZM634.1,487.7L635.4,490.9L638.9,491.2L636.3,493.4L637.1,496.8L634.1,495.0L631.2,496.8L632.0,493.4L629.4,491.2L632.8,490.9Z" fill="#fff" stroke="#e6e6e6" stroke-width="0.6"/>
<path d="M117.1,417.0L129.4,444.0L141.7,468.7L154.0,469.5L166.3,474.5L178.7,474.7L191.0,476.9L203.3,477.0L215.6,480.5L227.9,481.0L240.2,482.5L252.5,484.5L264.8,486.5L277.1,485.5L289.4,489.8L301.8,488.0L314.1,490.5L326.4,481.4L338.7,485.3L351.0,490.4L363.3,489.5L375.6,492.4L387.9,492.4L400.2,498.2L412.5,503.3L424.9,501.9L437.2,497.5L449.5,506.5L461.8,498.0L474.1,505.3L486.4,505.3L498.7,512.6L511.0,511.9L523.3,509.4L535.6,515.9L548.0,511.0L560.3,515.7L572.6,503.4L584.9,514.5L597.2,516.8L609.5,515.4L621.8,518.9L634.1,518.5" fill="none" stroke="#9467bd" stroke-width="2.6" stroke-linejoin="round"/>
<path d="M117.1,411.6L118.4,415.2L122.2,415.3L119.3,417.7L120.3,421.4L117.1,419.3L113.9,421.4L114.9,417.7L112.0,415.3L115.8,415.2ZM129.4,438.6L130.7,442.2L134.5,442.3L131.6,444.7L132.6,448.4L129.4,446.3L126.2,448.4L127.3,444.7L124.3,442.3L128.1,442.2ZM141.7,463.3L143.1,466.9L146.9,467.0L143.9,469.4L144.9,473.1L141.7,471.0L138.5,473.1L139.6,469.4L136.6,467.0L140.4,466.9ZM154.0,464.1L155.4,467.7L159.2,467.8L156.2,470.2L157.2,473.9L154.0,471.8L150.9,473.9L151.9,470.2L148.9,467.8L152.7,467.7ZM166.3,469.1L167.7,472.7L171.5,472.8L168.5,475.2L169.5,478.9L166.3,476.8L163.2,478.9L164.2,475.2L161.2,472.8L165.0,472.7ZM178.7,469.3L180.0,472.9L183.8,473.0L180.8,475.4L181.8,479.1L178.7,477.0L175.5,479.1L176.5,475.4L173.5,473.0L177.3,472.9ZM191.0,471.5L192.3,475.1L196.1,475.2L193.1,477.6L194.1,481.3L191.0,479.2L187.8,481.3L188.8,477.6L185.8,475.2L189.6,475.1ZM203.3,471.6L204.6,475.2L208.4,475.3L205.4,477.7L206.4,481.4L203.3,479.3L200.1,481.4L201.1,477.7L198.1,475.3L201.9,475.2ZM215.6,475.1L216.9,478.7L220.7,478.8L217.7,481.2L218.8,484.9L215.6,482.8L212.4,484.9L213.4,481.2L210.4,478.8L214.2,478.7ZM227.9,475.6L229.2,479.2L233.0,479.3L230.0,481.7L231.1,485.4L227.9,483.3L224.7,485.4L225.7,481.7L222.8,479.3L226.6,479.2ZM240.2,477.1L241.5,480.7L245.3,480.8L242.4,483.2L243.4,486.9L240.2,484.8L237.0,486.9L238.0,483.2L235.1,480.8L238.9,480.7ZM252.5,479.1L253.8,482.7L257.6,482.8L254.7,485.2L255.7,488.9L252.5,486.8L249.3,488.9L250.4,485.2L247.4,482.8L251.2,482.7ZM264.8,481.1L266.2,484.7L270.0,484.8L267.0,487.2L268.0,490.9L264.8,488.8L261.6,490.9L262.7,487.2L259.7,484.8L263.5,484.7ZM277.1,480.1L278.5,483.7L282.3,483.8L279.3,486.2L280.3,489.9L277.1,487.8L274.0,489.9L275.0,486.2L272.0,483.8L275.8,483.7ZM289.4,484.4L290.8,488.0L294.6,488.1L291.6,490.5L292.6,494.2L289.4,492.1L286.3,494.2L287.3,490.5L284.3,488.1L288.1,488.0ZM301.8,482.6L303.1,486.2L306.9,486.3L303.9,488.7L304.9,492.4L301.8,490.3L298.6,492.4L299.6,488.7L296.6,486.3L300.4,486.2ZM314.1,485.1L315.4,488.7L319.2,488.8L316.2,491.2L317.2,494.9L314.1,492.8L310.9,494.9L311.9,491.2L308.9,488.8L312.7,488.7ZM326.4,476.0L327.7,479.6L331.5,479.7L328.5,482.1L329.5,485.8L326.4,483.7L323.2,485.8L324.2,482.1L321.2,479.7L325.0,479.6ZM338.7,479.9L340.0,483.5L343.8,483.6L340.8,486.0L341.9,489.7L338.7,487.6L335.5,489.7L336.5,486.0L333.5,483.6L337.3,483.5ZM351.0,485.0L352.3,488.6L356.1,488.7L353.1,491.1L354.2,494.8L351.0,492.7L347.8,494.8L348.8,491.1L345.9,488.7L349.7,488.6ZM363.3,484.1L364.6,487.7L368.4,487.8L365.5,490.2L366.5,493.9L363.3,491.8L360.1,493.9L361.1,490.2L358.2,487.8L362.0,487.7ZM375.6,487.0L376.9,490.6L380.7,490.7L377.8,493.1L378.8,496.8L375.6,494.7L372.4,496.8L373.5,493.1L370.5,490.7L374.3,490.6ZM387.9,487.0L389.3,490.6L393.1,490.7L390.1,493.1L391.1,496.8L387.9,494.7L384.7,496.8L385.8,493.1L382.8,490.7L386.6,490.6ZM400.2,492.8L401.6,496.4L405.4,496.5L402.4,498.9L403.4,502.6L400.2,500.5L397.1,502.6L398.1,498.9L395.1,496.5L398.9,496.4ZM412.5,497.9L413.9,501.5L417.7,501.6L414.7,504.0L415.7,507.7L412.5,505.6L409.4,507.7L410.4,504.0L407.4,501.6L411.2,501.5ZM424.9,496.5L426.2,500.1L430.0,500.2L427.0,502.6L428.0,506.3L424.9,504.2L421.7,506.3L422.7,502.6L419.7,500.2L423.5,500.1ZM437.2,492.1L438.5,495.7L442.3,495.8L439.3,498.2L440.3,501.9L437.2,499.8L434.0,501.9L435.0,498.2L432.0,495.8L435.8,495.7ZM449.5,501.1L450.8,504.7L454.6,504.8L451.6,507.2L452.6,510.9L449.5,508.8L446.3,510.9L447.3,507.2L444.3,504.8L448.1,504.7ZM461.8,492.6L463.1,496.2L466.9,496.3L463.9,498.7L465.0,502.4L461.8,500.3L458.6,502.4L459.6,498.7L456.6,496.3L460.4,496.2ZM474.1,499.9L475.4,503.5L479.2,503.6L476.2,506.0L477.3,509.7L474.1,507.6L470.9,509.7L471.9,506.0L469.0,503.6L472.8,503.5ZM486.4,499.9L487.7,503.5L491.5,503.6L488.6,506.0L489.6,509.7L486.4,507.6L483.2,509.7L484.2,506.0L481.3,503.6L485.1,503.5ZM498.7,507.2L500.0,510.8L503.8,510.9L500.9,513.3L501.9,517.0L498.7,514.9L495.5,517.0L496.6,513.3L493.6,510.9L497.4,510.8ZM511.0,506.5L512.4,510.1L516.2,510.2L513.2,512.6L514.2,516.3L511.0,514.2L507.8,516.3L508.9,512.6L505.9,510.2L509.7,510.1ZM523.3,504.0L524.7,507.6L528.5,507.7L525.5,510.1L526.5,513.8L523.3,511.7L520.2,513.8L521.2,510.1L518.2,507.7L522.0,507.6ZM535.6,510.5L537.0,514.1L540.8,514.2L537.8,516.6L538.8,520.3L535.6,518.2L532.5,520.3L533.5,516.6L530.5,514.2L534.3,514.1ZM548.0,505.6L549.3,509.2L553.1,509.3L550.1,511.7L551.1,515.4L548.0,513.3L544.8,515.4L545.8,511.7L542.8,509.3L546.6,509.2ZM560.3,510.3L561.6,513.9L565.4,514.0L562.4,516.4L563.4,520.1L560.3,518.0L557.1,520.1L558.1,516.4L555.1,514.0L558.9,513.9ZM572.6,498.0L573.9,501.6L577.7,501.7L574.7,504.1L575.7,507.8L572.6,505.7L569.4,507.8L570.4,504.1L567.4,501.7L571.2,501.6ZM584.9,509.1L586.2,512.7L590.0,512.8L587.0,515.2L588.1,518.9L584.9,516.8L581.7,518.9L582.7,515.2L579.7,512.8L583.5,512.7ZM597.2,511.4L598.5,515.0L602.3,515.1L599.3,517.5L600.4,521.2L597.2,519.1L594.0,521.2L595.0,517.5L592.1,515.1L595.9,515.0ZM609.5,510.0L610.8,513.6L614.6,513.7L611.7,516.1L612.7,519.8L609.5,517.7L606.3,519.8L607.3,516.1L604.4,513.7L608.2,513.6ZM621.8,513.5L623.1,517.1L626.9,517.2L624.0,519.6L625.0,523.3L621.8,521.2L618.6,523.3L619.7,519.6L616.7,517.2L620.5,517.1ZM634.1,513.1L635.5,516.7L639.3,516.8L636.3,519.2L637.3,522.9L634.1,520.8L630.9,522.9L632.0,519.2L629.0,516.8L632.8,516.7Z" fill="#9467bd"/>
<path d="M117.1,416.8L129.4,440.1L141.7,462.0L154.0,463.6L166.3,466.4L178.7,466.9L191.0,469.7L203.3,469.9L215.6,473.7L227.9,473.2L240.2,474.5L252.5,476.2L264.8,478.4L277.1,478.1L289.4,482.9L301.8,480.5L314.1,482.4L326.4,473.8L338.7,477.5L351.0,482.6L363.3,480.9L375.6,483.4L387.9,483.9L400.2,492.4L412.5,493.6L424.9,492.3L437.2,488.0L449.5,498.3L461.8,490.5L474.1,496.3L486.4,497.0L498.7,503.6L511.0,502.5L523.3,500.4L535.6,507.5L548.0,502.6L560.3,507.2L572.6,496.7L584.9,506.1L597.2,508.8L609.5,507.3L621.8,511.4L634.1,510.7" fill="none" stroke="#e377c2" stroke-width="2.8" stroke-linejoin="round"/>
<path d="M117.1,411.2L118.5,414.9L122.4,415.0L119.3,417.5L120.4,421.3L117.1,419.1L113.8,421.3L114.9,417.5L111.8,415.0L115.7,414.9ZM129.4,434.5L130.8,438.2L134.7,438.4L131.6,440.8L132.7,444.6L129.4,442.4L126.1,444.6L127.2,440.8L124.1,438.4L128.0,438.2ZM141.7,456.4L143.1,460.1L147.0,460.3L144.0,462.7L145.0,466.5L141.7,464.4L138.4,466.5L139.5,462.7L136.4,460.3L140.3,460.1ZM154.0,458.0L155.4,461.7L159.4,461.9L156.3,464.3L157.3,468.1L154.0,465.9L150.7,468.1L151.8,464.3L148.7,461.9L152.6,461.7ZM166.3,460.8L167.7,464.5L171.7,464.7L168.6,467.1L169.6,470.9L166.3,468.8L163.0,470.9L164.1,467.1L161.0,464.7L165.0,464.5ZM178.7,461.3L180.0,465.0L184.0,465.2L180.9,467.7L181.9,471.5L178.7,469.3L175.4,471.5L176.4,467.7L173.3,465.2L177.3,465.0ZM191.0,464.1L192.3,467.8L196.3,468.0L193.2,470.5L194.3,474.3L191.0,472.1L187.7,474.3L188.7,470.5L185.6,468.0L189.6,467.8ZM203.3,464.3L204.7,468.0L208.6,468.2L205.5,470.6L206.6,474.5L203.3,472.3L200.0,474.5L201.0,470.6L197.9,468.2L201.9,468.0ZM215.6,468.1L217.0,471.8L220.9,471.9L217.8,474.4L218.9,478.2L215.6,476.0L212.3,478.2L213.3,474.4L210.3,471.9L214.2,471.8ZM227.9,467.6L229.3,471.3L233.2,471.5L230.1,474.0L231.2,477.8L227.9,475.6L224.6,477.8L225.7,474.0L222.6,471.5L226.5,471.3ZM240.2,468.9L241.6,472.6L245.5,472.8L242.4,475.3L243.5,479.1L240.2,476.9L236.9,479.1L238.0,475.3L234.9,472.8L238.8,472.6ZM252.5,470.6L253.9,474.3L257.8,474.5L254.7,476.9L255.8,480.7L252.5,478.5L249.2,480.7L250.3,476.9L247.2,474.5L251.1,474.3ZM264.8,472.8L266.2,476.5L270.1,476.7L267.1,479.1L268.1,482.9L264.8,480.7L261.5,482.9L262.6,479.1L259.5,476.7L263.4,476.5ZM277.1,472.5L278.5,476.2L282.5,476.4L279.4,478.8L280.4,482.6L277.1,480.5L273.8,482.6L274.9,478.8L271.8,476.4L275.7,476.2ZM289.4,477.3L290.8,481.0L294.8,481.1L291.7,483.6L292.7,487.4L289.4,485.2L286.1,487.4L287.2,483.6L284.1,481.1L288.1,481.0ZM301.8,474.9L303.1,478.6L307.1,478.8L304.0,481.2L305.0,485.0L301.8,482.9L298.5,485.0L299.5,481.2L296.4,478.8L300.4,478.6ZM314.1,476.8L315.4,480.5L319.4,480.7L316.3,483.1L317.4,486.9L314.1,484.8L310.8,486.9L311.8,483.1L308.7,480.7L312.7,480.5ZM326.4,468.2L327.8,471.9L331.7,472.0L328.6,474.5L329.7,478.3L326.4,476.1L323.1,478.3L324.1,474.5L321.0,472.0L325.0,471.9ZM338.7,471.9L340.1,475.6L344.0,475.7L340.9,478.2L342.0,482.0L338.7,479.8L335.4,482.0L336.4,478.2L333.4,475.7L337.3,475.6ZM351.0,477.0L352.4,480.7L356.3,480.8L353.2,483.3L354.3,487.1L351.0,484.9L347.7,487.1L348.8,483.3L345.7,480.8L349.6,480.7ZM363.3,475.3L364.7,479.0L368.6,479.2L365.5,481.6L366.6,485.4L363.3,483.3L360.0,485.4L361.1,481.6L358.0,479.2L361.9,479.0ZM375.6,477.8L377.0,481.4L380.9,481.6L377.8,484.1L378.9,487.9L375.6,485.7L372.3,487.9L373.4,484.1L370.3,481.6L374.2,481.4ZM387.9,478.3L389.3,482.0L393.2,482.1L390.2,484.6L391.2,488.4L387.9,486.2L384.6,488.4L385.7,484.6L382.6,482.1L386.5,482.0ZM400.2,486.8L401.6,490.5L405.6,490.7L402.5,493.2L403.5,497.0L400.2,494.8L396.9,497.0L398.0,493.2L394.9,490.7L398.8,490.5ZM412.5,488.0L413.9,491.7L417.9,491.9L414.8,494.3L415.8,498.1L412.5,496.0L409.2,498.1L410.3,494.3L407.2,491.9L411.2,491.7ZM424.9,486.7L426.2,490.4L430.2,490.6L427.1,493.0L428.1,496.8L424.9,494.7L421.6,496.8L422.6,493.0L419.5,490.6L423.5,490.4ZM437.2,482.4L438.5,486.1L442.5,486.2L439.4,488.7L440.5,492.5L437.2,490.3L433.9,492.5L434.9,488.7L431.8,486.2L435.8,486.1ZM449.5,492.7L450.9,496.4L454.8,496.6L451.7,499.1L452.8,502.9L449.5,500.7L446.2,502.9L447.2,499.1L444.1,496.6L448.1,496.4ZM461.8,484.9L463.2,488.6L467.1,488.8L464.0,491.2L465.1,495.0L461.8,492.9L458.5,495.0L459.5,491.2L456.5,488.8L460.4,488.6ZM474.1,490.7L475.5,494.4L479.4,494.6L476.3,497.0L477.4,500.8L474.1,498.7L470.8,500.8L471.9,497.0L468.8,494.6L472.7,494.4ZM486.4,491.4L487.8,495.1L491.7,495.3L488.6,497.8L489.7,501.6L486.4,499.4L483.1,501.6L484.2,497.8L481.1,495.3L485.0,495.1ZM498.7,498.0L500.1,501.7L504.0,501.8L500.9,504.3L502.0,508.1L498.7,505.9L495.4,508.1L496.5,504.3L493.4,501.8L497.3,501.7ZM511.0,496.9L512.4,500.6L516.3,500.8L513.3,503.3L514.3,507.1L511.0,504.9L507.7,507.1L508.8,503.3L505.7,500.8L509.6,500.6ZM523.3,494.8L524.7,498.5L528.7,498.7L525.6,501.1L526.6,504.9L523.3,502.8L520.0,504.9L521.1,501.1L518.0,498.7L521.9,498.5ZM535.6,501.9L537.0,505.6L541.0,505.8L537.9,508.3L538.9,512.1L535.6,509.9L532.3,512.1L533.4,508.3L530.3,505.8L534.3,505.6ZM548.0,497.0L549.3,500.7L553.3,500.9L550.2,503.3L551.2,507.1L548.0,505.0L544.7,507.1L545.7,503.3L542.6,500.9L546.6,500.7ZM560.3,501.6L561.6,505.3L565.6,505.4L562.5,507.9L563.6,511.7L560.3,509.5L557.0,511.7L558.0,507.9L554.9,505.4L558.9,505.3ZM572.6,491.1L574.0,494.8L577.9,495.0L574.8,497.4L575.9,501.2L572.6,499.1L569.3,501.2L570.3,497.4L567.2,495.0L571.2,494.8ZM584.9,500.5L586.3,504.2L590.2,504.3L587.1,506.8L588.2,510.6L584.9,508.4L581.6,510.6L582.6,506.8L579.6,504.3L583.5,504.2ZM597.2,503.2L598.6,506.9L602.5,507.1L599.4,509.5L600.5,513.3L597.2,511.2L593.9,513.3L595.0,509.5L591.9,507.1L595.8,506.9ZM609.5,501.7L610.9,505.4L614.8,505.6L611.7,508.1L612.8,511.9L609.5,509.7L606.2,511.9L607.3,508.1L604.2,505.6L608.1,505.4ZM621.8,505.8L623.2,509.5L627.1,509.6L624.0,512.1L625.1,515.9L621.8,513.7L618.5,515.9L619.6,512.1L616.5,509.6L620.4,509.5ZM634.1,505.1L635.5,508.8L639.4,508.9L636.4,511.4L637.4,515.2L634.1,513.0L630.8,515.2L631.9,511.4L628.8,508.9L632.7,508.8Z" fill="#e377c2"/>
<path d="M117.1,416.6L129.4,437.3L141.7,457.3L154.0,459.4L166.3,460.7L178.7,461.5L191.0,464.6L203.3,464.9L215.6,468.8L227.9,467.8L240.2,468.9L252.5,470.3L264.8,472.6L277.1,472.9L289.4,478.0L301.8,475.2L314.1,476.7L326.4,468.4L338.7,471.9L351.0,477.0L363.3,474.8L375.6,476.9L387.9,477.8L400.2,488.4L412.5,486.7L424.9,485.5L437.2,481.2L449.5,492.6L461.8,485.2L474.1,489.9L486.4,491.2L498.7,497.2L511.0,495.9L523.3,494.0L535.6,501.6L548.0,496.6L560.3,501.1L572.6,492.0L584.9,500.1L597.2,503.1L609.5,501.6L621.8,506.0L634.1,505.1" fill="none" stroke="#bcbd22" stroke-width="2.8" stroke-linejoin="round"/>
<path d="M117.1,411.0L118.5,414.7L122.4,414.9L119.3,417.3L120.4,421.1L117.1,418.9L113.8,421.1L114.9,417.3L111.8,414.9L115.7,414.7ZM129.4,431.7L130.8,435.4L134.7,435.6L131.6,438.0L132.7,441.8L129.4,439.7L126.1,441.8L127.2,438.0L124.1,435.6L128.0,435.4ZM141.7,451.7L143.1,455.4L147.0,455.5L144.0,458.0L145.0,461.8L141.7,459.6L138.4,461.8L139.5,458.0L136.4,455.5L140.3,455.4ZM154.0,453.8L155.4,457.5L159.4,457.7L156.3,460.1L157.3,463.9L154.0,461.8L150.7,463.9L151.8,460.1L148.7,457.7L152.6,457.5ZM166.3,455.1L167.7,458.8L171.7,459.0L168.6,461.4L169.6,465.2L166.3,463.0L163.0,465.2L164.1,461.4L161.0,459.0L165.0,458.8ZM178.7,455.9L180.0,459.6L184.0,459.7L180.9,462.2L181.9,466.0L178.7,463.8L175.4,466.0L176.4,462.2L173.3,459.7L177.3,459.6ZM191.0,459.0L192.3,462.7L196.3,462.9L193.2,465.4L194.3,469.2L191.0,467.0L187.7,469.2L188.7,465.4L185.6,462.9L189.6,462.7ZM203.3,459.3L204.7,463.0L208.6,463.2L205.5,465.6L206.6,469.4L203.3,467.3L200.0,469.4L201.0,465.6L197.9,463.2L201.9,463.0ZM215.6,463.2L217.0,466.9L220.9,467.1L217.8,469.5L218.9,473.3L215.6,471.2L212.3,473.3L213.3,469.5L210.3,467.1L214.2,466.9ZM227.9,462.2L229.3,465.9L233.2,466.0L230.1,468.5L231.2,472.3L227.9,470.1L224.6,472.3L225.7,468.5L222.6,466.0L226.5,465.9ZM240.2,463.3L241.6,467.0L245.5,467.2L242.4,469.6L243.5,473.4L240.2,471.2L236.9,473.4L238.0,469.6L234.9,467.2L238.8,467.0ZM252.5,464.7L253.9,468.4L257.8,468.6L254.7,471.0L255.8,474.8L252.5,472.7L249.2,474.8L250.3,471.0L247.2,468.6L251.1,468.4ZM264.8,467.0L266.2,470.7L270.1,470.9L267.1,473.4L268.1,477.2L264.8,475.0L261.5,477.2L262.6,473.4L259.5,470.9L263.4,470.7ZM277.1,467.3L278.5,471.0L282.5,471.1L279.4,473.6L280.4,477.4L277.1,475.2L273.8,477.4L274.9,473.6L271.8,471.1L275.7,471.0ZM289.4,472.4L290.8,476.0L294.8,476.2L291.7,478.7L292.7,482.5L289.4,480.3L286.1,482.5L287.2,478.7L284.1,476.2L288.1,476.0ZM301.8,469.6L303.1,473.3L307.1,473.5L304.0,475.9L305.0,479.7L301.8,477.6L298.5,479.7L299.5,475.9L296.4,473.5L300.4,473.3ZM314.1,471.1L315.4,474.8L319.4,475.0L316.3,477.4L317.4,481.2L314.1,479.0L310.8,481.2L311.8,477.4L308.7,475.0L312.7,474.8ZM326.4,462.8L327.8,466.5L331.7,466.6L328.6,469.1L329.7,472.9L326.4,470.7L323.1,472.9L324.1,469.1L321.0,466.6L325.0,466.5ZM338.7,466.3L340.1,470.0L344.0,470.2L340.9,472.7L342.0,476.5L338.7,474.3L335.4,476.5L336.4,472.7L333.4,470.2L337.3,470.0ZM351.0,471.4L352.4,475.1L356.3,475.3L353.2,477.8L354.3,481.6L351.0,479.4L347.7,481.6L348.8,477.8L345.7,475.3L349.6,475.1ZM363.3,469.2L364.7,472.9L368.6,473.1L365.5,475.5L366.6,479.4L363.3,477.2L360.0,479.4L361.1,475.5L358.0,473.1L361.9,472.9ZM375.6,471.3L377.0,475.0L380.9,475.2L377.8,477.7L378.9,481.5L375.6,479.3L372.3,481.5L373.4,477.7L370.3,475.2L374.2,475.0ZM387.9,472.2L389.3,475.9L393.2,476.1L390.2,478.5L391.2,482.3L387.9,480.2L384.6,482.3L385.7,478.5L382.6,476.1L386.5,475.9ZM400.2,482.8L401.6,486.5L405.6,486.6L402.5,489.1L403.5,492.9L400.2,490.7L396.9,492.9L398.0,489.1L394.9,486.6L398.8,486.5ZM412.5,481.1L413.9,484.8L417.9,485.0L414.8,487.5L415.8,491.3L412.5,489.1L409.2,491.3L410.3,487.5L407.2,485.0L411.2,484.8ZM424.9,479.9L426.2,483.6L430.2,483.8L427.1,486.2L428.1,490.0L424.9,487.9L421.6,490.0L422.6,486.2L419.5,483.8L423.5,483.6ZM437.2,475.6L438.5,479.3L442.5,479.5L439.4,481.9L440.5,485.8L437.2,483.6L433.9,485.8L434.9,481.9L431.8,479.5L435.8,479.3ZM449.5,487.0L450.9,490.7L454.8,490.8L451.7,493.3L452.8,497.1L449.5,494.9L446.2,497.1L447.2,493.3L444.1,490.8L448.1,490.7ZM461.8,479.6L463.2,483.3L467.1,483.5L464.0,485.9L465.1,489.7L461.8,487.6L458.5,489.7L459.5,485.9L456.5,483.5L460.4,483.3ZM474.1,484.3L475.5,488.0L479.4,488.2L476.3,490.7L477.4,494.5L474.1,492.3L470.8,494.5L471.9,490.7L468.8,488.2L472.7,488.0ZM486.4,485.6L487.8,489.3L491.7,489.5L488.6,491.9L489.7,495.7L486.4,493.5L483.1,495.7L484.2,491.9L481.1,489.5L485.0,489.3ZM498.7,491.6L500.1,495.3L504.0,495.5L500.9,497.9L502.0,501.7L498.7,499.5L495.4,501.7L496.5,497.9L493.4,495.5L497.3,495.3ZM511.0,490.3L512.4,494.0L516.3,494.2L513.3,496.6L514.3,500.4L511.0,498.3L507.7,500.4L508.8,496.6L505.7,494.2L509.6,494.0ZM523.3,488.4L524.7,492.1L528.7,492.3L525.6,494.8L526.6,498.6L523.3,496.4L520.0,498.6L521.1,494.8L518.0,492.3L521.9,492.1ZM535.6,496.0L537.0,499.7L541.0,499.9L537.9,502.4L538.9,506.2L535.6,504.0L532.3,506.2L533.4,502.4L530.3,499.9L534.3,499.7ZM548.0,491.0L549.3,494.7L553.3,494.9L550.2,497.4L551.2,501.2L548.0,499.0L544.7,501.2L545.7,497.4L542.6,494.9L546.6,494.7ZM560.3,495.5L561.6,499.2L565.6,499.4L562.5,501.8L563.6,505.6L560.3,503.5L557.0,505.6L558.0,501.8L554.9,499.4L558.9,499.2ZM572.6,486.4L574.0,490.1L577.9,490.2L574.8,492.7L575.9,496.5L572.6,494.3L569.3,496.5L570.3,492.7L567.2,490.2L571.2,490.1ZM584.9,494.5L586.3,498.2L590.2,498.4L587.1,500.8L588.2,504.6L584.9,502.5L581.6,504.6L582.6,500.8L579.6,498.4L583.5,498.2ZM597.2,497.5L598.6,501.2L602.5,501.4L599.4,503.9L600.5,507.7L597.2,505.5L593.9,507.7L595.0,503.9L591.9,501.4L595.8,501.2ZM609.5,496.0L610.9,499.7L614.8,499.9L611.7,502.4L612.8,506.2L609.5,504.0L606.2,506.2L607.3,502.4L604.2,499.9L608.1,499.7ZM621.8,500.4L623.2,504.1L627.1,504.3L624.0,506.8L625.1,510.6L621.8,508.4L618.5,510.6L619.6,506.8L616.5,504.3L620.4,504.1ZM634.1,499.5L635.5,503.2L639.4,503.4L636.4,505.9L637.4,509.7L634.1,507.5L630.8,509.7L631.9,505.9L628.8,503.4L632.7,503.2Z" fill="#bcbd22"/>
<path d="M117.1,416.5L129.4,435.4L141.7,453.9L154.0,456.5L166.3,456.6L178.7,457.6L191.0,461.1L203.3,461.4L215.6,465.4L227.9,463.9L240.2,464.9L252.5,466.2L264.8,468.6L277.1,469.2L289.4,474.5L301.8,471.5L314.1,472.6L326.4,464.5L338.7,468.0L351.0,473.1L363.3,470.5L375.6,472.4L387.9,473.5L400.2,485.5L412.5,481.9L424.9,480.7L437.2,476.5L449.5,488.5L461.8,481.5L474.1,485.4L486.4,487.1L498.7,492.7L511.0,491.2L523.3,489.5L535.6,497.5L548.0,492.4L560.3,496.8L572.6,488.6L584.9,495.9L597.2,499.2L609.5,497.6L621.8,502.3L634.1,501.2" fill="none" stroke="#17becf" stroke-width="2.8" stroke-linejoin="round"/>
<path d="M117.1,410.9L118.5,414.6L122.4,414.7L119.3,417.2L120.4,421.0L117.1,418.8L113.8,421.0L114.9,417.2L111.8,414.7L115.7,414.6ZM129.4,429.8L130.8,433.5L134.7,433.6L131.6,436.1L132.7,439.9L129.4,437.7L126.1,439.9L127.2,436.1L124.1,433.6L128.0,433.5ZM141.7,448.3L143.1,452.0L147.0,452.2L144.0,454.6L145.0,458.4L141.7,456.3L138.4,458.4L139.5,454.6L136.4,452.2L140.3,452.0ZM154.0,450.9L155.4,454.6L159.4,454.7L156.3,457.2L157.3,461.0L154.0,458.8L150.7,461.0L151.8,457.2L148.7,454.7L152.6,454.6ZM166.3,451.0L167.7,454.7L171.7,454.9L168.6,457.4L169.6,461.2L166.3,459.0L163.0,461.2L164.1,457.4L161.0,454.9L165.0,454.7ZM178.7,452.0L180.0,455.7L184.0,455.9L180.9,458.3L181.9,462.1L178.7,459.9L175.4,462.1L176.4,458.3L173.3,455.9L177.3,455.7ZM191.0,455.5L192.3,459.2L196.3,459.3L193.2,461.8L194.3,465.6L191.0,463.4L187.7,465.6L188.7,461.8L185.6,459.3L189.6,459.2ZM203.3,455.8L204.7,459.5L208.6,459.6L205.5,462.1L206.6,465.9L203.3,463.7L200.0,465.9L201.0,462.1L197.9,459.6L201.9,459.5ZM215.6,459.8L217.0,463.5L220.9,463.7L217.8,466.1L218.9,469.9L215.6,467.7L212.3,469.9L213.3,466.1L210.3,463.7L214.2,463.5ZM227.9,458.3L229.3,462.0L233.2,462.2L230.1,464.6L231.2,468.4L227.9,466.2L224.6,468.4L225.7,464.6L222.6,462.2L226.5,462.0ZM240.2,459.3L241.6,463.0L245.5,463.2L242.4,465.6L243.5,469.4L240.2,467.3L236.9,469.4L238.0,465.6L234.9,463.2L238.8,463.0ZM252.5,460.6L253.9,464.3L257.8,464.4L254.7,466.9L255.8,470.7L252.5,468.5L249.2,470.7L250.3,466.9L247.2,464.4L251.1,464.3ZM264.8,463.0L266.2,466.7L270.1,466.9L267.1,469.3L268.1,473.1L264.8,470.9L261.5,473.1L262.6,469.3L259.5,466.9L263.4,466.7ZM277.1,463.6L278.5,467.3L282.5,467.4L279.4,469.9L280.4,473.7L277.1,471.5L273.8,473.7L274.9,469.9L271.8,467.4L275.7,467.3ZM289.4,468.9L290.8,472.6L294.8,472.8L291.7,475.2L292.7,479.0L289.4,476.8L286.1,479.0L287.2,475.2L284.1,472.8L288.1,472.6ZM301.8,465.9L303.1,469.6L307.1,469.7L304.0,472.2L305.0,476.0L301.8,473.8L298.5,476.0L299.5,472.2L296.4,469.7L300.4,469.6ZM314.1,467.0L315.4,470.7L319.4,470.9L316.3,473.4L317.4,477.2L314.1,475.0L310.8,477.2L311.8,473.4L308.7,470.9L312.7,470.7ZM326.4,458.9L327.8,462.6L331.7,462.8L328.6,465.3L329.7,469.1L326.4,466.9L323.1,469.1L324.1,465.3L321.0,462.8L325.0,462.6ZM338.7,462.4L340.1,466.1L344.0,466.3L340.9,468.7L342.0,472.6L338.7,470.4L335.4,472.6L336.4,468.7L333.4,466.3L337.3,466.1ZM351.0,467.5L352.4,471.2L356.3,471.4L353.2,473.8L354.3,477.7L351.0,475.5L347.7,477.7L348.8,473.8L345.7,471.4L349.6,471.2ZM363.3,464.9L364.7,468.6L368.6,468.8L365.5,471.3L366.6,475.1L363.3,472.9L360.0,475.1L361.1,471.3L358.0,468.8L361.9,468.6ZM375.6,466.8L377.0,470.5L380.9,470.7L377.8,473.1L378.9,476.9L375.6,474.8L372.3,476.9L373.4,473.1L370.3,470.7L374.2,470.5ZM387.9,467.9L389.3,471.6L393.2,471.8L390.2,474.3L391.2,478.1L387.9,475.9L384.6,478.1L385.7,474.3L382.6,471.8L386.5,471.6ZM400.2,479.9L401.6,483.6L405.6,483.7L402.5,486.2L403.5,490.0L400.2,487.8L396.9,490.0L398.0,486.2L394.9,483.7L398.8,483.6ZM412.5,476.3L413.9,480.0L417.9,480.2L414.8,482.6L415.8,486.4L412.5,484.2L409.2,486.4L410.3,482.6L407.2,480.2L411.2,480.0ZM424.9,475.1L426.2,478.8L430.2,479.0L427.1,481.4L428.1,485.2L424.9,483.1L421.6,485.2L422.6,481.4L419.5,479.0L423.5,478.8ZM437.2,470.9L438.5,474.6L442.5,474.7L439.4,477.2L440.5,481.0L437.2,478.8L433.9,481.0L434.9,477.2L431.8,474.7L435.8,474.6ZM449.5,482.9L450.9,486.6L454.8,486.7L451.7,489.2L452.8,493.0L449.5,490.8L446.2,493.0L447.2,489.2L444.1,486.7L448.1,486.6ZM461.8,475.9L463.2,479.6L467.1,479.7L464.0,482.2L465.1,486.0L461.8,483.8L458.5,486.0L459.5,482.2L456.5,479.7L460.4,479.6ZM474.1,479.8L475.5,483.5L479.4,483.7L476.3,486.2L477.4,490.0L474.1,487.8L470.8,490.0L471.9,486.2L468.8,483.7L472.7,483.5ZM486.4,481.5L487.8,485.2L491.7,485.3L488.6,487.8L489.7,491.6L486.4,489.4L483.1,491.6L484.2,487.8L481.1,485.3L485.0,485.2ZM498.7,487.1L500.1,490.8L504.0,490.9L500.9,493.4L502.0,497.2L498.7,495.0L495.4,497.2L496.5,493.4L493.4,490.9L497.3,490.8ZM511.0,485.6L512.4,489.3L516.3,489.5L513.3,492.0L514.3,495.8L511.0,493.6L507.7,495.8L508.8,492.0L505.7,489.5L509.6,489.3ZM523.3,483.9L524.7,487.6L528.7,487.8L525.6,490.3L526.6,494.1L523.3,491.9L520.0,494.1L521.1,490.3L518.0,487.8L521.9,487.6ZM535.6,491.9L537.0,495.6L541.0,495.7L537.9,498.2L538.9,502.0L535.6,499.8L532.3,502.0L533.4,498.2L530.3,495.7L534.3,495.6ZM548.0,486.8L549.3,490.5L553.3,490.7L550.2,493.2L551.2,497.0L548.0,494.8L544.7,497.0L545.7,493.2L542.6,490.7L546.6,490.5ZM560.3,491.2L561.6,494.9L565.6,495.1L562.5,497.6L563.6,501.4L560.3,499.2L557.0,501.4L558.0,497.6L554.9,495.1L558.9,494.9ZM572.6,483.0L574.0,486.7L577.9,486.9L574.8,489.3L575.9,493.1L572.6,491.0L569.3,493.1L570.3,489.3L567.2,486.9L571.2,486.7ZM584.9,490.3L586.3,494.0L590.2,494.2L587.1,496.6L588.2,500.4L584.9,498.2L581.6,500.4L582.6,496.6L579.6,494.2L583.5,494.0ZM597.2,493.6L598.6,497.2L602.5,497.4L599.4,499.9L600.5,503.7L597.2,501.5L593.9,503.7L595.0,499.9L591.9,497.4L595.8,497.2ZM609.5,492.0L610.9,495.7L614.8,495.9L611.7,498.3L612.8,502.1L609.5,499.9L606.2,502.1L607.3,498.3L604.2,495.9L608.1,495.7ZM621.8,496.7L623.2,500.4L627.1,500.5L624.0,503.0L625.1,506.8L621.8,504.6L618.5,506.8L619.6,503.0L616.5,500.5L620.4,500.4ZM634.1,495.6L635.5,499.3L639.4,499.5L636.4,501.9L637.4,505.8L634.1,503.6L630.8,505.8L631.9,501.9L628.8,499.5L632.7,499.3Z" fill="#17becf"/>
<path d="M117.1,416.3L129.4,432.8L141.7,449.4L154.0,452.5L166.3,451.2L178.7,452.4L191.0,456.3L203.3,456.6L215.6,460.8L227.9,458.7L240.2,459.6L252.5,460.6L264.8,463.2L277.1,464.2L289.4,469.9L301.8,466.5L314.1,467.2L326.4,459.5L338.7,462.8L351.0,467.9L363.3,464.8L375.6,466.4L387.9,467.8L400.2,481.6L412.5,475.4L424.9,474.3L437.2,470.1L449.5,483.0L461.8,476.5L474.1,479.4L486.4,481.6L498.7,486.7L511.0,485.0L523.3,483.5L535.6,491.9L548.0,486.9L560.3,491.1L572.6,484.1L584.9,490.3L597.2,493.8L609.5,492.2L621.8,497.2L634.1,496.0" fill="none" stroke="#2ca02c" stroke-width="3.0" stroke-linejoin="round"/>
<path d="M117.1,410.3L118.6,414.3L122.8,414.5L119.5,417.1L120.6,421.2L117.1,418.8L113.6,421.2L114.7,417.1L111.4,414.5L115.6,414.3ZM129.4,426.8L130.9,430.7L135.1,430.9L131.8,433.5L132.9,437.6L129.4,435.3L125.9,437.6L127.0,433.5L123.7,430.9L127.9,430.7ZM141.7,443.4L143.2,447.4L147.4,447.6L144.1,450.2L145.2,454.3L141.7,452.0L138.2,454.3L139.3,450.2L136.0,447.6L140.2,447.4ZM154.0,446.5L155.5,450.5L159.7,450.7L156.4,453.3L157.6,457.4L154.0,455.0L150.5,457.4L151.6,453.3L148.3,450.7L152.5,450.5ZM166.3,445.2L167.8,449.2L172.0,449.4L168.7,452.0L169.9,456.1L166.3,453.8L162.8,456.1L163.9,452.0L160.6,449.4L164.9,449.2ZM178.7,446.4L180.1,450.4L184.4,450.6L181.0,453.2L182.2,457.3L178.7,454.9L175.1,457.3L176.3,453.2L172.9,450.6L177.2,450.4ZM191.0,450.3L192.4,454.2L196.7,454.4L193.4,457.0L194.5,461.1L191.0,458.8L187.4,461.1L188.6,457.0L185.3,454.4L189.5,454.2ZM203.3,450.6L204.8,454.6L209.0,454.8L205.7,457.4L206.8,461.5L203.3,459.2L199.7,461.5L200.9,457.4L197.6,454.8L201.8,454.6ZM215.6,454.8L217.1,458.8L221.3,459.0L218.0,461.6L219.1,465.7L215.6,463.4L212.1,465.7L213.2,461.6L209.9,459.0L214.1,458.8ZM227.9,452.7L229.4,456.7L233.6,456.9L230.3,459.5L231.4,463.6L227.9,461.2L224.4,463.6L225.5,459.5L222.2,456.9L226.4,456.7ZM240.2,453.6L241.7,457.6L245.9,457.7L242.6,460.4L243.7,464.4L240.2,462.1L236.7,464.4L237.8,460.4L234.5,457.7L238.7,457.6ZM252.5,454.6L254.0,458.6L258.2,458.8L254.9,461.4L256.0,465.5L252.5,463.1L249.0,465.5L250.1,461.4L246.8,458.8L251.0,458.6ZM264.8,457.2L266.3,461.1L270.5,461.3L267.2,464.0L268.3,468.0L264.8,465.7L261.3,468.0L262.4,464.0L259.1,461.3L263.3,461.1ZM277.1,458.2L278.6,462.2L282.8,462.4L279.5,465.0L280.7,469.1L277.1,466.8L273.6,469.1L274.7,465.0L271.4,462.4L275.6,462.2ZM289.4,463.9L290.9,467.8L295.1,468.0L291.8,470.6L293.0,474.7L289.4,472.4L285.9,474.7L287.0,470.6L283.7,468.0L288.0,467.8ZM301.8,460.5L303.2,464.4L307.5,464.6L304.1,467.3L305.3,471.3L301.8,469.0L298.2,471.3L299.4,467.3L296.0,464.6L300.3,464.4ZM314.1,461.2L315.5,465.2L319.8,465.4L316.5,468.0L317.6,472.1L314.1,469.8L310.5,472.1L311.7,468.0L308.4,465.4L312.6,465.2ZM326.4,453.5L327.9,457.4L332.1,457.6L328.8,460.2L329.9,464.3L326.4,462.0L322.8,464.3L324.0,460.2L320.7,457.6L324.9,457.4ZM338.7,456.8L340.2,460.8L344.4,461.0L341.1,463.6L342.2,467.7L338.7,465.3L335.2,467.7L336.3,463.6L333.0,461.0L337.2,460.8ZM351.0,461.9L352.5,465.9L356.7,466.1L353.4,468.7L354.5,472.8L351.0,470.4L347.5,472.8L348.6,468.7L345.3,466.1L349.5,465.9ZM363.3,458.8L364.8,462.8L369.0,462.9L365.7,465.6L366.8,469.7L363.3,467.3L359.8,469.7L360.9,465.6L357.6,462.9L361.8,462.8ZM375.6,460.4L377.1,464.3L381.3,464.5L378.0,467.2L379.1,471.2L375.6,468.9L372.1,471.2L373.2,467.2L369.9,464.5L374.1,464.3ZM387.9,461.8L389.4,465.8L393.6,466.0L390.3,468.6L391.4,472.7L387.9,470.4L384.4,472.7L385.5,468.6L382.2,466.0L386.4,465.8ZM400.2,475.6L401.7,479.6L405.9,479.8L402.6,482.4L403.8,486.5L400.2,484.2L396.7,486.5L397.8,482.4L394.5,479.8L398.7,479.6ZM412.5,469.4L414.0,473.4L418.2,473.6L414.9,476.2L416.1,480.3L412.5,477.9L409.0,480.3L410.1,476.2L406.8,473.6L411.1,473.4ZM424.9,468.3L426.3,472.3L430.6,472.4L427.2,475.1L428.4,479.2L424.9,476.8L421.3,479.2L422.5,475.1L419.1,472.4L423.4,472.3ZM437.2,464.1L438.6,468.1L442.9,468.3L439.6,470.9L440.7,475.0L437.2,472.6L433.6,475.0L434.8,470.9L431.5,468.3L435.7,468.1ZM449.5,477.0L451.0,481.0L455.2,481.2L451.9,483.8L453.0,487.9L449.5,485.6L445.9,487.9L447.1,483.8L443.8,481.2L448.0,481.0ZM461.8,470.5L463.3,474.4L467.5,474.6L464.2,477.3L465.3,481.3L461.8,479.0L458.3,481.3L459.4,477.3L456.1,474.6L460.3,474.4ZM474.1,473.4L475.6,477.4L479.8,477.6L476.5,480.2L477.6,484.3L474.1,481.9L470.6,484.3L471.7,480.2L468.4,477.6L472.6,477.4ZM486.4,475.6L487.9,479.5L492.1,479.7L488.8,482.3L489.9,486.4L486.4,484.1L482.9,486.4L484.0,482.3L480.7,479.7L484.9,479.5ZM498.7,480.7L500.2,484.6L504.4,484.8L501.1,487.4L502.2,491.5L498.7,489.2L495.2,491.5L496.3,487.4L493.0,484.8L497.2,484.6ZM511.0,479.0L512.5,483.0L516.7,483.1L513.4,485.8L514.5,489.8L511.0,487.5L507.5,489.8L508.6,485.8L505.3,483.1L509.5,483.0ZM523.3,477.5L524.8,481.5L529.0,481.7L525.7,484.3L526.9,488.4L523.3,486.0L519.8,488.4L520.9,484.3L517.6,481.7L521.8,481.5ZM535.6,485.9L537.1,489.8L541.3,490.0L538.0,492.7L539.2,496.7L535.6,494.4L532.1,496.7L533.2,492.7L529.9,490.0L534.2,489.8ZM548.0,480.9L549.4,484.8L553.7,485.0L550.3,487.6L551.5,491.7L548.0,489.4L544.4,491.7L545.6,487.6L542.2,485.0L546.5,484.8ZM560.3,485.1L561.7,489.1L566.0,489.3L562.7,491.9L563.8,496.0L560.3,493.7L556.7,496.0L557.9,491.9L554.6,489.3L558.8,489.1ZM572.6,478.1L574.1,482.1L578.3,482.3L575.0,484.9L576.1,489.0L572.6,486.7L569.0,489.0L570.2,484.9L566.9,482.3L571.1,482.1ZM584.9,484.3L586.4,488.2L590.6,488.4L587.3,491.1L588.4,495.1L584.9,492.8L581.4,495.1L582.5,491.1L579.2,488.4L583.4,488.2ZM597.2,487.8L598.7,491.8L602.9,492.0L599.6,494.6L600.7,498.7L597.2,496.3L593.7,498.7L594.8,494.6L591.5,492.0L595.7,491.8ZM609.5,486.2L611.0,490.2L615.2,490.4L611.9,493.0L613.0,497.1L609.5,494.7L606.0,497.1L607.1,493.0L603.8,490.4L608.0,490.2ZM621.8,491.2L623.3,495.2L627.5,495.4L624.2,498.0L625.3,502.1L621.8,499.8L618.3,502.1L619.4,498.0L616.1,495.4L620.3,495.2ZM634.1,490.0L635.6,494.0L639.8,494.2L636.5,496.8L637.6,500.9L634.1,498.5L630.6,500.9L631.7,496.8L628.4,494.2L632.6,494.0Z" fill="#2ca02c"/>
<path d="M117.1,416.0L129.4,427.7L141.7,440.8L154.0,444.9L166.3,440.8L178.7,442.4L191.0,447.0L203.3,447.5L215.6,452.0L227.9,448.7L240.2,449.3L252.5,449.9L264.8,452.7L277.1,454.7L289.4,460.9L301.8,456.8L314.1,456.8L326.4,449.6L338.7,452.7L351.0,457.8L363.3,453.7L375.6,454.7L387.9,456.8L400.2,474.2L412.5,462.9L424.9,461.9L437.2,457.8L449.5,472.5L461.8,466.8L474.1,467.8L486.4,470.9L498.7,475.0L511.0,472.9L523.3,471.9L535.6,481.1L548.0,476.0L560.3,480.1L572.6,475.5L584.9,479.4L597.2,483.5L609.5,481.8L621.8,487.5L634.1,485.9" fill="none" stroke="#2ca02c" stroke-width="3.0" stroke-linejoin="round"/>
<path d="M117.1,411.6L118.2,414.5L121.3,414.6L118.9,416.6L119.7,419.6L117.1,417.8L114.5,419.6L115.3,416.6L112.9,414.6L116.0,414.5ZM129.4,423.3L130.5,426.2L133.6,426.3L131.2,428.3L132.0,431.3L129.4,429.5L126.8,431.3L127.7,428.3L125.2,426.3L128.3,426.2ZM141.7,436.4L142.8,439.3L145.9,439.4L143.5,441.4L144.3,444.4L141.7,442.6L139.1,444.4L140.0,441.4L137.5,439.4L140.6,439.3ZM154.0,440.5L155.1,443.4L158.2,443.5L155.8,445.5L156.6,448.5L154.0,446.7L151.4,448.5L152.3,445.5L149.8,443.5L152.9,443.4ZM166.3,436.4L167.4,439.3L170.5,439.4L168.1,441.4L168.9,444.4L166.3,442.6L163.8,444.4L164.6,441.4L162.2,439.4L165.3,439.3ZM178.7,438.0L179.7,440.9L182.8,441.0L180.4,443.0L181.2,446.0L178.7,444.2L176.1,446.0L176.9,443.0L174.5,441.0L177.6,440.9ZM191.0,442.6L192.0,445.5L195.1,445.6L192.7,447.6L193.5,450.6L191.0,448.8L188.4,450.6L189.2,447.6L186.8,445.6L189.9,445.5ZM203.3,443.1L204.4,446.0L207.5,446.1L205.0,448.1L205.9,451.1L203.3,449.3L200.7,451.1L201.5,448.1L199.1,446.1L202.2,446.0ZM215.6,447.6L216.7,450.5L219.8,450.6L217.3,452.6L218.2,455.6L215.6,453.8L213.0,455.6L213.8,452.6L211.4,450.6L214.5,450.5ZM227.9,444.3L229.0,447.2L232.1,447.3L229.6,449.3L230.5,452.3L227.9,450.5L225.3,452.3L226.1,449.3L223.7,447.3L226.8,447.2ZM240.2,444.9L241.3,447.8L244.4,447.9L242.0,449.9L242.8,452.9L240.2,451.1L237.6,452.9L238.4,449.9L236.0,447.9L239.1,447.8ZM252.5,445.5L253.6,448.4L256.7,448.5L254.3,450.5L255.1,453.5L252.5,451.7L249.9,453.5L250.8,450.5L248.3,448.5L251.4,448.4ZM264.8,448.3L265.9,451.2L269.0,451.3L266.6,453.3L267.4,456.3L264.8,454.5L262.2,456.3L263.1,453.3L260.6,451.3L263.7,451.2ZM277.1,450.3L278.2,453.2L281.3,453.3L278.9,455.3L279.7,458.3L277.1,456.5L274.5,458.3L275.4,455.3L272.9,453.3L276.0,453.2ZM289.4,456.5L290.5,459.4L293.6,459.5L291.2,461.5L292.0,464.5L289.4,462.7L286.9,464.5L287.7,461.5L285.3,459.5L288.4,459.4ZM301.8,452.4L302.8,455.3L305.9,455.4L303.5,457.4L304.3,460.4L301.8,458.6L299.2,460.4L300.0,457.4L297.6,455.4L300.7,455.3ZM314.1,452.4L315.1,455.3L318.2,455.4L315.8,457.4L316.6,460.4L314.1,458.6L311.5,460.4L312.3,457.4L309.9,455.4L313.0,455.3ZM326.4,445.2L327.5,448.1L330.6,448.2L328.1,450.2L329.0,453.2L326.4,451.4L323.8,453.2L324.6,450.2L322.2,448.2L325.3,448.1ZM338.7,448.3L339.8,451.2L342.9,451.3L340.4,453.3L341.3,456.3L338.7,454.5L336.1,456.3L336.9,453.3L334.5,451.3L337.6,451.2ZM351.0,453.4L352.1,456.3L355.2,456.4L352.7,458.4L353.6,461.4L351.0,459.6L348.4,461.4L349.2,458.4L346.8,456.4L349.9,456.3ZM363.3,449.3L364.4,452.2L367.5,452.3L365.1,454.3L365.9,457.3L363.3,455.5L360.7,457.3L361.5,454.3L359.1,452.3L362.2,452.2ZM375.6,450.3L376.7,453.2L379.8,453.3L377.4,455.3L378.2,458.3L375.6,456.5L373.0,458.3L373.9,455.3L371.4,453.3L374.5,453.2ZM387.9,452.4L389.0,455.3L392.1,455.4L389.7,457.4L390.5,460.4L387.9,458.6L385.3,460.4L386.2,457.4L383.7,455.4L386.8,455.3ZM400.2,469.8L401.3,472.7L404.4,472.8L402.0,474.8L402.8,477.8L400.2,476.0L397.6,477.8L398.5,474.8L396.0,472.8L399.1,472.7ZM412.5,458.5L413.6,461.4L416.7,461.5L414.3,463.5L415.1,466.5L412.5,464.7L410.0,466.5L410.8,463.5L408.4,461.5L411.5,461.4ZM424.9,457.5L425.9,460.4L429.0,460.5L426.6,462.5L427.4,465.5L424.9,463.7L422.3,465.5L423.1,462.5L420.7,460.5L423.8,460.4ZM437.2,453.4L438.2,456.3L441.3,456.4L438.9,458.4L439.7,461.4L437.2,459.6L434.6,461.4L435.4,458.4L433.0,456.4L436.1,456.3ZM449.5,468.1L450.6,471.0L453.7,471.1L451.2,473.1L452.1,476.1L449.5,474.3L446.9,476.1L447.7,473.1L445.3,471.1L448.4,471.0ZM461.8,462.4L462.9,465.3L466.0,465.4L463.5,467.4L464.4,470.4L461.8,468.6L459.2,470.4L460.0,467.4L457.6,465.4L460.7,465.3ZM474.1,463.4L475.2,466.3L478.3,466.4L475.8,468.4L476.7,471.4L474.1,469.6L471.5,471.4L472.3,468.4L469.9,466.4L473.0,466.3ZM486.4,466.5L487.5,469.4L490.6,469.5L488.2,471.5L489.0,474.5L486.4,472.7L483.8,474.5L484.6,471.5L482.2,469.5L485.3,469.4ZM498.7,470.6L499.8,473.5L502.9,473.6L500.5,475.6L501.3,478.6L498.7,476.8L496.1,478.6L497.0,475.6L494.5,473.6L497.6,473.5ZM511.0,468.5L512.1,471.4L515.2,471.5L512.8,473.5L513.6,476.5L511.0,474.7L508.4,476.5L509.3,473.5L506.8,471.5L509.9,471.4ZM523.3,467.5L524.4,470.4L527.5,470.5L525.1,472.5L525.9,475.5L523.3,473.7L520.7,475.5L521.6,472.5L519.1,470.5L522.2,470.4ZM535.6,476.7L536.7,479.6L539.8,479.7L537.4,481.7L538.2,484.7L535.6,482.9L533.1,484.7L533.9,481.7L531.5,479.7L534.6,479.6ZM548.0,471.6L549.0,474.5L552.1,474.6L549.7,476.6L550.5,479.6L548.0,477.8L545.4,479.6L546.2,476.6L543.8,474.6L546.9,474.5ZM560.3,475.7L561.3,478.6L564.4,478.7L562.0,480.7L562.8,483.7L560.3,481.9L557.7,483.7L558.5,480.7L556.1,478.7L559.2,478.6ZM572.6,471.1L573.7,474.0L576.8,474.1L574.3,476.1L575.2,479.1L572.6,477.3L570.0,479.1L570.8,476.1L568.4,474.1L571.5,474.0ZM584.9,475.0L586.0,477.9L589.1,478.0L586.6,480.0L587.5,483.0L584.9,481.2L582.3,483.0L583.1,480.0L580.7,478.0L583.8,477.9ZM597.2,479.1L598.3,482.0L601.4,482.1L598.9,484.1L599.8,487.1L597.2,485.3L594.6,487.1L595.4,484.1L593.0,482.1L596.1,482.0ZM609.5,477.4L610.6,480.3L613.7,480.4L611.3,482.4L612.1,485.4L609.5,483.6L606.9,485.4L607.7,482.4L605.3,480.4L608.4,480.3ZM621.8,483.1L622.9,486.0L626.0,486.1L623.6,488.1L624.4,491.1L621.8,489.3L619.2,491.1L620.1,488.1L617.6,486.1L620.7,486.0ZM634.1,481.5L635.2,484.4L638.3,484.5L635.9,486.5L636.7,489.5L634.1,487.7L631.5,489.5L632.4,486.5L629.9,484.5L633.0,484.4Z" fill="#2ca02c"/>
<path d="M117.1,416.1L129.4,428.5L141.7,442.2L154.0,446.1L166.3,442.5L178.7,444.0L191.0,448.5L203.3,449.0L215.6,453.4L227.9,450.3L240.2,451.0L252.5,451.6L264.8,454.4L277.1,456.2L289.4,462.3L301.8,458.4L314.1,458.5L326.4,451.2L338.7,454.3L351.0,459.4L363.3,455.5L375.6,456.6L387.9,458.6L400.2,475.4L412.5,464.9L424.9,463.9L437.2,459.8L449.5,474.2L461.8,468.4L474.1,469.7L486.4,472.6L498.7,476.9L511.0,474.8L523.3,473.8L535.6,482.8L548.0,477.8L560.3,481.9L572.6,476.9L584.9,481.2L597.2,485.2L609.5,483.5L621.8,489.1L634.1,487.5" fill="none" stroke="#d62728" stroke-width="2.2" stroke-linejoin="round"/>
<path d="M117.1,416.1L129.4,429.7L141.7,444.3L154.0,448.0L166.3,445.0L178.7,446.4L191.0,450.7L203.3,451.2L215.6,455.6L227.9,452.7L240.2,453.4L252.5,454.2L264.8,456.9L277.1,458.6L289.4,464.5L301.8,460.7L314.1,461.0L326.4,453.6L338.7,456.8L351.0,461.9L363.3,458.2L375.6,459.4L387.9,461.2L400.2,477.2L412.5,467.9L424.9,466.9L437.2,462.8L449.5,476.8L461.8,470.7L474.1,472.5L486.4,475.2L498.7,479.7L511.0,477.8L523.3,476.6L535.6,485.5L548.0,480.4L560.3,484.6L572.6,479.0L584.9,483.8L597.2,487.7L609.5,486.0L621.8,491.4L634.1,490.0" fill="none" stroke="#1f77b4" stroke-width="3.6" stroke-linejoin="round"/>
<path d="M117.1,410.5L118.5,414.2L122.4,414.4L119.3,416.9L120.4,420.7L117.1,418.5L113.8,420.7L114.9,416.9L111.8,414.4L115.7,414.2ZM129.4,424.1L130.8,427.8L134.7,428.0L131.6,430.5L132.7,434.3L129.4,432.1L126.1,434.3L127.2,430.5L124.1,428.0L128.0,427.8ZM141.7,438.7L143.1,442.4L147.0,442.6L144.0,445.0L145.0,448.8L141.7,446.6L138.4,448.8L139.5,445.0L136.4,442.6L140.3,442.4ZM154.0,442.4L155.4,446.1L159.4,446.2L156.3,448.7L157.3,452.5L154.0,450.3L150.7,452.5L151.8,448.7L148.7,446.2L152.6,446.1ZM166.3,439.4L167.7,443.1L171.7,443.3L168.6,445.7L169.6,449.5L166.3,447.4L163.0,449.5L164.1,445.7L161.0,443.3L165.0,443.1ZM178.7,440.8L180.0,444.5L184.0,444.7L180.9,447.2L181.9,451.0L178.7,448.8L175.4,451.0L176.4,447.2L173.3,444.7L177.3,444.5ZM191.0,445.1L192.3,448.8L196.3,449.0L193.2,451.5L194.3,455.3L191.0,453.1L187.7,455.3L188.7,451.5L185.6,449.0L189.6,448.8ZM203.3,445.6L204.7,449.3L208.6,449.5L205.5,451.9L206.6,455.7L203.3,453.5L200.0,455.7L201.0,451.9L197.9,449.5L201.9,449.3ZM215.6,450.0L217.0,453.7L220.9,453.8L217.8,456.3L218.9,460.1L215.6,457.9L212.3,460.1L213.3,456.3L210.3,453.8L214.2,453.7ZM227.9,447.1L229.3,450.8L233.2,451.0L230.1,453.5L231.2,457.3L227.9,455.1L224.6,457.3L225.7,453.5L222.6,451.0L226.5,450.8ZM240.2,447.8L241.6,451.5L245.5,451.7L242.4,454.2L243.5,458.0L240.2,455.8L236.9,458.0L238.0,454.2L234.9,451.7L238.8,451.5ZM252.5,448.6L253.9,452.3L257.8,452.5L254.7,455.0L255.8,458.8L252.5,456.6L249.2,458.8L250.3,455.0L247.2,452.5L251.1,452.3ZM264.8,451.3L266.2,455.0L270.1,455.2L267.1,457.7L268.1,461.5L264.8,459.3L261.5,461.5L262.6,457.7L259.5,455.2L263.4,455.0ZM277.1,452.9L278.5,456.6L282.5,456.8L279.4,459.3L280.4,463.1L277.1,460.9L273.8,463.1L274.9,459.3L271.8,456.8L275.7,456.6ZM289.4,458.9L290.8,462.6L294.8,462.8L291.7,465.2L292.7,469.0L289.4,466.9L286.1,469.0L287.2,465.2L284.1,462.8L288.1,462.6ZM301.8,455.1L303.1,458.8L307.1,459.0L304.0,461.4L305.0,465.2L301.8,463.1L298.5,465.2L299.5,461.4L296.4,459.0L300.4,458.8ZM314.1,455.4L315.4,459.1L319.4,459.3L316.3,461.7L317.4,465.5L314.1,463.4L310.8,465.5L311.8,461.7L308.7,459.3L312.7,459.1ZM326.4,448.0L327.8,451.7L331.7,451.8L328.6,454.3L329.7,458.1L326.4,455.9L323.1,458.1L324.1,454.3L321.0,451.8L325.0,451.7ZM338.7,451.2L340.1,454.9L344.0,455.0L340.9,457.5L342.0,461.3L338.7,459.1L335.4,461.3L336.4,457.5L333.4,455.0L337.3,454.9ZM351.0,456.3L352.4,460.0L356.3,460.1L353.2,462.6L354.3,466.4L351.0,464.2L347.7,466.4L348.8,462.6L345.7,460.1L349.6,460.0ZM363.3,452.6L364.7,456.3L368.6,456.4L365.5,458.9L366.6,462.7L363.3,460.5L360.0,462.7L361.1,458.9L358.0,456.4L361.9,456.3ZM375.6,453.8L377.0,457.5L380.9,457.7L377.8,460.1L378.9,463.9L375.6,461.8L372.3,463.9L373.4,460.1L370.3,457.7L374.2,457.5ZM387.9,455.6L389.3,459.3L393.2,459.5L390.2,462.0L391.2,465.8L387.9,463.6L384.6,465.8L385.7,462.0L382.6,459.5L386.5,459.3ZM400.2,471.6L401.6,475.3L405.6,475.5L402.5,477.9L403.5,481.7L400.2,479.6L396.9,481.7L398.0,477.9L394.9,475.5L398.8,475.3ZM412.5,462.3L413.9,466.0L417.9,466.2L414.8,468.7L415.8,472.5L412.5,470.3L409.2,472.5L410.3,468.7L407.2,466.2L411.2,466.0ZM424.9,461.3L426.2,465.0L430.2,465.2L427.1,467.6L428.1,471.4L424.9,469.3L421.6,471.4L422.6,467.6L419.5,465.2L423.5,465.0ZM437.2,457.2L438.5,460.9L442.5,461.0L439.4,463.5L440.5,467.3L437.2,465.1L433.9,467.3L434.9,463.5L431.8,461.0L435.8,460.9ZM449.5,471.1L450.9,474.8L454.8,475.0L451.7,477.5L452.8,481.3L449.5,479.1L446.2,481.3L447.2,477.5L444.1,475.0L448.1,474.8ZM461.8,465.1L463.2,468.8L467.1,469.0L464.0,471.4L465.1,475.2L461.8,473.1L458.5,475.2L459.5,471.4L456.5,469.0L460.4,468.8ZM474.1,466.9L475.5,470.6L479.4,470.8L476.3,473.2L477.4,477.0L474.1,474.8L470.8,477.0L471.9,473.2L468.8,470.8L472.7,470.6ZM486.4,469.6L487.8,473.3L491.7,473.5L488.6,475.9L489.7,479.7L486.4,477.6L483.1,479.7L484.2,475.9L481.1,473.5L485.0,473.3ZM498.7,474.1L500.1,477.8L504.0,478.0L500.9,480.4L502.0,484.2L498.7,482.1L495.4,484.2L496.5,480.4L493.4,478.0L497.3,477.8ZM511.0,472.2L512.4,475.9L516.3,476.0L513.3,478.5L514.3,482.3L511.0,480.1L507.7,482.3L508.8,478.5L505.7,476.0L509.6,475.9ZM523.3,471.0L524.7,474.7L528.7,474.9L525.6,477.3L526.6,481.1L523.3,478.9L520.0,481.1L521.1,477.3L518.0,474.9L521.9,474.7ZM535.6,479.9L537.0,483.5L541.0,483.7L537.9,486.2L538.9,490.0L535.6,487.8L532.3,490.0L533.4,486.2L530.3,483.7L534.3,483.5ZM548.0,474.8L549.3,478.5L553.3,478.6L550.2,481.1L551.2,484.9L548.0,482.7L544.7,484.9L545.7,481.1L542.6,478.6L546.6,478.5ZM560.3,478.9L561.6,482.6L565.6,482.8L562.5,485.3L563.6,489.1L560.3,486.9L557.0,489.1L558.0,485.3L554.9,482.8L558.9,482.6ZM572.6,473.4L574.0,477.1L577.9,477.3L574.8,479.7L575.9,483.5L572.6,481.3L569.3,483.5L570.3,479.7L567.2,477.3L571.2,477.1ZM584.9,478.2L586.3,481.9L590.2,482.1L587.1,484.5L588.2,488.3L584.9,486.1L581.6,488.3L582.6,484.5L579.6,482.1L583.5,481.9ZM597.2,482.1L598.6,485.8L602.5,485.9L599.4,488.4L600.5,492.2L597.2,490.0L593.9,492.2L595.0,488.4L591.9,485.9L595.8,485.8ZM609.5,480.4L610.9,484.1L614.8,484.3L611.7,486.7L612.8,490.5L609.5,488.4L606.2,490.5L607.3,486.7L604.2,484.3L608.1,484.1ZM621.8,485.8L623.2,489.5L627.1,489.7L624.0,492.2L625.1,496.0L621.8,493.8L618.5,496.0L619.6,492.2L616.5,489.7L620.4,489.5ZM634.1,484.4L635.5,488.1L639.4,488.2L636.4,490.7L637.4,494.5L634.1,492.3L630.8,494.5L631.9,490.7L628.8,488.2L632.7,488.1Z" fill="#1f77b4"/>
<path d="M116.9,410.9L118.3,414.6L122.2,414.8L119.1,417.2L120.2,421.0L116.9,418.9L113.6,421.0L114.7,417.2L111.6,414.8L115.5,414.6Z" fill="#9467bd"/>
<path d="M117.1,429.0L129.5,455.0L141.9,478.0L154.2,476.0L166.6,481.0L179.0,486.5L191.4,488.0L203.8,483.5L216.2,487.0L228.5,487.5L240.9,489.0L253.3,491.0L265.7,493.0L278.1,492.0L290.4,496.3L302.8,494.5L315.2,497.0L327.6,498.8L340.0,501.5L352.4,503.2L364.7,504.7L377.1,507.6L389.5,506.9L401.9,509.0L414.3,510.5L426.6,511.5L439.0,512.0L451.4,513.0L463.8,514.0L476.2,516.9L488.6,519.8L500.9,521.0L513.3,521.3L525.7,521.8L538.1,523.0L550.5,523.9L562.9,529.2L575.2,529.2L587.6,528.6L600.0,533.5L612.4,537.7L624.8,537.2L637.1,539.8" fill="none" stroke="#000" stroke-width="2.6" stroke-linejoin="round"/>
<path d="M117.1,424.6L118.2,427.5L121.3,427.6L118.9,429.6L119.7,432.6L117.1,430.8L114.5,432.6L115.3,429.6L112.9,427.6L116.0,427.5ZM129.5,450.6L130.6,453.5L133.7,453.6L131.2,455.6L132.1,458.6L129.5,456.8L126.9,458.6L127.7,455.6L125.3,453.6L128.4,453.5ZM141.9,473.6L143.0,476.5L146.0,476.6L143.6,478.6L144.5,481.6L141.9,479.8L139.3,481.6L140.1,478.6L137.7,476.6L140.8,476.5ZM154.2,471.6L155.3,474.5L158.4,474.6L156.0,476.6L156.8,479.6L154.2,477.8L151.7,479.6L152.5,476.6L150.1,474.6L153.2,474.5ZM166.6,476.6L167.7,479.5L170.8,479.6L168.4,481.6L169.2,484.6L166.6,482.8L164.0,484.6L164.9,481.6L162.4,479.6L165.5,479.5ZM179.0,482.1L180.1,485.0L183.2,485.1L180.8,487.1L181.6,490.1L179.0,488.3L176.4,490.1L177.3,487.1L174.8,485.1L177.9,485.0ZM191.4,483.6L192.5,486.5L195.6,486.6L193.1,488.6L194.0,491.6L191.4,489.8L188.8,491.6L189.6,488.6L187.2,486.6L190.3,486.5ZM203.8,479.1L204.9,482.0L208.0,482.1L205.5,484.1L206.4,487.1L203.8,485.3L201.2,487.1L202.0,484.1L199.6,482.1L202.7,482.0ZM216.2,482.6L217.2,485.5L220.3,485.6L217.9,487.6L218.7,490.6L216.2,488.8L213.6,490.6L214.4,487.6L212.0,485.6L215.1,485.5ZM228.5,483.1L229.6,486.0L232.7,486.1L230.3,488.1L231.1,491.1L228.5,489.3L226.0,491.1L226.8,488.1L224.4,486.1L227.5,486.0ZM240.9,484.6L242.0,487.5L245.1,487.6L242.7,489.6L243.5,492.6L240.9,490.8L238.3,492.6L239.2,489.6L236.7,487.6L239.8,487.5ZM253.3,486.6L254.4,489.5L257.5,489.6L255.1,491.6L255.9,494.6L253.3,492.8L250.7,494.6L251.5,491.6L249.1,489.6L252.2,489.5ZM265.7,488.6L266.8,491.5L269.9,491.6L267.4,493.6L268.3,496.6L265.7,494.8L263.1,496.6L263.9,493.6L261.5,491.6L264.6,491.5ZM278.1,487.6L279.2,490.5L282.3,490.6L279.8,492.6L280.7,495.6L278.1,493.8L275.5,495.6L276.3,492.6L273.9,490.6L277.0,490.5ZM290.4,491.9L291.5,494.8L294.6,494.9L292.2,496.9L293.0,499.9L290.4,498.1L287.9,499.9L288.7,496.9L286.3,494.9L289.4,494.8ZM302.8,490.1L303.9,493.0L307.0,493.1L304.6,495.1L305.4,498.1L302.8,496.3L300.2,498.1L301.1,495.1L298.6,493.1L301.7,493.0ZM315.2,492.6L316.3,495.5L319.4,495.6L317.0,497.6L317.8,500.6L315.2,498.8L312.6,500.6L313.5,497.6L311.0,495.6L314.1,495.5ZM327.6,494.4L328.7,497.3L331.8,497.4L329.4,499.4L330.2,502.4L327.6,500.6L325.0,502.4L325.8,499.4L323.4,497.4L326.5,497.3ZM340.0,497.1L341.1,500.0L344.2,500.1L341.7,502.1L342.6,505.1L340.0,503.3L337.4,505.1L338.2,502.1L335.8,500.1L338.9,500.0ZM352.4,498.8L353.4,501.7L356.5,501.8L354.1,503.8L354.9,506.8L352.4,505.0L349.8,506.8L350.6,503.8L348.2,501.8L351.3,501.7ZM364.7,500.3L365.8,503.2L368.9,503.3L366.5,505.3L367.3,508.3L364.7,506.5L362.2,508.3L363.0,505.3L360.6,503.3L363.7,503.2ZM377.1,503.2L378.2,506.1L381.3,506.2L378.9,508.2L379.7,511.2L377.1,509.4L374.5,511.2L375.4,508.2L372.9,506.2L376.0,506.1ZM389.5,502.5L390.6,505.4L393.7,505.5L391.3,507.5L392.1,510.5L389.5,508.7L386.9,510.5L387.7,507.5L385.3,505.5L388.4,505.4ZM401.9,504.6L403.0,507.5L406.1,507.6L403.6,509.6L404.5,512.6L401.9,510.8L399.3,512.6L400.1,509.6L397.7,507.6L400.8,507.5ZM414.3,506.1L415.4,509.0L418.5,509.1L416.0,511.1L416.9,514.1L414.3,512.3L411.7,514.1L412.5,511.1L410.1,509.1L413.2,509.0ZM426.6,507.1L427.7,510.0L430.8,510.1L428.4,512.1L429.2,515.1L426.6,513.3L424.1,515.1L424.9,512.1L422.5,510.1L425.6,510.0ZM439.0,507.6L440.1,510.5L443.2,510.6L440.8,512.6L441.6,515.6L439.0,513.8L436.4,515.6L437.3,512.6L434.8,510.6L437.9,510.5ZM451.4,508.6L452.5,511.5L455.6,511.6L453.2,513.6L454.0,516.6L451.4,514.8L448.8,516.6L449.7,513.6L447.2,511.6L450.3,511.5ZM463.8,509.6L464.9,512.5L468.0,512.6L465.6,514.6L466.4,517.6L463.8,515.8L461.2,517.6L462.0,514.6L459.6,512.6L462.7,512.5ZM476.2,512.5L477.3,515.4L480.4,515.5L477.9,517.5L478.8,520.5L476.2,518.7L473.6,520.5L474.4,517.5L472.0,515.5L475.1,515.4ZM488.6,515.4L489.6,518.3L492.7,518.4L490.3,520.4L491.1,523.4L488.6,521.6L486.0,523.4L486.8,520.4L484.4,518.4L487.5,518.3ZM500.9,516.6L502.0,519.5L505.1,519.6L502.7,521.6L503.5,524.6L500.9,522.8L498.4,524.6L499.2,521.6L496.8,519.6L499.9,519.5ZM513.3,516.9L514.4,519.8L517.5,519.9L515.1,521.9L515.9,524.9L513.3,523.1L510.7,524.9L511.6,521.9L509.1,519.9L512.2,519.8ZM525.7,517.4L526.8,520.3L529.9,520.4L527.5,522.4L528.3,525.4L525.7,523.6L523.1,525.4L523.9,522.4L521.5,520.4L524.6,520.3ZM538.1,518.6L539.2,521.5L542.3,521.6L539.8,523.6L540.7,526.6L538.1,524.8L535.5,526.6L536.3,523.6L533.9,521.6L537.0,521.5ZM550.5,519.5L551.6,522.4L554.7,522.5L552.2,524.5L553.1,527.5L550.5,525.7L547.9,527.5L548.7,524.5L546.3,522.5L549.4,522.4ZM562.9,524.8L563.9,527.7L567.0,527.8L564.6,529.8L565.4,532.8L562.9,531.0L560.3,532.8L561.1,529.8L558.7,527.8L561.8,527.7ZM575.2,524.8L576.3,527.7L579.4,527.8L577.0,529.8L577.8,532.8L575.2,531.0L572.6,532.8L573.5,529.8L571.0,527.8L574.1,527.7ZM587.6,524.2L588.7,527.1L591.8,527.2L589.4,529.2L590.2,532.2L587.6,530.4L585.0,532.2L585.9,529.2L583.4,527.2L586.5,527.1ZM600.0,529.1L601.1,532.0L604.2,532.1L601.8,534.1L602.6,537.1L600.0,535.3L597.4,537.1L598.2,534.1L595.8,532.1L598.9,532.0ZM612.4,533.3L613.5,536.2L616.6,536.3L614.1,538.3L615.0,541.3L612.4,539.5L609.8,541.3L610.6,538.3L608.2,536.3L611.3,536.2ZM624.8,532.8L625.8,535.7L628.9,535.8L626.5,537.8L627.3,540.8L624.8,539.0L622.2,540.8L623.0,537.8L620.6,535.8L623.7,535.7ZM637.1,535.4L638.2,538.3L641.3,538.4L638.9,540.4L639.7,543.4L637.1,541.6L634.6,543.4L635.4,540.4L633.0,538.4L636.1,538.3Z" fill="#000"/>
<path d="M117.1,423.5L129.4,450.5L141.7,475.2L154.0,481.6L166.3,481.2L178.7,481.2L191.0,483.4L203.3,491.4L215.6,491.2L227.9,489.7L240.2,492.6L252.5,493.4L264.8,499.2L277.1,499.9L289.4,504.3L301.8,501.4L314.1,501.0L326.4,487.9L338.7,491.8L351.0,496.9L363.3,496.0L375.6,498.9L387.9,498.9L400.2,504.7L412.5,509.8L424.9,508.4L437.2,504.0L449.5,513.7L461.8,504.5L474.1,511.8L486.4,511.8L498.7,519.1L511.0,518.4L523.3,515.9L535.6,522.4L548.0,517.5L560.3,522.2L572.6,509.9L584.9,521.0L597.2,523.3L609.5,521.9L621.8,525.4L634.1,525.0" fill="none" stroke="#2b4cb0" stroke-width="3.2" stroke-linejoin="round"/>
<circle cx="117.1" cy="423.5" r="5.4" fill="#2b4cb0"/>
<circle cx="129.4" cy="450.5" r="5.4" fill="#2b4cb0"/>
<circle cx="141.7" cy="475.2" r="5.4" fill="#2b4cb0"/>
<circle cx="154.0" cy="481.6" r="5.4" fill="#2b4cb0"/>
<circle cx="166.3" cy="481.2" r="5.4" fill="#2b4cb0"/>
<circle cx="178.7" cy="481.2" r="5.4" fill="#2b4cb0"/>
<circle cx="191.0" cy="483.4" r="5.4" fill="#2b4cb0"/>
<circle cx="203.3" cy="491.4" r="5.4" fill="#2b4cb0"/>
<circle cx="215.6" cy="491.2" r="5.4" fill="#2b4cb0"/>
<circle cx="227.9" cy="489.7" r="5.4" fill="#2b4cb0"/>
<circle cx="240.2" cy="492.6" r="5.4" fill="#2b4cb0"/>
<circle cx="252.5" cy="493.4" r="5.4" fill="#2b4cb0"/>
<circle cx="264.8" cy="499.2" r="5.4" fill="#2b4cb0"/>
<circle cx="277.1" cy="499.9" r="5.4" fill="#2b4cb0"/>
<circle cx="289.4" cy="504.3" r="5.4" fill="#2b4cb0"/>
<circle cx="301.8" cy="501.4" r="5.4" fill="#2b4cb0"/>
<circle cx="314.1" cy="501.0" r="5.4" fill="#2b4cb0"/>
<circle cx="326.4" cy="487.9" r="5.4" fill="#2b4cb0"/>
<circle cx="338.7" cy="491.8" r="5.4" fill="#2b4cb0"/>
<circle cx="351.0" cy="496.9" r="5.4" fill="#2b4cb0"/>
<circle cx="363.3" cy="496.0" r="5.4" fill="#2b4cb0"/>
<circle cx="375.6" cy="498.9" r="5.4" fill="#2b4cb0"/>
<circle cx="387.9" cy="498.9" r="5.4" fill="#2b4cb0"/>
<circle cx="400.2" cy="504.7" r="5.4" fill="#2b4cb0"/>
<circle cx="412.5" cy="509.8" r="5.4" fill="#2b4cb0"/>
<circle cx="424.9" cy="508.4" r="5.4" fill="#2b4cb0"/>
<circle cx="437.2" cy="504.0" r="5.4" fill="#2b4cb0"/>
<circle cx="449.5" cy="513.7" r="5.4" fill="#2b4cb0"/>
<circle cx="461.8" cy="504.5" r="5.4" fill="#2b4cb0"/>
<circle cx="474.1" cy="511.8" r="5.4" fill="#2b4cb0"/>
<circle cx="486.4" cy="511.8" r="5.4" fill="#2b4cb0"/>
<circle cx="498.7" cy="519.1" r="5.4" fill="#2b4cb0"/>
<circle cx="511.0" cy="518.4" r="5.4" fill="#2b4cb0"/>
<circle cx="523.3" cy="515.9" r="5.4" fill="#2b4cb0"/>
<circle cx="535.6" cy="522.4" r="5.4" fill="#2b4cb0"/>
<circle cx="548.0" cy="517.5" r="5.4" fill="#2b4cb0"/>
<circle cx="560.3" cy="522.2" r="5.4" fill="#2b4cb0"/>
<circle cx="572.6" cy="509.9" r="5.4" fill="#2b4cb0"/>
<circle cx="584.9" cy="521.0" r="5.4" fill="#2b4cb0"/>
<circle cx="597.2" cy="523.3" r="5.4" fill="#2b4cb0"/>
<circle cx="609.5" cy="521.9" r="5.4" fill="#2b4cb0"/>
<circle cx="621.8" cy="525.4" r="5.4" fill="#2b4cb0"/>
<circle cx="634.1" cy="525.0" r="5.4" fill="#2b4cb0"/>
<rect x="91.2" y="393.9" width="572.8" height="158.8" fill="none" stroke="#4d4d4d" stroke-width="1.3"/>
<line x1="86.9" y1="393.9" x2="91.2" y2="393.9" stroke="#4d4d4d" stroke-width="1.1"/>
<text x="80.7" y="399.7" font-size="16.5" text-anchor="end" font-weight="normal" fill="#141414" stroke="#141414" stroke-width="0.25" >100</text>
<line x1="86.9" y1="457.5" x2="91.2" y2="457.5" stroke="#4d4d4d" stroke-width="1.1"/>
<text x="80.7" y="463.3" font-size="16.5" text-anchor="end" font-weight="normal" fill="#141414" stroke="#141414" stroke-width="0.25" >90</text>
<line x1="86.9" y1="521.0" x2="91.2" y2="521.0" stroke="#4d4d4d" stroke-width="1.1"/>
<text x="80.7" y="526.8" font-size="16.5" text-anchor="end" font-weight="normal" fill="#141414" stroke="#141414" stroke-width="0.25" >80</text>
<line x1="116.8" y1="552.7" x2="116.8" y2="557.0" stroke="#4d4d4d" stroke-width="1.1"/>
<text x="116.8" y="575.2" font-size="16.5" text-anchor="middle" font-weight="normal" fill="#141414" stroke="#141414" stroke-width="0.25" >0</text>
<line x1="201.9" y1="552.7" x2="201.9" y2="557.0" stroke="#4d4d4d" stroke-width="1.1"/>
<text x="201.9" y="575.2" font-size="16.5" text-anchor="middle" font-weight="normal" fill="#141414" stroke="#141414" stroke-width="0.25" >200</text>
<line x1="287.0" y1="552.7" x2="287.0" y2="557.0" stroke="#4d4d4d" stroke-width="1.1"/>
<text x="287.0" y="575.2" font-size="16.5" text-anchor="middle" font-weight="normal" fill="#141414" stroke="#141414" stroke-width="0.25" >400</text>
<line x1="372.1" y1="552.7" x2="372.1" y2="557.0" stroke="#4d4d4d" stroke-width="1.1"/>
<text x="372.1" y="575.2" font-size="16.5" text-anchor="middle" font-weight="normal" fill="#141414" stroke="#141414" stroke-width="0.25" >600</text>
<line x1="457.2" y1="552.7" x2="457.2" y2="557.0" stroke="#4d4d4d" stroke-width="1.1"/>
<text x="457.2" y="575.2" font-size="16.5" text-anchor="middle" font-weight="normal" fill="#141414" stroke="#141414" stroke-width="0.25" >800</text>
<line x1="542.3" y1="552.7" x2="542.3" y2="557.0" stroke="#4d4d4d" stroke-width="1.1"/>
<text x="542.3" y="575.2" font-size="16.5" text-anchor="middle" font-weight="normal" fill="#141414" stroke="#141414" stroke-width="0.25" >1000</text>
<line x1="627.4" y1="552.7" x2="627.4" y2="557.0" stroke="#4d4d4d" stroke-width="1.1"/>
<text x="627.4" y="575.2" font-size="16.5" text-anchor="middle" font-weight="normal" fill="#141414" stroke="#141414" stroke-width="0.25" >1200</text>
<text x="375.6" y="597.0" font-size="17.5" text-anchor="middle" font-weight="normal" fill="#141414" stroke="#141414" stroke-width="0.25" >cycle</text>
<text x="0" y="0" font-size="18" text-anchor="middle" fill="#141414" stroke="#141414" stroke-width="0.3" transform="translate(45.2,473) rotate(-90)">SOH (%)</text>
<text x="10.5" y="584.0" font-size="14.5" text-anchor="start" font-weight="bold" fill="#000" stroke="#000" stroke-width="0.25" >(g)</text>
<rect x="513.9" y="402.7" width="140.6" height="54.9" rx="3" fill="#fff" fill-opacity="0.85" stroke="#d4d4d4" stroke-width="1"/>
<line x1="519" y1="416" x2="557" y2="416" stroke="#000" stroke-width="2.6"/>
<path d="M538.0,411.8L538.9,414.7L542.0,414.7L539.5,416.5L540.5,419.4L538.0,417.6L535.5,419.4L536.5,416.5L534.0,414.7L537.1,414.7Z" fill="#000"/>
<line x1="519" y1="440.6" x2="557" y2="440.6" stroke="#2b4cb0" stroke-width="2.8"/>
<circle cx="538.4" cy="440.6" r="4.5" fill="#2b4cb0"/>
<text x="570.4" y="421.5" font-size="17.5" text-anchor="start" font-weight="normal" fill="#141414" stroke="#141414" stroke-width="0.25" >Pack_SOH</text>
<text x="570.4" y="446.5" font-size="17.5" text-anchor="start" font-weight="normal" fill="#141414" stroke="#141414" stroke-width="0.25" >Min_SOH</text>
<line x1="683.2" y1="1" x2="683.2" y2="611.5" stroke="#111" stroke-width="1.4"/>
<line x1="1" y1="611.2" x2="683.5" y2="611.2" stroke="#555" stroke-width="1.3"/>
</g>
</svg>
</body></html>
